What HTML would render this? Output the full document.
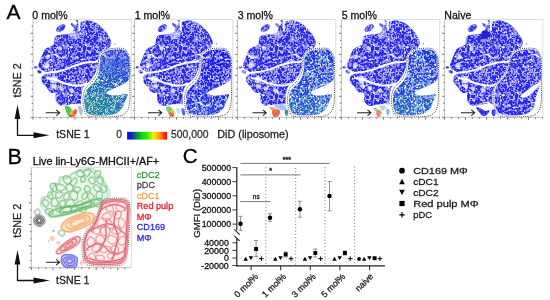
<!DOCTYPE html><html><head><meta charset="utf-8"><style>html,body{margin:0;padding:0;background:#fff;width:550px;height:300px;overflow:hidden}svg{display:block}text{font-family:"Liberation Sans", sans-serif}</style></head><body>
<svg width="550" height="300" viewBox="0 0 550 300">
<defs><pattern id="spW" width="48" height="48" patternUnits="userSpaceOnUse"><path d="M12,0h1v1h-1zM23,0h1v1h-1zM16,1h1v1h-1zM19,1h1v1h-1zM20,2h1v1h-1zM37,2h1v1h-1zM10,3h1v1h-1zM11,3h1v1h-1zM13,3h1v1h-1zM18,3h1v1h-1zM26,3h1v1h-1zM35,3h1v1h-1zM38,3h1v1h-1zM5,4h1v1h-1zM8,4h1v1h-1zM11,4h1v1h-1zM12,4h1v1h-1zM25,4h1v1h-1zM34,4h1v1h-1zM2,5h1v1h-1zM10,5h1v1h-1zM32,5h1v1h-1zM34,5h1v1h-1zM35,5h1v1h-1zM10,6h1v1h-1zM13,6h1v1h-1zM18,6h1v1h-1zM47,6h1v1h-1zM5,7h1v1h-1zM25,7h1v1h-1zM1,8h1v1h-1zM5,8h1v1h-1zM25,8h1v1h-1zM20,9h1v1h-1zM14,10h1v1h-1zM16,10h1v1h-1zM33,10h1v1h-1zM46,10h1v1h-1zM15,11h1v1h-1zM16,11h1v1h-1zM26,11h1v1h-1zM38,11h1v1h-1zM47,11h1v1h-1zM10,12h1v1h-1zM40,12h1v1h-1zM47,12h1v1h-1zM9,13h1v1h-1zM15,13h1v1h-1zM33,13h1v1h-1zM0,14h1v1h-1zM6,14h1v1h-1zM11,14h1v1h-1zM13,14h1v1h-1zM17,14h1v1h-1zM21,14h1v1h-1zM31,14h1v1h-1zM45,14h1v1h-1zM17,15h1v1h-1zM45,15h1v1h-1zM47,15h1v1h-1zM4,16h1v1h-1zM6,16h1v1h-1zM10,16h1v1h-1zM22,17h1v1h-1zM42,17h1v1h-1zM44,17h1v1h-1zM7,18h1v1h-1zM30,18h1v1h-1zM4,19h1v1h-1zM11,19h1v1h-1zM23,19h1v1h-1zM25,19h1v1h-1zM30,19h1v1h-1zM35,19h1v1h-1zM36,19h1v1h-1zM37,19h1v1h-1zM41,19h1v1h-1zM2,20h1v1h-1zM8,20h1v1h-1zM12,20h1v1h-1zM20,20h1v1h-1zM46,20h1v1h-1zM47,20h1v1h-1zM11,21h1v1h-1zM32,21h1v1h-1zM11,22h1v1h-1zM37,22h1v1h-1zM47,22h1v1h-1zM5,23h1v1h-1zM29,23h1v1h-1zM20,24h1v1h-1zM21,24h1v1h-1zM22,25h1v1h-1zM27,25h1v1h-1zM28,25h1v1h-1zM36,25h1v1h-1zM39,25h1v1h-1zM8,26h1v1h-1zM28,26h1v1h-1zM30,26h1v1h-1zM43,26h1v1h-1zM46,26h1v1h-1zM16,27h1v1h-1zM21,27h1v1h-1zM25,27h1v1h-1zM28,27h1v1h-1zM39,27h1v1h-1zM44,27h1v1h-1zM46,27h1v1h-1zM5,28h1v1h-1zM6,28h1v1h-1zM10,28h1v1h-1zM30,28h1v1h-1zM40,28h1v1h-1zM46,28h1v1h-1zM4,29h1v1h-1zM16,29h1v1h-1zM25,29h1v1h-1zM5,30h1v1h-1zM26,30h1v1h-1zM36,30h1v1h-1zM42,30h1v1h-1zM15,31h1v1h-1zM28,31h1v1h-1zM31,31h1v1h-1zM46,31h1v1h-1zM6,32h1v1h-1zM33,32h1v1h-1zM38,32h1v1h-1zM3,33h1v1h-1zM10,33h1v1h-1zM26,33h1v1h-1zM22,34h1v1h-1zM10,35h1v1h-1zM14,35h1v1h-1zM8,36h1v1h-1zM16,36h1v1h-1zM38,36h1v1h-1zM45,36h1v1h-1zM5,37h1v1h-1zM11,37h1v1h-1zM21,37h1v1h-1zM26,37h1v1h-1zM7,38h1v1h-1zM19,38h1v1h-1zM24,38h1v1h-1zM30,38h1v1h-1zM35,38h1v1h-1zM7,39h1v1h-1zM19,39h1v1h-1zM22,39h1v1h-1zM23,39h1v1h-1zM42,39h1v1h-1zM0,41h1v1h-1zM13,41h1v1h-1zM20,41h1v1h-1zM2,42h1v1h-1zM4,42h1v1h-1zM9,42h1v1h-1zM10,42h1v1h-1zM21,42h1v1h-1zM24,42h1v1h-1zM26,42h1v1h-1zM43,42h1v1h-1zM10,43h1v1h-1zM15,43h1v1h-1zM25,43h1v1h-1zM28,43h1v1h-1zM39,43h1v1h-1zM2,44h1v1h-1zM16,44h1v1h-1zM20,44h1v1h-1zM34,44h1v1h-1zM47,44h1v1h-1zM26,45h1v1h-1zM46,45h1v1h-1zM4,46h1v1h-1zM26,46h1v1h-1zM34,46h1v1h-1zM35,46h1v1h-1zM43,46h1v1h-1zM3,47h1v1h-1zM6,47h1v1h-1zM27,47h1v1h-1zM44,47h1v1h-1zM46,47h1v1h-1z" fill="#9c9cf8" fill-opacity="0.5"/><path d="M15,0h1v1h-1zM19,0h1v1h-1zM27,0h1v1h-1zM28,1h1v1h-1zM43,1h1v1h-1zM44,1h1v1h-1zM8,2h1v1h-1zM12,2h1v1h-1zM17,2h1v1h-1zM43,2h1v1h-1zM47,2h1v1h-1zM17,3h1v1h-1zM29,3h1v1h-1zM43,3h1v1h-1zM3,4h1v1h-1zM29,4h1v1h-1zM4,5h1v1h-1zM9,5h1v1h-1zM13,5h1v1h-1zM24,5h1v1h-1zM27,5h1v1h-1zM27,6h1v1h-1zM17,7h1v1h-1zM23,7h1v1h-1zM24,7h1v1h-1zM34,7h1v1h-1zM44,7h1v1h-1zM47,7h1v1h-1zM39,8h1v1h-1zM40,8h1v1h-1zM41,8h1v1h-1zM18,9h1v1h-1zM40,9h1v1h-1zM3,10h1v1h-1zM12,10h1v1h-1zM29,10h1v1h-1zM34,10h1v1h-1zM36,10h1v1h-1zM38,10h1v1h-1zM42,10h1v1h-1zM43,10h1v1h-1zM45,10h1v1h-1zM1,11h1v1h-1zM4,11h1v1h-1zM32,11h1v1h-1zM41,11h1v1h-1zM9,12h1v1h-1zM11,12h1v1h-1zM34,12h1v1h-1zM42,12h1v1h-1zM5,13h1v1h-1zM6,13h1v1h-1zM10,13h1v1h-1zM22,13h1v1h-1zM29,13h1v1h-1zM1,14h1v1h-1zM7,14h1v1h-1zM34,14h1v1h-1zM39,14h1v1h-1zM47,14h1v1h-1zM3,15h1v1h-1zM7,15h1v1h-1zM27,15h1v1h-1zM36,15h1v1h-1zM13,16h1v1h-1zM21,17h1v1h-1zM25,17h1v1h-1zM29,17h1v1h-1zM1,18h1v1h-1zM8,18h1v1h-1zM9,18h1v1h-1zM11,18h1v1h-1zM38,18h1v1h-1zM9,19h1v1h-1zM26,19h1v1h-1zM32,19h1v1h-1zM39,19h1v1h-1zM42,19h1v1h-1zM4,20h1v1h-1zM10,20h1v1h-1zM22,20h1v1h-1zM39,20h1v1h-1zM44,20h1v1h-1zM3,21h1v1h-1zM18,21h1v1h-1zM27,21h1v1h-1zM35,21h1v1h-1zM36,21h1v1h-1zM46,21h1v1h-1zM1,22h1v1h-1zM3,22h1v1h-1zM24,22h1v1h-1zM32,22h1v1h-1zM33,22h1v1h-1zM34,22h1v1h-1zM44,22h1v1h-1zM2,23h1v1h-1zM11,23h1v1h-1zM15,23h1v1h-1zM22,23h1v1h-1zM27,23h1v1h-1zM28,23h1v1h-1zM42,23h1v1h-1zM4,24h1v1h-1zM10,24h1v1h-1zM22,24h1v1h-1zM31,25h1v1h-1zM33,25h1v1h-1zM13,26h1v1h-1zM2,27h1v1h-1zM5,27h1v1h-1zM8,27h1v1h-1zM29,27h1v1h-1zM45,27h1v1h-1zM4,28h1v1h-1zM7,28h1v1h-1zM22,28h1v1h-1zM23,28h1v1h-1zM1,29h1v1h-1zM7,29h1v1h-1zM32,29h1v1h-1zM35,29h1v1h-1zM2,30h1v1h-1zM11,30h1v1h-1zM31,30h1v1h-1zM33,30h1v1h-1zM40,30h1v1h-1zM41,30h1v1h-1zM45,30h1v1h-1zM0,31h1v1h-1zM5,31h1v1h-1zM20,31h1v1h-1zM25,31h1v1h-1zM29,31h1v1h-1zM36,31h1v1h-1zM38,31h1v1h-1zM42,31h1v1h-1zM45,31h1v1h-1zM8,32h1v1h-1zM17,32h1v1h-1zM36,32h1v1h-1zM44,32h1v1h-1zM14,33h1v1h-1zM18,33h1v1h-1zM23,33h1v1h-1zM24,33h1v1h-1zM36,33h1v1h-1zM6,34h1v1h-1zM15,34h1v1h-1zM17,34h1v1h-1zM23,34h1v1h-1zM24,34h1v1h-1zM29,34h1v1h-1zM35,34h1v1h-1zM36,34h1v1h-1zM37,34h1v1h-1zM24,35h1v1h-1zM36,35h1v1h-1zM38,35h1v1h-1zM43,35h1v1h-1zM47,35h1v1h-1zM20,36h1v1h-1zM34,36h1v1h-1zM42,36h1v1h-1zM44,36h1v1h-1zM2,37h1v1h-1zM13,37h1v1h-1zM20,37h1v1h-1zM28,37h1v1h-1zM3,38h1v1h-1zM20,38h1v1h-1zM21,38h1v1h-1zM8,39h1v1h-1zM33,39h1v1h-1zM34,39h1v1h-1zM0,40h1v1h-1zM5,40h1v1h-1zM21,40h1v1h-1zM24,40h1v1h-1zM26,40h1v1h-1zM27,40h1v1h-1zM29,40h1v1h-1zM2,41h1v1h-1zM8,41h1v1h-1zM11,41h1v1h-1zM14,41h1v1h-1zM35,41h1v1h-1zM5,42h1v1h-1zM42,42h1v1h-1zM12,43h1v1h-1zM29,43h1v1h-1zM38,43h1v1h-1zM45,43h1v1h-1zM1,44h1v1h-1zM18,44h1v1h-1zM26,44h1v1h-1zM27,44h1v1h-1zM29,44h1v1h-1zM30,44h1v1h-1zM9,45h1v1h-1zM11,45h1v1h-1zM25,45h1v1h-1zM28,45h1v1h-1zM35,45h1v1h-1zM39,45h1v1h-1zM28,46h1v1h-1zM10,47h1v1h-1zM17,47h1v1h-1zM43,47h1v1h-1zM47,47h1v1h-1z" fill="#9c9cf8" fill-opacity="0.75"/><path d="M1,1h1v1h-1zM34,1h1v1h-1zM1,2h1v1h-1zM42,3h1v1h-1zM26,4h1v1h-1zM37,4h1v1h-1zM20,5h1v1h-1zM25,5h1v1h-1zM26,5h1v1h-1zM37,5h1v1h-1zM25,6h1v1h-1zM37,6h1v1h-1zM6,7h1v1h-1zM7,7h1v1h-1zM10,7h1v1h-1zM14,8h1v1h-1zM15,8h1v1h-1zM24,8h1v1h-1zM27,8h1v1h-1zM34,8h1v1h-1zM15,10h1v1h-1zM18,10h1v1h-1zM24,10h1v1h-1zM25,10h1v1h-1zM28,10h1v1h-1zM40,10h1v1h-1zM5,11h1v1h-1zM35,11h1v1h-1zM2,12h1v1h-1zM5,12h1v1h-1zM24,12h1v1h-1zM46,13h1v1h-1zM7,16h1v1h-1zM11,17h1v1h-1zM2,18h1v1h-1zM13,18h1v1h-1zM14,18h1v1h-1zM17,18h1v1h-1zM2,19h1v1h-1zM27,19h1v1h-1zM44,19h1v1h-1zM37,20h1v1h-1zM38,20h1v1h-1zM45,20h1v1h-1zM45,21h1v1h-1zM45,22h1v1h-1zM4,23h1v1h-1zM9,23h1v1h-1zM23,23h1v1h-1zM32,23h1v1h-1zM5,24h1v1h-1zM23,24h1v1h-1zM0,25h1v1h-1zM6,25h1v1h-1zM35,25h1v1h-1zM43,25h1v1h-1zM0,26h1v1h-1zM5,26h1v1h-1zM14,26h1v1h-1zM24,27h1v1h-1zM8,28h1v1h-1zM34,28h1v1h-1zM45,28h1v1h-1zM8,29h1v1h-1zM34,29h1v1h-1zM40,29h1v1h-1zM47,29h1v1h-1zM0,30h1v1h-1zM46,30h1v1h-1zM47,30h1v1h-1zM9,31h1v1h-1zM17,31h1v1h-1zM23,32h1v1h-1zM8,33h1v1h-1zM20,34h1v1h-1zM30,34h1v1h-1zM33,34h1v1h-1zM20,35h1v1h-1zM21,35h1v1h-1zM22,35h1v1h-1zM33,35h1v1h-1zM42,35h1v1h-1zM3,36h1v1h-1zM27,36h1v1h-1zM31,36h1v1h-1zM3,37h1v1h-1zM7,37h1v1h-1zM29,37h1v1h-1zM5,38h1v1h-1zM11,38h1v1h-1zM33,38h1v1h-1zM1,40h1v1h-1zM4,40h1v1h-1zM6,40h1v1h-1zM9,40h1v1h-1zM34,41h1v1h-1zM33,42h1v1h-1zM34,42h1v1h-1zM37,42h1v1h-1zM41,43h1v1h-1zM15,44h1v1h-1zM25,44h1v1h-1zM41,44h1v1h-1zM46,44h1v1h-1zM16,45h1v1h-1zM29,45h1v1h-1zM30,45h1v1h-1zM19,46h1v1h-1zM40,46h1v1h-1zM8,47h1v1h-1zM18,47h1v1h-1zM38,47h1v1h-1z" fill="#9c9cf8" fill-opacity="0.95"/><path d="M1,0h1v1h-1zM11,0h1v1h-1zM17,0h1v1h-1zM22,0h1v1h-1zM2,1h1v1h-1zM45,1h1v1h-1zM3,2h1v1h-1zM18,2h1v1h-1zM27,2h1v1h-1zM3,3h1v1h-1zM8,3h1v1h-1zM21,3h1v1h-1zM34,3h1v1h-1zM44,3h1v1h-1zM45,3h1v1h-1zM15,4h1v1h-1zM17,4h1v1h-1zM14,5h1v1h-1zM17,5h1v1h-1zM19,5h1v1h-1zM36,5h1v1h-1zM2,6h1v1h-1zM23,6h1v1h-1zM2,7h1v1h-1zM15,7h1v1h-1zM16,7h1v1h-1zM32,7h1v1h-1zM18,8h1v1h-1zM32,8h1v1h-1zM44,8h1v1h-1zM46,8h1v1h-1zM4,9h1v1h-1zM9,9h1v1h-1zM13,9h1v1h-1zM19,9h1v1h-1zM26,9h1v1h-1zM6,10h1v1h-1zM17,10h1v1h-1zM14,11h1v1h-1zM24,11h1v1h-1zM29,11h1v1h-1zM15,12h1v1h-1zM2,13h1v1h-1zM13,13h1v1h-1zM17,13h1v1h-1zM28,13h1v1h-1zM38,13h1v1h-1zM40,13h1v1h-1zM42,13h1v1h-1zM27,14h1v1h-1zM30,14h1v1h-1zM33,14h1v1h-1zM4,15h1v1h-1zM11,15h1v1h-1zM24,15h1v1h-1zM25,15h1v1h-1zM26,15h1v1h-1zM35,15h1v1h-1zM38,15h1v1h-1zM41,15h1v1h-1zM0,16h1v1h-1zM12,16h1v1h-1zM15,16h1v1h-1zM22,16h1v1h-1zM37,16h1v1h-1zM42,16h1v1h-1zM47,16h1v1h-1zM1,17h1v1h-1zM4,17h1v1h-1zM15,17h1v1h-1zM18,17h1v1h-1zM33,17h1v1h-1zM36,17h1v1h-1zM46,17h1v1h-1zM0,19h1v1h-1zM3,19h1v1h-1zM8,19h1v1h-1zM10,19h1v1h-1zM1,20h1v1h-1zM5,20h1v1h-1zM18,20h1v1h-1zM21,20h1v1h-1zM25,20h1v1h-1zM30,20h1v1h-1zM1,21h1v1h-1zM12,21h1v1h-1zM14,21h1v1h-1zM16,21h1v1h-1zM40,21h1v1h-1zM0,22h1v1h-1zM14,22h1v1h-1zM30,22h1v1h-1zM37,23h1v1h-1zM41,23h1v1h-1zM47,24h1v1h-1zM2,25h1v1h-1zM7,25h1v1h-1zM8,25h1v1h-1zM11,25h1v1h-1zM13,25h1v1h-1zM18,25h1v1h-1zM25,25h1v1h-1zM29,25h1v1h-1zM32,25h1v1h-1zM41,25h1v1h-1zM45,25h1v1h-1zM16,26h1v1h-1zM31,26h1v1h-1zM39,26h1v1h-1zM13,27h1v1h-1zM14,27h1v1h-1zM17,27h1v1h-1zM23,27h1v1h-1zM26,28h1v1h-1zM32,28h1v1h-1zM0,29h1v1h-1zM22,29h1v1h-1zM23,29h1v1h-1zM29,29h1v1h-1zM33,29h1v1h-1zM7,30h1v1h-1zM9,30h1v1h-1zM19,30h1v1h-1zM22,30h1v1h-1zM23,30h1v1h-1zM12,31h1v1h-1zM34,31h1v1h-1zM35,31h1v1h-1zM40,31h1v1h-1zM41,31h1v1h-1zM1,32h1v1h-1zM12,32h1v1h-1zM34,32h1v1h-1zM15,33h1v1h-1zM29,33h1v1h-1zM30,33h1v1h-1zM31,33h1v1h-1zM39,33h1v1h-1zM47,33h1v1h-1zM2,34h1v1h-1zM5,34h1v1h-1zM9,34h1v1h-1zM11,34h1v1h-1zM25,34h1v1h-1zM4,35h1v1h-1zM44,35h1v1h-1zM0,36h1v1h-1zM22,36h1v1h-1zM23,36h1v1h-1zM26,36h1v1h-1zM33,36h1v1h-1zM35,36h1v1h-1zM4,37h1v1h-1zM6,37h1v1h-1zM9,37h1v1h-1zM39,37h1v1h-1zM45,37h1v1h-1zM2,38h1v1h-1zM6,38h1v1h-1zM14,38h1v1h-1zM15,38h1v1h-1zM16,38h1v1h-1zM29,38h1v1h-1zM31,38h1v1h-1zM1,39h1v1h-1zM6,39h1v1h-1zM16,39h1v1h-1zM20,39h1v1h-1zM28,39h1v1h-1zM11,40h1v1h-1zM31,40h1v1h-1zM5,41h1v1h-1zM10,41h1v1h-1zM15,41h1v1h-1zM21,41h1v1h-1zM30,41h1v1h-1zM41,41h1v1h-1zM44,41h1v1h-1zM13,42h1v1h-1zM15,42h1v1h-1zM22,42h1v1h-1zM32,42h1v1h-1zM7,43h1v1h-1zM11,43h1v1h-1zM14,43h1v1h-1zM17,43h1v1h-1zM34,43h1v1h-1zM0,44h1v1h-1zM5,44h1v1h-1zM9,44h1v1h-1zM12,45h1v1h-1zM17,45h1v1h-1zM18,45h1v1h-1zM23,45h1v1h-1zM27,45h1v1h-1zM34,45h1v1h-1zM41,45h1v1h-1zM42,45h1v1h-1zM1,46h1v1h-1zM3,46h1v1h-1zM10,46h1v1h-1zM11,46h1v1h-1zM12,46h1v1h-1zM29,46h1v1h-1zM44,46h1v1h-1zM15,47h1v1h-1zM19,47h1v1h-1zM21,47h1v1h-1zM29,47h1v1h-1z" fill="#c4c4fa" fill-opacity="0.5"/><path d="M2,0h1v1h-1zM5,0h1v1h-1zM9,0h1v1h-1zM16,0h1v1h-1zM18,0h1v1h-1zM38,0h1v1h-1zM43,0h1v1h-1zM6,1h1v1h-1zM20,1h1v1h-1zM27,1h1v1h-1zM29,1h1v1h-1zM38,1h1v1h-1zM6,2h1v1h-1zM33,2h1v1h-1zM2,3h1v1h-1zM4,3h1v1h-1zM33,3h1v1h-1zM37,3h1v1h-1zM41,3h1v1h-1zM7,4h1v1h-1zM13,4h1v1h-1zM28,4h1v1h-1zM33,4h1v1h-1zM38,4h1v1h-1zM3,5h1v1h-1zM28,5h1v1h-1zM41,5h1v1h-1zM42,5h1v1h-1zM9,6h1v1h-1zM17,6h1v1h-1zM20,6h1v1h-1zM24,6h1v1h-1zM26,6h1v1h-1zM3,7h1v1h-1zM27,7h1v1h-1zM3,8h1v1h-1zM4,8h1v1h-1zM11,8h1v1h-1zM22,8h1v1h-1zM33,8h1v1h-1zM8,9h1v1h-1zM23,9h1v1h-1zM24,9h1v1h-1zM38,9h1v1h-1zM41,9h1v1h-1zM43,9h1v1h-1zM11,10h1v1h-1zM19,10h1v1h-1zM26,10h1v1h-1zM35,10h1v1h-1zM47,10h1v1h-1zM10,11h1v1h-1zM18,11h1v1h-1zM22,11h1v1h-1zM25,11h1v1h-1zM27,11h1v1h-1zM40,11h1v1h-1zM0,12h1v1h-1zM23,12h1v1h-1zM3,13h1v1h-1zM14,13h1v1h-1zM24,13h1v1h-1zM30,13h1v1h-1zM31,13h1v1h-1zM41,13h1v1h-1zM9,14h1v1h-1zM12,14h1v1h-1zM32,14h1v1h-1zM41,14h1v1h-1zM46,14h1v1h-1zM9,15h1v1h-1zM10,15h1v1h-1zM13,15h1v1h-1zM14,15h1v1h-1zM44,15h1v1h-1zM3,16h1v1h-1zM8,16h1v1h-1zM9,16h1v1h-1zM11,16h1v1h-1zM14,16h1v1h-1zM33,16h1v1h-1zM0,17h1v1h-1zM14,17h1v1h-1zM20,17h1v1h-1zM23,17h1v1h-1zM24,17h1v1h-1zM30,17h1v1h-1zM19,18h1v1h-1zM24,18h1v1h-1zM25,18h1v1h-1zM29,18h1v1h-1zM42,18h1v1h-1zM46,18h1v1h-1zM47,18h1v1h-1zM17,19h1v1h-1zM19,19h1v1h-1zM31,19h1v1h-1zM47,19h1v1h-1zM0,20h1v1h-1zM9,20h1v1h-1zM31,20h1v1h-1zM32,20h1v1h-1zM33,20h1v1h-1zM36,20h1v1h-1zM15,21h1v1h-1zM21,21h1v1h-1zM6,22h1v1h-1zM21,22h1v1h-1zM31,22h1v1h-1zM41,22h1v1h-1zM1,23h1v1h-1zM3,23h1v1h-1zM30,23h1v1h-1zM34,23h1v1h-1zM44,23h1v1h-1zM45,23h1v1h-1zM2,24h1v1h-1zM7,24h1v1h-1zM11,24h1v1h-1zM24,24h1v1h-1zM26,24h1v1h-1zM28,24h1v1h-1zM32,24h1v1h-1zM35,24h1v1h-1zM37,24h1v1h-1zM20,25h1v1h-1zM21,25h1v1h-1zM24,25h1v1h-1zM26,25h1v1h-1zM34,25h1v1h-1zM44,25h1v1h-1zM1,26h1v1h-1zM4,26h1v1h-1zM12,26h1v1h-1zM25,26h1v1h-1zM38,26h1v1h-1zM47,26h1v1h-1zM11,27h1v1h-1zM18,27h1v1h-1zM30,27h1v1h-1zM47,27h1v1h-1zM0,28h1v1h-1zM1,28h1v1h-1zM44,28h1v1h-1zM26,29h1v1h-1zM1,30h1v1h-1zM3,30h1v1h-1zM17,30h1v1h-1zM34,30h1v1h-1zM37,30h1v1h-1zM6,31h1v1h-1zM7,31h1v1h-1zM10,31h1v1h-1zM24,31h1v1h-1zM33,31h1v1h-1zM43,31h1v1h-1zM44,31h1v1h-1zM10,32h1v1h-1zM22,32h1v1h-1zM25,32h1v1h-1zM31,32h1v1h-1zM32,32h1v1h-1zM5,33h1v1h-1zM13,33h1v1h-1zM17,33h1v1h-1zM33,33h1v1h-1zM21,34h1v1h-1zM26,34h1v1h-1zM27,34h1v1h-1zM42,34h1v1h-1zM2,35h1v1h-1zM23,35h1v1h-1zM25,35h1v1h-1zM35,35h1v1h-1zM46,35h1v1h-1zM2,36h1v1h-1zM12,36h1v1h-1zM39,36h1v1h-1zM40,36h1v1h-1zM43,36h1v1h-1zM8,37h1v1h-1zM31,37h1v1h-1zM40,37h1v1h-1zM44,37h1v1h-1zM17,38h1v1h-1zM27,38h1v1h-1zM43,38h1v1h-1zM3,39h1v1h-1zM9,39h1v1h-1zM35,39h1v1h-1zM37,39h1v1h-1zM2,40h1v1h-1zM8,40h1v1h-1zM16,40h1v1h-1zM22,40h1v1h-1zM37,40h1v1h-1zM9,41h1v1h-1zM17,41h1v1h-1zM33,41h1v1h-1zM18,42h1v1h-1zM36,42h1v1h-1zM41,42h1v1h-1zM2,43h1v1h-1zM5,43h1v1h-1zM33,43h1v1h-1zM46,43h1v1h-1zM7,44h1v1h-1zM14,44h1v1h-1zM28,44h1v1h-1zM36,44h1v1h-1zM1,45h1v1h-1zM4,45h1v1h-1zM40,45h1v1h-1zM45,45h1v1h-1zM2,46h1v1h-1zM9,46h1v1h-1zM16,46h1v1h-1zM18,46h1v1h-1zM21,46h1v1h-1zM30,46h1v1h-1zM31,46h1v1h-1zM38,46h1v1h-1zM45,46h1v1h-1zM5,47h1v1h-1zM7,47h1v1h-1zM11,47h1v1h-1zM26,47h1v1h-1zM31,47h1v1h-1z" fill="#c4c4fa" fill-opacity="0.75"/><path d="M8,0h1v1h-1zM33,0h1v1h-1zM44,0h1v1h-1zM45,0h1v1h-1zM33,1h1v1h-1zM0,2h1v1h-1zM38,2h1v1h-1zM1,3h1v1h-1zM40,3h1v1h-1zM1,4h1v1h-1zM2,4h1v1h-1zM8,5h1v1h-1zM11,5h1v1h-1zM12,5h1v1h-1zM21,5h1v1h-1zM4,6h1v1h-1zM0,7h1v1h-1zM1,7h1v1h-1zM0,8h1v1h-1zM8,8h1v1h-1zM3,9h1v1h-1zM10,9h1v1h-1zM11,9h1v1h-1zM25,9h1v1h-1zM27,9h1v1h-1zM28,9h1v1h-1zM30,9h1v1h-1zM10,10h1v1h-1zM27,10h1v1h-1zM30,10h1v1h-1zM39,10h1v1h-1zM41,10h1v1h-1zM36,11h1v1h-1zM3,12h1v1h-1zM4,12h1v1h-1zM41,12h1v1h-1zM11,13h1v1h-1zM12,13h1v1h-1zM47,13h1v1h-1zM35,14h1v1h-1zM7,17h1v1h-1zM47,17h1v1h-1zM18,18h1v1h-1zM27,18h1v1h-1zM43,18h1v1h-1zM45,18h1v1h-1zM18,19h1v1h-1zM45,19h1v1h-1zM4,21h1v1h-1zM31,21h1v1h-1zM37,21h1v1h-1zM2,22h1v1h-1zM15,22h1v1h-1zM46,22h1v1h-1zM12,23h1v1h-1zM16,23h1v1h-1zM31,23h1v1h-1zM36,23h1v1h-1zM6,24h1v1h-1zM8,24h1v1h-1zM27,24h1v1h-1zM31,24h1v1h-1zM42,24h1v1h-1zM5,25h1v1h-1zM11,26h1v1h-1zM36,26h1v1h-1zM6,27h1v1h-1zM36,27h1v1h-1zM42,27h1v1h-1zM43,27h1v1h-1zM9,28h1v1h-1zM24,28h1v1h-1zM47,28h1v1h-1zM9,29h1v1h-1zM46,29h1v1h-1zM20,30h1v1h-1zM21,30h1v1h-1zM8,31h1v1h-1zM16,31h1v1h-1zM21,31h1v1h-1zM37,31h1v1h-1zM11,33h1v1h-1zM35,33h1v1h-1zM32,34h1v1h-1zM26,35h1v1h-1zM27,35h1v1h-1zM30,35h1v1h-1zM41,35h1v1h-1zM45,35h1v1h-1zM4,36h1v1h-1zM7,36h1v1h-1zM12,37h1v1h-1zM30,37h1v1h-1zM10,38h1v1h-1zM5,39h1v1h-1zM27,39h1v1h-1zM7,40h1v1h-1zM34,40h1v1h-1zM4,41h1v1h-1zM24,41h1v1h-1zM37,43h1v1h-1zM8,44h1v1h-1zM19,44h1v1h-1zM35,44h1v1h-1zM38,44h1v1h-1zM40,44h1v1h-1zM0,45h1v1h-1zM14,45h1v1h-1zM20,45h1v1h-1zM0,46h1v1h-1zM20,46h1v1h-1zM22,46h1v1h-1zM23,46h1v1h-1zM32,46h1v1h-1zM42,46h1v1h-1zM0,47h1v1h-1zM2,47h1v1h-1zM16,47h1v1h-1zM32,47h1v1h-1z" fill="#c4c4fa" fill-opacity="0.95"/><path d="M34,0h1v1h-1zM3,1h1v1h-1zM8,1h1v1h-1zM22,1h1v1h-1zM46,1h1v1h-1zM47,1h1v1h-1zM22,2h1v1h-1zM26,2h1v1h-1zM7,3h1v1h-1zM15,3h1v1h-1zM0,4h1v1h-1zM10,4h1v1h-1zM32,4h1v1h-1zM40,4h1v1h-1zM7,5h1v1h-1zM36,6h1v1h-1zM4,7h1v1h-1zM20,7h1v1h-1zM37,7h1v1h-1zM20,8h1v1h-1zM37,8h1v1h-1zM43,8h1v1h-1zM45,8h1v1h-1zM47,8h1v1h-1zM5,9h1v1h-1zM45,9h1v1h-1zM5,10h1v1h-1zM6,12h1v1h-1zM12,12h1v1h-1zM14,12h1v1h-1zM22,12h1v1h-1zM33,12h1v1h-1zM4,13h1v1h-1zM35,13h1v1h-1zM5,14h1v1h-1zM19,14h1v1h-1zM15,15h1v1h-1zM17,16h1v1h-1zM23,16h1v1h-1zM41,16h1v1h-1zM6,17h1v1h-1zM10,18h1v1h-1zM43,19h1v1h-1zM6,20h1v1h-1zM7,20h1v1h-1zM17,20h1v1h-1zM24,20h1v1h-1zM28,20h1v1h-1zM2,21h1v1h-1zM7,21h1v1h-1zM33,21h1v1h-1zM13,23h1v1h-1zM14,23h1v1h-1zM0,24h1v1h-1zM18,24h1v1h-1zM34,24h1v1h-1zM36,24h1v1h-1zM37,25h1v1h-1zM42,25h1v1h-1zM15,26h1v1h-1zM20,26h1v1h-1zM34,26h1v1h-1zM42,26h1v1h-1zM45,26h1v1h-1zM4,27h1v1h-1zM31,27h1v1h-1zM11,28h1v1h-1zM27,28h1v1h-1zM35,30h1v1h-1zM30,31h1v1h-1zM37,32h1v1h-1zM41,32h1v1h-1zM34,33h1v1h-1zM4,34h1v1h-1zM7,34h1v1h-1zM12,35h1v1h-1zM5,36h1v1h-1zM32,36h1v1h-1zM10,37h1v1h-1zM14,37h1v1h-1zM35,37h1v1h-1zM43,37h1v1h-1zM34,38h1v1h-1zM42,38h1v1h-1zM2,39h1v1h-1zM38,39h1v1h-1zM3,40h1v1h-1zM17,40h1v1h-1zM20,40h1v1h-1zM23,40h1v1h-1zM38,40h1v1h-1zM1,41h1v1h-1zM45,41h1v1h-1zM14,42h1v1h-1zM31,42h1v1h-1zM18,43h1v1h-1zM26,43h1v1h-1zM40,43h1v1h-1zM47,43h1v1h-1zM13,44h1v1h-1zM23,44h1v1h-1zM39,44h1v1h-1zM8,45h1v1h-1zM43,45h1v1h-1zM17,46h1v1h-1zM24,46h1v1h-1zM27,46h1v1h-1zM28,47h1v1h-1zM34,47h1v1h-1z" fill="#ffffff" fill-opacity="0.5"/><path d="M28,0h1v1h-1zM7,1h1v1h-1zM13,1h1v1h-1zM29,2h1v1h-1zM40,2h1v1h-1zM42,2h1v1h-1zM0,3h1v1h-1zM20,3h1v1h-1zM23,3h1v1h-1zM30,3h1v1h-1zM31,3h1v1h-1zM32,3h1v1h-1zM4,4h1v1h-1zM20,4h1v1h-1zM3,6h1v1h-1zM8,6h1v1h-1zM18,7h1v1h-1zM16,8h1v1h-1zM17,8h1v1h-1zM28,8h1v1h-1zM29,8h1v1h-1zM16,9h1v1h-1zM17,9h1v1h-1zM39,9h1v1h-1zM42,9h1v1h-1zM0,13h1v1h-1zM23,13h1v1h-1zM2,14h1v1h-1zM10,14h1v1h-1zM28,14h1v1h-1zM29,14h1v1h-1zM36,14h1v1h-1zM40,14h1v1h-1zM44,14h1v1h-1zM43,16h1v1h-1zM8,17h1v1h-1zM13,17h1v1h-1zM3,18h1v1h-1zM4,18h1v1h-1zM26,18h1v1h-1zM46,19h1v1h-1zM26,20h1v1h-1zM40,20h1v1h-1zM6,21h1v1h-1zM34,21h1v1h-1zM4,22h1v1h-1zM7,22h1v1h-1zM12,22h1v1h-1zM36,22h1v1h-1zM6,23h1v1h-1zM17,23h1v1h-1zM35,23h1v1h-1zM43,23h1v1h-1zM1,24h1v1h-1zM3,24h1v1h-1zM14,24h1v1h-1zM43,24h1v1h-1zM14,25h1v1h-1zM2,26h1v1h-1zM6,26h1v1h-1zM33,26h1v1h-1zM25,28h1v1h-1zM29,28h1v1h-1zM36,28h1v1h-1zM18,29h1v1h-1zM21,29h1v1h-1zM18,30h1v1h-1zM29,30h1v1h-1zM30,30h1v1h-1zM1,31h1v1h-1zM26,31h1v1h-1zM47,31h1v1h-1zM7,32h1v1h-1zM11,32h1v1h-1zM35,32h1v1h-1zM47,32h1v1h-1zM2,33h1v1h-1zM4,33h1v1h-1zM46,33h1v1h-1zM8,34h1v1h-1zM31,34h1v1h-1zM34,34h1v1h-1zM38,34h1v1h-1zM45,34h1v1h-1zM7,35h1v1h-1zM14,36h1v1h-1zM8,38h1v1h-1zM12,38h1v1h-1zM32,38h1v1h-1zM10,39h1v1h-1zM17,39h1v1h-1zM33,40h1v1h-1zM44,40h1v1h-1zM3,41h1v1h-1zM7,41h1v1h-1zM29,41h1v1h-1zM24,44h1v1h-1zM37,45h1v1h-1zM15,46h1v1h-1zM39,46h1v1h-1zM41,46h1v1h-1zM47,46h1v1h-1zM1,47h1v1h-1zM24,47h1v1h-1z" fill="#ffffff" fill-opacity="0.75"/><path d="M20,0h1v1h-1zM7,2h1v1h-1zM34,2h1v1h-1zM39,2h1v1h-1zM21,4h1v1h-1zM41,4h1v1h-1zM42,4h1v1h-1zM5,6h1v1h-1zM6,6h1v1h-1zM7,6h1v1h-1zM8,7h1v1h-1zM9,7h1v1h-1zM9,8h1v1h-1zM10,8h1v1h-1zM23,8h1v1h-1zM12,9h1v1h-1zM14,9h1v1h-1zM15,9h1v1h-1zM29,9h1v1h-1zM13,10h1v1h-1zM2,11h1v1h-1zM3,11h1v1h-1zM9,11h1v1h-1zM33,11h1v1h-1zM34,11h1v1h-1zM37,11h1v1h-1zM1,12h1v1h-1zM43,17h1v1h-1zM0,18h1v1h-1zM23,18h1v1h-1zM44,18h1v1h-1zM38,19h1v1h-1zM27,20h1v1h-1zM0,21h1v1h-1zM9,24h1v1h-1zM38,25h1v1h-1zM47,25h1v1h-1zM18,28h1v1h-1zM21,28h1v1h-1zM35,28h1v1h-1zM8,30h1v1h-1zM16,30h1v1h-1zM24,32h1v1h-1zM26,32h1v1h-1zM32,33h1v1h-1zM38,33h1v1h-1zM30,36h1v1h-1zM27,37h1v1h-1zM4,38h1v1h-1zM28,38h1v1h-1zM4,39h1v1h-1zM37,44h1v1h-1zM15,45h1v1h-1zM19,45h1v1h-1zM38,45h1v1h-1zM9,47h1v1h-1zM22,47h1v1h-1zM23,47h1v1h-1zM45,47h1v1h-1z" fill="#ffffff" fill-opacity="0.95"/></pattern><pattern id="spT" width="48" height="48" patternUnits="userSpaceOnUse"><path d="M24,0h1v1h-1zM13,1h1v1h-1zM15,2h1v1h-1zM41,2h1v1h-1zM3,3h1v1h-1zM7,3h1v1h-1zM46,3h1v1h-1zM47,3h1v1h-1zM30,4h1v1h-1zM18,7h1v1h-1zM30,7h1v1h-1zM44,7h1v1h-1zM23,8h1v1h-1zM41,8h1v1h-1zM27,9h1v1h-1zM32,9h1v1h-1zM2,10h1v1h-1zM3,10h1v1h-1zM19,11h1v1h-1zM28,11h1v1h-1zM2,12h1v1h-1zM19,13h1v1h-1zM42,13h1v1h-1zM8,14h1v1h-1zM14,16h1v1h-1zM42,16h1v1h-1zM1,17h1v1h-1zM5,17h1v1h-1zM14,17h1v1h-1zM13,18h1v1h-1zM41,18h1v1h-1zM10,19h1v1h-1zM11,19h1v1h-1zM27,19h1v1h-1zM45,20h1v1h-1zM32,21h1v1h-1zM45,21h1v1h-1zM1,22h1v1h-1zM4,22h1v1h-1zM13,22h1v1h-1zM18,24h1v1h-1zM27,24h1v1h-1zM37,24h1v1h-1zM8,25h1v1h-1zM11,25h1v1h-1zM13,25h1v1h-1zM31,25h1v1h-1zM33,25h1v1h-1zM43,26h1v1h-1zM47,26h1v1h-1zM5,27h1v1h-1zM14,27h1v1h-1zM33,28h1v1h-1zM14,29h1v1h-1zM17,29h1v1h-1zM28,29h1v1h-1zM47,29h1v1h-1zM0,30h1v1h-1zM36,30h1v1h-1zM39,30h1v1h-1zM44,30h1v1h-1zM0,31h1v1h-1zM7,31h1v1h-1zM36,31h1v1h-1zM13,32h1v1h-1zM47,32h1v1h-1zM3,33h1v1h-1zM12,33h1v1h-1zM25,33h1v1h-1zM42,33h1v1h-1zM4,34h1v1h-1zM14,34h1v1h-1zM19,34h1v1h-1zM24,35h1v1h-1zM27,35h1v1h-1zM0,36h1v1h-1zM16,36h1v1h-1zM22,36h1v1h-1zM32,37h1v1h-1zM8,38h1v1h-1zM12,38h1v1h-1zM36,38h1v1h-1zM47,38h1v1h-1zM0,39h1v1h-1zM15,39h1v1h-1zM18,39h1v1h-1zM22,39h1v1h-1zM22,40h1v1h-1zM38,41h1v1h-1zM0,42h1v1h-1zM16,42h1v1h-1zM35,42h1v1h-1zM22,44h1v1h-1zM23,44h1v1h-1zM2,45h1v1h-1zM7,46h1v1h-1zM23,47h1v1h-1z" fill="#2a5ad8" fill-opacity="0.5"/><path d="M28,0h1v1h-1zM32,0h1v1h-1zM37,0h1v1h-1zM43,0h1v1h-1zM19,1h1v1h-1zM23,1h1v1h-1zM25,2h1v1h-1zM9,3h1v1h-1zM36,3h1v1h-1zM4,4h1v1h-1zM5,4h1v1h-1zM7,4h1v1h-1zM15,5h1v1h-1zM22,5h1v1h-1zM26,5h1v1h-1zM28,5h1v1h-1zM47,5h1v1h-1zM10,6h1v1h-1zM12,6h1v1h-1zM26,6h1v1h-1zM35,6h1v1h-1zM45,6h1v1h-1zM6,7h1v1h-1zM22,7h1v1h-1zM41,7h1v1h-1zM7,8h1v1h-1zM14,8h1v1h-1zM17,8h1v1h-1zM25,9h1v1h-1zM30,9h1v1h-1zM35,10h1v1h-1zM36,10h1v1h-1zM38,10h1v1h-1zM9,11h1v1h-1zM22,11h1v1h-1zM26,11h1v1h-1zM42,11h1v1h-1zM46,12h1v1h-1zM10,13h1v1h-1zM25,13h1v1h-1zM32,13h1v1h-1zM5,14h1v1h-1zM28,14h1v1h-1zM45,14h1v1h-1zM17,15h1v1h-1zM43,15h1v1h-1zM4,16h1v1h-1zM36,16h1v1h-1zM4,17h1v1h-1zM33,17h1v1h-1zM36,17h1v1h-1zM6,18h1v1h-1zM19,18h1v1h-1zM33,18h1v1h-1zM45,18h1v1h-1zM9,19h1v1h-1zM39,19h1v1h-1zM34,20h1v1h-1zM29,21h1v1h-1zM33,21h1v1h-1zM44,21h1v1h-1zM22,22h1v1h-1zM16,23h1v1h-1zM18,23h1v1h-1zM32,23h1v1h-1zM12,24h1v1h-1zM19,24h1v1h-1zM39,24h1v1h-1zM44,24h1v1h-1zM45,24h1v1h-1zM19,25h1v1h-1zM36,25h1v1h-1zM38,25h1v1h-1zM9,26h1v1h-1zM23,26h1v1h-1zM40,26h1v1h-1zM25,27h1v1h-1zM38,27h1v1h-1zM6,28h1v1h-1zM6,30h1v1h-1zM45,30h1v1h-1zM34,31h1v1h-1zM38,31h1v1h-1zM45,31h1v1h-1zM4,33h1v1h-1zM9,33h1v1h-1zM28,33h1v1h-1zM29,33h1v1h-1zM35,33h1v1h-1zM46,33h1v1h-1zM1,35h1v1h-1zM2,35h1v1h-1zM43,35h1v1h-1zM46,35h1v1h-1zM2,36h1v1h-1zM3,36h1v1h-1zM14,36h1v1h-1zM43,36h1v1h-1zM46,36h1v1h-1zM17,37h1v1h-1zM18,37h1v1h-1zM31,37h1v1h-1zM30,38h1v1h-1zM40,38h1v1h-1zM45,38h1v1h-1zM28,39h1v1h-1zM43,39h1v1h-1zM45,39h1v1h-1zM47,39h1v1h-1zM3,40h1v1h-1zM5,40h1v1h-1zM38,40h1v1h-1zM24,41h1v1h-1zM21,42h1v1h-1zM6,43h1v1h-1zM19,43h1v1h-1zM46,43h1v1h-1zM24,44h1v1h-1zM45,44h1v1h-1zM30,45h1v1h-1zM28,46h1v1h-1zM45,46h1v1h-1zM4,47h1v1h-1zM9,47h1v1h-1z" fill="#2a5ad8" fill-opacity="0.75"/><path d="M9,0h1v1h-1zM6,1h1v1h-1zM1,2h1v1h-1zM14,4h1v1h-1zM15,4h1v1h-1zM20,4h1v1h-1zM35,4h1v1h-1zM47,4h1v1h-1zM27,5h1v1h-1zM21,6h1v1h-1zM13,7h1v1h-1zM30,8h1v1h-1zM6,11h1v1h-1zM23,11h1v1h-1zM24,11h1v1h-1zM29,12h1v1h-1zM42,12h1v1h-1zM1,14h1v1h-1zM38,14h1v1h-1zM12,15h1v1h-1zM46,16h1v1h-1zM8,17h1v1h-1zM10,17h1v1h-1zM40,18h1v1h-1zM20,19h1v1h-1zM21,19h1v1h-1zM22,19h1v1h-1zM21,22h1v1h-1zM11,23h1v1h-1zM24,23h1v1h-1zM47,23h1v1h-1zM0,24h1v1h-1zM10,24h1v1h-1zM9,25h1v1h-1zM44,25h1v1h-1zM45,25h1v1h-1zM47,25h1v1h-1zM30,27h1v1h-1zM2,29h1v1h-1zM3,29h1v1h-1zM34,29h1v1h-1zM15,31h1v1h-1zM16,31h1v1h-1zM46,31h1v1h-1zM8,32h1v1h-1zM47,33h1v1h-1zM23,37h1v1h-1zM1,38h1v1h-1zM43,38h1v1h-1zM24,39h1v1h-1zM25,39h1v1h-1zM1,42h1v1h-1zM15,44h1v1h-1zM6,45h1v1h-1zM14,45h1v1h-1zM36,46h1v1h-1zM35,47h1v1h-1z" fill="#2a5ad8" fill-opacity="0.95"/><path d="M2,0h1v1h-1zM46,0h1v1h-1zM18,2h1v1h-1zM12,3h1v1h-1zM19,3h1v1h-1zM22,3h1v1h-1zM37,3h1v1h-1zM38,3h1v1h-1zM12,4h1v1h-1zM13,4h1v1h-1zM44,4h1v1h-1zM3,5h1v1h-1zM10,5h1v1h-1zM9,7h1v1h-1zM16,7h1v1h-1zM36,7h1v1h-1zM3,8h1v1h-1zM6,8h1v1h-1zM8,9h1v1h-1zM14,9h1v1h-1zM17,9h1v1h-1zM34,9h1v1h-1zM38,9h1v1h-1zM47,9h1v1h-1zM40,10h1v1h-1zM43,10h1v1h-1zM4,11h1v1h-1zM9,12h1v1h-1zM31,12h1v1h-1zM36,14h1v1h-1zM3,15h1v1h-1zM13,15h1v1h-1zM23,15h1v1h-1zM27,15h1v1h-1zM28,15h1v1h-1zM31,15h1v1h-1zM37,15h1v1h-1zM19,16h1v1h-1zM22,16h1v1h-1zM27,16h1v1h-1zM33,16h1v1h-1zM40,16h1v1h-1zM30,17h1v1h-1zM46,17h1v1h-1zM5,18h1v1h-1zM11,18h1v1h-1zM18,18h1v1h-1zM29,18h1v1h-1zM28,19h1v1h-1zM43,19h1v1h-1zM38,20h1v1h-1zM43,20h1v1h-1zM47,20h1v1h-1zM3,21h1v1h-1zM21,21h1v1h-1zM8,22h1v1h-1zM39,22h1v1h-1zM40,22h1v1h-1zM45,22h1v1h-1zM15,23h1v1h-1zM26,23h1v1h-1zM29,23h1v1h-1zM38,23h1v1h-1zM16,24h1v1h-1zM21,25h1v1h-1zM13,26h1v1h-1zM19,26h1v1h-1zM7,27h1v1h-1zM27,27h1v1h-1zM36,27h1v1h-1zM46,27h1v1h-1zM47,27h1v1h-1zM19,28h1v1h-1zM32,28h1v1h-1zM22,29h1v1h-1zM9,30h1v1h-1zM20,30h1v1h-1zM25,30h1v1h-1zM26,30h1v1h-1zM34,30h1v1h-1zM9,31h1v1h-1zM14,31h1v1h-1zM42,31h1v1h-1zM11,32h1v1h-1zM22,32h1v1h-1zM37,32h1v1h-1zM20,33h1v1h-1zM33,35h1v1h-1zM47,35h1v1h-1zM27,36h1v1h-1zM47,36h1v1h-1zM29,37h1v1h-1zM2,38h1v1h-1zM37,38h1v1h-1zM9,40h1v1h-1zM24,40h1v1h-1zM32,41h1v1h-1zM46,41h1v1h-1zM3,42h1v1h-1zM1,43h1v1h-1zM10,43h1v1h-1zM30,44h1v1h-1zM34,44h1v1h-1zM0,45h1v1h-1zM16,45h1v1h-1zM33,45h1v1h-1zM29,46h1v1h-1zM31,46h1v1h-1zM43,46h1v1h-1z" fill="#40b0a0" fill-opacity="0.5"/><path d="M31,0h1v1h-1zM35,0h1v1h-1zM15,1h1v1h-1zM2,2h1v1h-1zM3,2h1v1h-1zM13,2h1v1h-1zM16,2h1v1h-1zM17,2h1v1h-1zM3,4h1v1h-1zM43,4h1v1h-1zM11,5h1v1h-1zM16,5h1v1h-1zM36,5h1v1h-1zM3,6h1v1h-1zM25,6h1v1h-1zM28,6h1v1h-1zM1,7h1v1h-1zM2,7h1v1h-1zM4,7h1v1h-1zM12,7h1v1h-1zM13,8h1v1h-1zM19,9h1v1h-1zM24,9h1v1h-1zM41,9h1v1h-1zM44,9h1v1h-1zM7,10h1v1h-1zM7,11h1v1h-1zM16,11h1v1h-1zM25,11h1v1h-1zM29,11h1v1h-1zM39,11h1v1h-1zM27,12h1v1h-1zM40,12h1v1h-1zM28,13h1v1h-1zM31,13h1v1h-1zM38,13h1v1h-1zM43,13h1v1h-1zM16,14h1v1h-1zM40,14h1v1h-1zM42,14h1v1h-1zM1,15h1v1h-1zM2,15h1v1h-1zM36,15h1v1h-1zM11,16h1v1h-1zM23,16h1v1h-1zM47,16h1v1h-1zM6,17h1v1h-1zM12,17h1v1h-1zM31,17h1v1h-1zM45,17h1v1h-1zM9,18h1v1h-1zM39,18h1v1h-1zM5,19h1v1h-1zM15,19h1v1h-1zM19,19h1v1h-1zM5,20h1v1h-1zM44,20h1v1h-1zM0,22h1v1h-1zM12,22h1v1h-1zM14,22h1v1h-1zM27,22h1v1h-1zM28,22h1v1h-1zM34,22h1v1h-1zM4,23h1v1h-1zM10,23h1v1h-1zM33,23h1v1h-1zM34,23h1v1h-1zM45,23h1v1h-1zM2,26h1v1h-1zM25,26h1v1h-1zM1,28h1v1h-1zM25,28h1v1h-1zM27,28h1v1h-1zM31,28h1v1h-1zM35,28h1v1h-1zM38,28h1v1h-1zM35,29h1v1h-1zM45,29h1v1h-1zM15,30h1v1h-1zM21,30h1v1h-1zM38,30h1v1h-1zM47,31h1v1h-1zM9,32h1v1h-1zM21,34h1v1h-1zM27,34h1v1h-1zM25,35h1v1h-1zM13,37h1v1h-1zM14,37h1v1h-1zM4,39h1v1h-1zM11,39h1v1h-1zM20,39h1v1h-1zM31,39h1v1h-1zM8,41h1v1h-1zM10,41h1v1h-1zM15,41h1v1h-1zM24,42h1v1h-1zM17,43h1v1h-1zM36,43h1v1h-1zM42,44h1v1h-1zM24,45h1v1h-1zM36,45h1v1h-1zM43,45h1v1h-1zM5,46h1v1h-1zM47,46h1v1h-1zM3,47h1v1h-1zM8,47h1v1h-1zM17,47h1v1h-1zM24,47h1v1h-1zM29,47h1v1h-1zM32,47h1v1h-1zM36,47h1v1h-1zM47,47h1v1h-1z" fill="#40b0a0" fill-opacity="0.75"/><path d="M8,0h1v1h-1zM17,0h1v1h-1zM21,0h1v1h-1zM4,2h1v1h-1zM6,2h1v1h-1zM35,3h1v1h-1zM23,4h1v1h-1zM32,4h1v1h-1zM33,4h1v1h-1zM18,5h1v1h-1zM24,5h1v1h-1zM2,6h1v1h-1zM27,6h1v1h-1zM42,7h1v1h-1zM46,7h1v1h-1zM19,8h1v1h-1zM19,10h1v1h-1zM23,10h1v1h-1zM3,11h1v1h-1zM11,12h1v1h-1zM43,12h1v1h-1zM41,13h1v1h-1zM2,14h1v1h-1zM12,14h1v1h-1zM17,14h1v1h-1zM27,14h1v1h-1zM9,16h1v1h-1zM13,16h1v1h-1zM31,20h1v1h-1zM14,21h1v1h-1zM17,21h1v1h-1zM18,21h1v1h-1zM17,22h1v1h-1zM29,22h1v1h-1zM46,24h1v1h-1zM1,25h1v1h-1zM2,28h1v1h-1zM3,28h1v1h-1zM34,28h1v1h-1zM25,29h1v1h-1zM24,30h1v1h-1zM1,31h1v1h-1zM32,31h1v1h-1zM8,33h1v1h-1zM0,34h1v1h-1zM3,34h1v1h-1zM24,34h1v1h-1zM38,35h1v1h-1zM30,37h1v1h-1zM46,37h1v1h-1zM19,38h1v1h-1zM25,38h1v1h-1zM26,38h1v1h-1zM34,38h1v1h-1zM42,38h1v1h-1zM32,39h1v1h-1zM33,39h1v1h-1zM35,39h1v1h-1zM44,39h1v1h-1zM35,40h1v1h-1zM2,41h1v1h-1zM3,41h1v1h-1zM26,41h1v1h-1zM22,42h1v1h-1zM27,45h1v1h-1zM24,46h1v1h-1z" fill="#40b0a0" fill-opacity="0.95"/><path d="M15,0h1v1h-1zM47,0h1v1h-1zM26,1h1v1h-1zM28,1h1v1h-1zM35,1h1v1h-1zM32,2h1v1h-1zM47,2h1v1h-1zM20,3h1v1h-1zM31,3h1v1h-1zM39,3h1v1h-1zM41,3h1v1h-1zM46,4h1v1h-1zM0,5h1v1h-1zM40,5h1v1h-1zM6,6h1v1h-1zM18,6h1v1h-1zM47,6h1v1h-1zM25,7h1v1h-1zM12,8h1v1h-1zM31,8h1v1h-1zM35,8h1v1h-1zM44,8h1v1h-1zM2,9h1v1h-1zM45,9h1v1h-1zM31,10h1v1h-1zM34,10h1v1h-1zM16,12h1v1h-1zM30,12h1v1h-1zM34,12h1v1h-1zM23,13h1v1h-1zM46,13h1v1h-1zM10,14h1v1h-1zM20,14h1v1h-1zM25,14h1v1h-1zM47,14h1v1h-1zM0,16h1v1h-1zM24,16h1v1h-1zM37,16h1v1h-1zM11,17h1v1h-1zM18,17h1v1h-1zM25,17h1v1h-1zM29,17h1v1h-1zM40,17h1v1h-1zM1,18h1v1h-1zM12,18h1v1h-1zM15,18h1v1h-1zM30,18h1v1h-1zM1,19h1v1h-1zM3,19h1v1h-1zM32,19h1v1h-1zM42,19h1v1h-1zM2,20h1v1h-1zM8,20h1v1h-1zM32,20h1v1h-1zM0,21h1v1h-1zM8,21h1v1h-1zM2,22h1v1h-1zM11,22h1v1h-1zM18,22h1v1h-1zM19,22h1v1h-1zM31,23h1v1h-1zM36,24h1v1h-1zM6,25h1v1h-1zM7,25h1v1h-1zM46,25h1v1h-1zM33,26h1v1h-1zM7,28h1v1h-1zM36,28h1v1h-1zM4,29h1v1h-1zM6,29h1v1h-1zM16,29h1v1h-1zM36,29h1v1h-1zM38,29h1v1h-1zM10,30h1v1h-1zM35,30h1v1h-1zM22,31h1v1h-1zM41,31h1v1h-1zM18,32h1v1h-1zM34,32h1v1h-1zM35,32h1v1h-1zM7,33h1v1h-1zM15,33h1v1h-1zM37,33h1v1h-1zM39,33h1v1h-1zM22,34h1v1h-1zM25,34h1v1h-1zM11,35h1v1h-1zM12,35h1v1h-1zM21,35h1v1h-1zM39,35h1v1h-1zM7,36h1v1h-1zM9,36h1v1h-1zM26,36h1v1h-1zM31,36h1v1h-1zM35,36h1v1h-1zM38,36h1v1h-1zM5,37h1v1h-1zM41,37h1v1h-1zM7,38h1v1h-1zM29,38h1v1h-1zM32,38h1v1h-1zM2,39h1v1h-1zM13,39h1v1h-1zM36,39h1v1h-1zM19,40h1v1h-1zM21,40h1v1h-1zM45,40h1v1h-1zM46,40h1v1h-1zM10,42h1v1h-1zM26,42h1v1h-1zM8,43h1v1h-1zM9,43h1v1h-1zM14,43h1v1h-1zM1,44h1v1h-1zM16,44h1v1h-1zM27,44h1v1h-1zM39,44h1v1h-1zM41,44h1v1h-1zM12,45h1v1h-1zM46,45h1v1h-1zM22,46h1v1h-1zM46,47h1v1h-1z" fill="#90d8b0" fill-opacity="0.5"/><path d="M1,0h1v1h-1zM20,0h1v1h-1zM30,0h1v1h-1zM8,1h1v1h-1zM9,1h1v1h-1zM12,1h1v1h-1zM39,1h1v1h-1zM5,2h1v1h-1zM35,2h1v1h-1zM18,3h1v1h-1zM40,3h1v1h-1zM40,4h1v1h-1zM41,4h1v1h-1zM25,5h1v1h-1zM29,5h1v1h-1zM39,5h1v1h-1zM46,5h1v1h-1zM30,6h1v1h-1zM42,6h1v1h-1zM14,7h1v1h-1zM28,7h1v1h-1zM40,7h1v1h-1zM26,8h1v1h-1zM27,8h1v1h-1zM42,8h1v1h-1zM28,9h1v1h-1zM35,9h1v1h-1zM37,9h1v1h-1zM42,9h1v1h-1zM16,10h1v1h-1zM26,10h1v1h-1zM40,11h1v1h-1zM3,12h1v1h-1zM6,12h1v1h-1zM15,12h1v1h-1zM36,12h1v1h-1zM29,13h1v1h-1zM33,13h1v1h-1zM15,14h1v1h-1zM4,15h1v1h-1zM24,15h1v1h-1zM41,15h1v1h-1zM43,16h1v1h-1zM13,17h1v1h-1zM15,17h1v1h-1zM20,17h1v1h-1zM31,18h1v1h-1zM36,18h1v1h-1zM13,19h1v1h-1zM1,20h1v1h-1zM20,20h1v1h-1zM9,22h1v1h-1zM33,22h1v1h-1zM35,22h1v1h-1zM25,23h1v1h-1zM5,24h1v1h-1zM9,24h1v1h-1zM13,24h1v1h-1zM15,24h1v1h-1zM35,24h1v1h-1zM40,24h1v1h-1zM3,25h1v1h-1zM34,25h1v1h-1zM40,25h1v1h-1zM38,26h1v1h-1zM44,26h1v1h-1zM6,27h1v1h-1zM17,27h1v1h-1zM31,27h1v1h-1zM15,28h1v1h-1zM44,28h1v1h-1zM9,29h1v1h-1zM18,29h1v1h-1zM2,30h1v1h-1zM16,30h1v1h-1zM43,30h1v1h-1zM33,31h1v1h-1zM4,32h1v1h-1zM17,32h1v1h-1zM27,32h1v1h-1zM43,32h1v1h-1zM13,34h1v1h-1zM28,34h1v1h-1zM29,34h1v1h-1zM29,35h1v1h-1zM45,35h1v1h-1zM25,36h1v1h-1zM0,37h1v1h-1zM44,37h1v1h-1zM39,38h1v1h-1zM41,38h1v1h-1zM12,39h1v1h-1zM21,39h1v1h-1zM23,39h1v1h-1zM27,40h1v1h-1zM43,40h1v1h-1zM23,41h1v1h-1zM27,41h1v1h-1zM43,41h1v1h-1zM38,42h1v1h-1zM43,42h1v1h-1zM5,44h1v1h-1zM6,44h1v1h-1zM18,44h1v1h-1zM20,44h1v1h-1zM33,44h1v1h-1zM26,45h1v1h-1zM45,45h1v1h-1zM2,46h1v1h-1zM3,46h1v1h-1zM25,46h1v1h-1zM27,46h1v1h-1zM40,47h1v1h-1z" fill="#90d8b0" fill-opacity="0.75"/><path d="M22,0h1v1h-1zM37,1h1v1h-1zM1,3h1v1h-1zM0,4h1v1h-1zM14,5h1v1h-1zM30,5h1v1h-1zM22,6h1v1h-1zM27,7h1v1h-1zM18,9h1v1h-1zM15,10h1v1h-1zM17,10h1v1h-1zM24,10h1v1h-1zM25,10h1v1h-1zM43,11h1v1h-1zM10,12h1v1h-1zM1,13h1v1h-1zM27,13h1v1h-1zM11,14h1v1h-1zM41,14h1v1h-1zM11,15h1v1h-1zM10,18h1v1h-1zM35,19h1v1h-1zM23,20h1v1h-1zM46,23h1v1h-1zM2,25h1v1h-1zM35,25h1v1h-1zM22,26h1v1h-1zM18,28h1v1h-1zM37,28h1v1h-1zM8,29h1v1h-1zM43,31h1v1h-1zM0,32h1v1h-1zM44,32h1v1h-1zM45,32h1v1h-1zM1,33h1v1h-1zM2,33h1v1h-1zM44,33h1v1h-1zM45,33h1v1h-1zM2,34h1v1h-1zM16,35h1v1h-1zM20,35h1v1h-1zM20,37h1v1h-1zM26,37h1v1h-1zM18,38h1v1h-1zM24,38h1v1h-1zM34,39h1v1h-1zM44,40h1v1h-1zM9,41h1v1h-1zM17,44h1v1h-1zM44,45h1v1h-1zM6,46h1v1h-1zM25,47h1v1h-1zM28,47h1v1h-1z" fill="#90d8b0" fill-opacity="0.95"/><path d="M40,0h1v1h-1zM14,1h1v1h-1zM17,1h1v1h-1zM22,1h1v1h-1zM33,1h1v1h-1zM40,1h1v1h-1zM19,2h1v1h-1zM22,2h1v1h-1zM26,3h1v1h-1zM8,4h1v1h-1zM23,5h1v1h-1zM42,5h1v1h-1zM7,6h1v1h-1zM40,6h1v1h-1zM41,6h1v1h-1zM25,8h1v1h-1zM28,8h1v1h-1zM7,9h1v1h-1zM44,10h1v1h-1zM13,11h1v1h-1zM18,12h1v1h-1zM35,12h1v1h-1zM37,12h1v1h-1zM22,13h1v1h-1zM30,14h1v1h-1zM32,14h1v1h-1zM44,14h1v1h-1zM20,15h1v1h-1zM21,15h1v1h-1zM26,16h1v1h-1zM43,17h1v1h-1zM2,19h1v1h-1zM24,20h1v1h-1zM29,20h1v1h-1zM7,21h1v1h-1zM31,21h1v1h-1zM40,21h1v1h-1zM47,21h1v1h-1zM10,22h1v1h-1zM26,22h1v1h-1zM5,23h1v1h-1zM23,23h1v1h-1zM24,24h1v1h-1zM12,25h1v1h-1zM18,25h1v1h-1zM26,25h1v1h-1zM41,25h1v1h-1zM42,25h1v1h-1zM43,25h1v1h-1zM3,26h1v1h-1zM8,26h1v1h-1zM11,26h1v1h-1zM30,26h1v1h-1zM31,26h1v1h-1zM4,27h1v1h-1zM18,27h1v1h-1zM20,27h1v1h-1zM46,30h1v1h-1zM29,31h1v1h-1zM36,32h1v1h-1zM23,33h1v1h-1zM30,33h1v1h-1zM36,34h1v1h-1zM44,34h1v1h-1zM46,34h1v1h-1zM33,36h1v1h-1zM21,37h1v1h-1zM28,37h1v1h-1zM43,37h1v1h-1zM21,38h1v1h-1zM14,39h1v1h-1zM2,40h1v1h-1zM7,40h1v1h-1zM14,40h1v1h-1zM28,40h1v1h-1zM39,40h1v1h-1zM13,41h1v1h-1zM35,41h1v1h-1zM23,42h1v1h-1zM37,42h1v1h-1zM25,43h1v1h-1zM35,43h1v1h-1zM9,44h1v1h-1zM19,44h1v1h-1zM25,44h1v1h-1zM13,45h1v1h-1zM34,45h1v1h-1zM1,46h1v1h-1zM19,46h1v1h-1zM23,46h1v1h-1zM30,46h1v1h-1zM38,46h1v1h-1zM7,47h1v1h-1zM30,47h1v1h-1zM38,47h1v1h-1zM44,47h1v1h-1z" fill="#b0d0f0" fill-opacity="0.5"/><path d="M6,0h1v1h-1zM45,0h1v1h-1zM16,1h1v1h-1zM27,1h1v1h-1zM38,1h1v1h-1zM20,2h1v1h-1zM6,3h1v1h-1zM23,3h1v1h-1zM1,4h1v1h-1zM24,4h1v1h-1zM26,4h1v1h-1zM38,4h1v1h-1zM39,4h1v1h-1zM7,5h1v1h-1zM13,5h1v1h-1zM17,5h1v1h-1zM0,6h1v1h-1zM19,6h1v1h-1zM29,6h1v1h-1zM33,6h1v1h-1zM43,6h1v1h-1zM34,7h1v1h-1zM16,8h1v1h-1zM29,8h1v1h-1zM43,8h1v1h-1zM6,9h1v1h-1zM46,9h1v1h-1zM14,10h1v1h-1zM30,11h1v1h-1zM34,11h1v1h-1zM41,11h1v1h-1zM47,11h1v1h-1zM4,12h1v1h-1zM16,13h1v1h-1zM18,13h1v1h-1zM0,14h1v1h-1zM19,14h1v1h-1zM31,14h1v1h-1zM43,14h1v1h-1zM46,14h1v1h-1zM10,15h1v1h-1zM16,15h1v1h-1zM19,15h1v1h-1zM38,15h1v1h-1zM40,15h1v1h-1zM46,15h1v1h-1zM10,16h1v1h-1zM12,16h1v1h-1zM28,16h1v1h-1zM38,17h1v1h-1zM44,17h1v1h-1zM14,18h1v1h-1zM16,18h1v1h-1zM38,18h1v1h-1zM0,19h1v1h-1zM7,19h1v1h-1zM16,19h1v1h-1zM30,19h1v1h-1zM37,19h1v1h-1zM14,20h1v1h-1zM17,20h1v1h-1zM41,20h1v1h-1zM42,20h1v1h-1zM35,21h1v1h-1zM31,22h1v1h-1zM44,22h1v1h-1zM47,22h1v1h-1zM2,23h1v1h-1zM6,23h1v1h-1zM14,24h1v1h-1zM32,24h1v1h-1zM4,25h1v1h-1zM24,26h1v1h-1zM35,26h1v1h-1zM46,26h1v1h-1zM8,27h1v1h-1zM5,28h1v1h-1zM8,28h1v1h-1zM24,29h1v1h-1zM42,29h1v1h-1zM8,30h1v1h-1zM10,31h1v1h-1zM23,31h1v1h-1zM7,32h1v1h-1zM16,32h1v1h-1zM38,32h1v1h-1zM46,32h1v1h-1zM5,33h1v1h-1zM21,33h1v1h-1zM38,33h1v1h-1zM23,34h1v1h-1zM39,34h1v1h-1zM17,35h1v1h-1zM37,35h1v1h-1zM40,35h1v1h-1zM8,36h1v1h-1zM18,36h1v1h-1zM21,36h1v1h-1zM30,36h1v1h-1zM32,36h1v1h-1zM36,36h1v1h-1zM36,37h1v1h-1zM42,37h1v1h-1zM3,38h1v1h-1zM4,38h1v1h-1zM6,38h1v1h-1zM1,39h1v1h-1zM6,39h1v1h-1zM27,39h1v1h-1zM8,40h1v1h-1zM12,40h1v1h-1zM32,40h1v1h-1zM36,40h1v1h-1zM16,41h1v1h-1zM21,41h1v1h-1zM37,41h1v1h-1zM44,41h1v1h-1zM2,42h1v1h-1zM8,42h1v1h-1zM18,43h1v1h-1zM20,43h1v1h-1zM38,43h1v1h-1zM31,44h1v1h-1zM35,44h1v1h-1zM37,44h1v1h-1zM17,45h1v1h-1zM28,45h1v1h-1zM35,46h1v1h-1zM44,46h1v1h-1zM2,47h1v1h-1zM19,47h1v1h-1zM31,47h1v1h-1zM34,47h1v1h-1zM39,47h1v1h-1zM42,47h1v1h-1z" fill="#b0d0f0" fill-opacity="0.75"/><path d="M23,0h1v1h-1zM25,0h1v1h-1zM27,0h1v1h-1zM5,1h1v1h-1zM24,1h1v1h-1zM37,2h1v1h-1zM4,3h1v1h-1zM18,4h1v1h-1zM21,4h1v1h-1zM32,5h1v1h-1zM33,5h1v1h-1zM35,5h1v1h-1zM1,6h1v1h-1zM31,6h1v1h-1zM26,7h1v1h-1zM18,8h1v1h-1zM46,8h1v1h-1zM31,9h1v1h-1zM43,9h1v1h-1zM18,10h1v1h-1zM15,13h1v1h-1zM30,13h1v1h-1zM37,13h1v1h-1zM30,16h1v1h-1zM9,17h1v1h-1zM37,17h1v1h-1zM14,19h1v1h-1zM23,19h1v1h-1zM31,19h1v1h-1zM38,19h1v1h-1zM40,19h1v1h-1zM21,20h1v1h-1zM22,20h1v1h-1zM9,21h1v1h-1zM0,23h1v1h-1zM1,23h1v1h-1zM17,23h1v1h-1zM1,24h1v1h-1zM11,24h1v1h-1zM47,24h1v1h-1zM10,25h1v1h-1zM6,26h1v1h-1zM39,26h1v1h-1zM7,29h1v1h-1zM15,29h1v1h-1zM0,33h1v1h-1zM43,33h1v1h-1zM1,34h1v1h-1zM16,34h1v1h-1zM20,34h1v1h-1zM45,34h1v1h-1zM3,35h1v1h-1zM19,35h1v1h-1zM19,37h1v1h-1zM22,37h1v1h-1zM20,38h1v1h-1zM31,38h1v1h-1zM26,39h1v1h-1zM46,39h1v1h-1zM13,40h1v1h-1zM47,40h1v1h-1zM25,41h1v1h-1zM9,42h1v1h-1zM25,42h1v1h-1zM14,44h1v1h-1zM36,44h1v1h-1zM5,45h1v1h-1zM7,45h1v1h-1zM15,45h1v1h-1zM31,45h1v1h-1zM4,46h1v1h-1zM26,46h1v1h-1zM33,46h1v1h-1zM34,46h1v1h-1zM37,46h1v1h-1zM21,47h1v1h-1zM45,47h1v1h-1z" fill="#b0d0f0" fill-opacity="0.95"/><path d="M0,1h1v1h-1zM7,1h1v1h-1zM38,2h1v1h-1zM11,3h1v1h-1zM17,3h1v1h-1zM25,3h1v1h-1zM19,5h1v1h-1zM20,5h1v1h-1zM13,6h1v1h-1zM14,6h1v1h-1zM15,6h1v1h-1zM24,6h1v1h-1zM45,7h1v1h-1zM4,9h1v1h-1zM5,9h1v1h-1zM9,10h1v1h-1zM0,11h1v1h-1zM33,11h1v1h-1zM35,11h1v1h-1zM28,12h1v1h-1zM32,12h1v1h-1zM0,13h1v1h-1zM5,13h1v1h-1zM44,13h1v1h-1zM4,14h1v1h-1zM9,15h1v1h-1zM42,15h1v1h-1zM29,16h1v1h-1zM8,18h1v1h-1zM32,18h1v1h-1zM8,19h1v1h-1zM24,19h1v1h-1zM13,20h1v1h-1zM15,22h1v1h-1zM24,22h1v1h-1zM43,22h1v1h-1zM3,23h1v1h-1zM13,23h1v1h-1zM19,23h1v1h-1zM30,23h1v1h-1zM2,24h1v1h-1zM38,24h1v1h-1zM15,25h1v1h-1zM21,26h1v1h-1zM36,26h1v1h-1zM15,27h1v1h-1zM29,27h1v1h-1zM32,27h1v1h-1zM39,27h1v1h-1zM40,27h1v1h-1zM4,28h1v1h-1zM12,28h1v1h-1zM39,28h1v1h-1zM43,28h1v1h-1zM1,29h1v1h-1zM11,29h1v1h-1zM12,29h1v1h-1zM12,30h1v1h-1zM32,30h1v1h-1zM33,30h1v1h-1zM8,31h1v1h-1zM26,31h1v1h-1zM3,32h1v1h-1zM19,32h1v1h-1zM33,32h1v1h-1zM34,33h1v1h-1zM17,34h1v1h-1zM37,34h1v1h-1zM6,35h1v1h-1zM1,36h1v1h-1zM42,36h1v1h-1zM15,37h1v1h-1zM35,37h1v1h-1zM45,37h1v1h-1zM22,38h1v1h-1zM3,39h1v1h-1zM8,39h1v1h-1zM33,40h1v1h-1zM30,41h1v1h-1zM6,42h1v1h-1zM33,42h1v1h-1zM2,43h1v1h-1zM45,43h1v1h-1zM2,44h1v1h-1zM43,44h1v1h-1zM47,44h1v1h-1zM10,45h1v1h-1zM18,45h1v1h-1zM25,45h1v1h-1zM13,46h1v1h-1zM6,47h1v1h-1zM18,47h1v1h-1zM26,47h1v1h-1zM43,47h1v1h-1z" fill="#ffffff" fill-opacity="0.5"/><path d="M16,0h1v1h-1zM26,0h1v1h-1zM39,0h1v1h-1zM1,1h1v1h-1zM2,1h1v1h-1zM10,1h1v1h-1zM43,1h1v1h-1zM0,2h1v1h-1zM12,2h1v1h-1zM31,2h1v1h-1zM36,2h1v1h-1zM0,3h1v1h-1zM5,3h1v1h-1zM16,4h1v1h-1zM19,4h1v1h-1zM34,4h1v1h-1zM8,5h1v1h-1zM38,5h1v1h-1zM45,5h1v1h-1zM3,7h1v1h-1zM7,7h1v1h-1zM31,7h1v1h-1zM43,7h1v1h-1zM12,11h1v1h-1zM17,11h1v1h-1zM18,11h1v1h-1zM1,12h1v1h-1zM25,12h1v1h-1zM44,12h1v1h-1zM2,13h1v1h-1zM9,13h1v1h-1zM11,13h1v1h-1zM14,13h1v1h-1zM17,13h1v1h-1zM36,13h1v1h-1zM9,14h1v1h-1zM5,15h1v1h-1zM25,16h1v1h-1zM38,16h1v1h-1zM0,17h1v1h-1zM34,18h1v1h-1zM37,18h1v1h-1zM46,18h1v1h-1zM29,19h1v1h-1zM28,20h1v1h-1zM35,20h1v1h-1zM40,20h1v1h-1zM13,21h1v1h-1zM26,21h1v1h-1zM27,21h1v1h-1zM28,21h1v1h-1zM3,22h1v1h-1zM30,22h1v1h-1zM21,23h1v1h-1zM22,23h1v1h-1zM39,23h1v1h-1zM4,24h1v1h-1zM5,25h1v1h-1zM32,26h1v1h-1zM0,27h1v1h-1zM3,27h1v1h-1zM19,27h1v1h-1zM37,27h1v1h-1zM43,27h1v1h-1zM28,28h1v1h-1zM30,28h1v1h-1zM40,28h1v1h-1zM32,29h1v1h-1zM33,29h1v1h-1zM7,30h1v1h-1zM47,30h1v1h-1zM2,31h1v1h-1zM3,31h1v1h-1zM24,31h1v1h-1zM25,31h1v1h-1zM2,32h1v1h-1zM24,32h1v1h-1zM25,32h1v1h-1zM6,33h1v1h-1zM24,33h1v1h-1zM34,34h1v1h-1zM43,34h1v1h-1zM9,35h1v1h-1zM10,35h1v1h-1zM18,35h1v1h-1zM22,35h1v1h-1zM26,35h1v1h-1zM17,36h1v1h-1zM29,36h1v1h-1zM12,37h1v1h-1zM27,37h1v1h-1zM34,37h1v1h-1zM0,38h1v1h-1zM44,38h1v1h-1zM5,39h1v1h-1zM10,40h1v1h-1zM11,40h1v1h-1zM15,40h1v1h-1zM32,42h1v1h-1zM21,43h1v1h-1zM13,44h1v1h-1zM46,44h1v1h-1zM1,45h1v1h-1zM8,45h1v1h-1zM32,45h1v1h-1zM47,45h1v1h-1zM42,46h1v1h-1zM46,46h1v1h-1zM16,47h1v1h-1zM22,47h1v1h-1zM27,47h1v1h-1z" fill="#ffffff" fill-opacity="0.75"/><path d="M44,0h1v1h-1zM20,1h1v1h-1zM25,1h1v1h-1zM11,4h1v1h-1zM22,4h1v1h-1zM31,4h1v1h-1zM21,5h1v1h-1zM31,5h1v1h-1zM11,6h1v1h-1zM34,6h1v1h-1zM46,6h1v1h-1zM19,7h1v1h-1zM36,8h1v1h-1zM15,9h1v1h-1zM36,9h1v1h-1zM41,10h1v1h-1zM44,11h1v1h-1zM41,12h1v1h-1zM40,13h1v1h-1zM37,14h1v1h-1zM31,16h1v1h-1zM7,17h1v1h-1zM7,18h1v1h-1zM34,19h1v1h-1zM41,19h1v1h-1zM0,20h1v1h-1zM9,20h1v1h-1zM12,21h1v1h-1zM22,21h1v1h-1zM30,21h1v1h-1zM0,25h1v1h-1zM32,25h1v1h-1zM39,25h1v1h-1zM1,27h1v1h-1zM2,27h1v1h-1zM1,30h1v1h-1zM23,30h1v1h-1zM42,30h1v1h-1zM11,31h1v1h-1zM44,31h1v1h-1zM1,32h1v1h-1zM5,32h1v1h-1zM6,32h1v1h-1zM10,32h1v1h-1zM32,32h1v1h-1zM15,34h1v1h-1zM38,34h1v1h-1zM47,34h1v1h-1zM32,35h1v1h-1zM19,36h1v1h-1zM20,36h1v1h-1zM24,37h1v1h-1zM25,37h1v1h-1zM47,37h1v1h-1zM23,38h1v1h-1zM35,38h1v1h-1zM46,38h1v1h-1zM22,41h1v1h-1zM38,44h1v1h-1zM37,45h1v1h-1zM38,45h1v1h-1zM33,47h1v1h-1z" fill="#ffffff" fill-opacity="0.95"/></pattern><pattern id="spL" width="48" height="48" patternUnits="userSpaceOnUse"><path d="M16,0h1v1h-1zM31,0h1v1h-1zM7,1h1v1h-1zM24,1h1v1h-1zM32,1h1v1h-1zM34,1h1v1h-1zM38,1h1v1h-1zM22,2h1v1h-1zM28,2h1v1h-1zM47,2h1v1h-1zM4,3h1v1h-1zM12,4h1v1h-1zM13,4h1v1h-1zM29,4h1v1h-1zM39,4h1v1h-1zM11,5h1v1h-1zM16,5h1v1h-1zM34,5h1v1h-1zM0,6h1v1h-1zM12,6h1v1h-1zM18,6h1v1h-1zM21,6h1v1h-1zM25,6h1v1h-1zM9,7h1v1h-1zM30,7h1v1h-1zM27,8h1v1h-1zM34,8h1v1h-1zM2,9h1v1h-1zM28,9h1v1h-1zM0,10h1v1h-1zM11,10h1v1h-1zM2,11h1v1h-1zM28,11h1v1h-1zM9,12h1v1h-1zM29,12h1v1h-1zM38,12h1v1h-1zM16,14h1v1h-1zM39,14h1v1h-1zM11,15h1v1h-1zM13,16h1v1h-1zM15,16h1v1h-1zM28,16h1v1h-1zM37,16h1v1h-1zM42,17h1v1h-1zM10,18h1v1h-1zM17,18h1v1h-1zM16,19h1v1h-1zM24,19h1v1h-1zM5,20h1v1h-1zM39,23h1v1h-1zM3,24h1v1h-1zM6,25h1v1h-1zM8,25h1v1h-1zM38,25h1v1h-1zM10,27h1v1h-1zM21,27h1v1h-1zM34,27h1v1h-1zM40,27h1v1h-1zM12,28h1v1h-1zM13,28h1v1h-1zM11,29h1v1h-1zM26,29h1v1h-1zM45,29h1v1h-1zM12,30h1v1h-1zM29,30h1v1h-1zM34,30h1v1h-1zM37,31h1v1h-1zM7,32h1v1h-1zM11,32h1v1h-1zM12,32h1v1h-1zM13,32h1v1h-1zM23,32h1v1h-1zM32,32h1v1h-1zM1,33h1v1h-1zM28,34h1v1h-1zM37,34h1v1h-1zM41,34h1v1h-1zM46,34h1v1h-1zM15,35h1v1h-1zM36,35h1v1h-1zM45,35h1v1h-1zM38,36h1v1h-1zM36,37h1v1h-1zM22,38h1v1h-1zM3,39h1v1h-1zM8,39h1v1h-1zM12,39h1v1h-1zM34,39h1v1h-1zM4,40h1v1h-1zM28,40h1v1h-1zM24,41h1v1h-1zM29,41h1v1h-1zM38,41h1v1h-1zM42,41h1v1h-1zM45,41h1v1h-1zM0,42h1v1h-1zM18,42h1v1h-1zM2,43h1v1h-1zM4,44h1v1h-1zM5,44h1v1h-1zM42,44h1v1h-1zM25,45h1v1h-1zM38,45h1v1h-1zM39,45h1v1h-1zM3,46h1v1h-1zM5,46h1v1h-1zM11,46h1v1h-1zM11,47h1v1h-1zM17,47h1v1h-1zM19,47h1v1h-1zM43,47h1v1h-1z" fill="#70c0e0" fill-opacity="0.5"/><path d="M24,0h1v1h-1zM40,0h1v1h-1zM47,0h1v1h-1zM3,1h1v1h-1zM30,1h1v1h-1zM36,1h1v1h-1zM0,2h1v1h-1zM23,2h1v1h-1zM43,2h1v1h-1zM29,3h1v1h-1zM45,3h1v1h-1zM4,5h1v1h-1zM21,5h1v1h-1zM2,6h1v1h-1zM28,6h1v1h-1zM32,6h1v1h-1zM45,6h1v1h-1zM47,6h1v1h-1zM33,7h1v1h-1zM21,8h1v1h-1zM31,8h1v1h-1zM32,8h1v1h-1zM44,8h1v1h-1zM8,9h1v1h-1zM20,9h1v1h-1zM32,9h1v1h-1zM38,9h1v1h-1zM6,10h1v1h-1zM1,12h1v1h-1zM32,12h1v1h-1zM36,12h1v1h-1zM12,13h1v1h-1zM30,13h1v1h-1zM31,13h1v1h-1zM36,13h1v1h-1zM28,14h1v1h-1zM30,14h1v1h-1zM40,15h1v1h-1zM11,16h1v1h-1zM20,16h1v1h-1zM29,16h1v1h-1zM17,17h1v1h-1zM18,17h1v1h-1zM25,17h1v1h-1zM12,18h1v1h-1zM13,18h1v1h-1zM17,20h1v1h-1zM15,22h1v1h-1zM40,23h1v1h-1zM8,24h1v1h-1zM23,24h1v1h-1zM31,24h1v1h-1zM37,24h1v1h-1zM25,25h1v1h-1zM45,25h1v1h-1zM24,26h1v1h-1zM46,26h1v1h-1zM37,27h1v1h-1zM21,28h1v1h-1zM25,28h1v1h-1zM38,28h1v1h-1zM41,28h1v1h-1zM45,28h1v1h-1zM19,29h1v1h-1zM34,29h1v1h-1zM15,30h1v1h-1zM42,31h1v1h-1zM4,32h1v1h-1zM20,32h1v1h-1zM44,32h1v1h-1zM26,33h1v1h-1zM14,34h1v1h-1zM31,34h1v1h-1zM43,34h1v1h-1zM16,35h1v1h-1zM37,35h1v1h-1zM37,36h1v1h-1zM46,36h1v1h-1zM4,37h1v1h-1zM15,37h1v1h-1zM25,37h1v1h-1zM29,37h1v1h-1zM32,37h1v1h-1zM40,37h1v1h-1zM42,37h1v1h-1zM9,38h1v1h-1zM30,38h1v1h-1zM42,38h1v1h-1zM45,38h1v1h-1zM36,39h1v1h-1zM46,39h1v1h-1zM16,40h1v1h-1zM7,41h1v1h-1zM2,42h1v1h-1zM11,43h1v1h-1zM12,43h1v1h-1zM16,43h1v1h-1zM44,43h1v1h-1zM11,44h1v1h-1zM21,44h1v1h-1zM32,44h1v1h-1zM10,45h1v1h-1zM30,45h1v1h-1zM35,46h1v1h-1zM42,46h1v1h-1zM30,47h1v1h-1z" fill="#70c0e0" fill-opacity="0.75"/><path d="M0,0h1v1h-1zM1,0h1v1h-1zM39,0h1v1h-1zM1,1h1v1h-1zM16,2h1v1h-1zM36,3h1v1h-1zM46,3h1v1h-1zM6,4h1v1h-1zM0,5h1v1h-1zM32,7h1v1h-1zM39,9h1v1h-1zM36,11h1v1h-1zM41,12h1v1h-1zM45,13h1v1h-1zM42,16h1v1h-1zM30,22h1v1h-1zM13,23h1v1h-1zM18,24h1v1h-1zM19,26h1v1h-1zM16,27h1v1h-1zM23,27h1v1h-1zM46,27h1v1h-1zM37,28h1v1h-1zM39,30h1v1h-1zM28,32h1v1h-1zM29,32h1v1h-1zM46,33h1v1h-1zM15,34h1v1h-1zM38,35h1v1h-1zM28,37h1v1h-1zM31,38h1v1h-1zM21,40h1v1h-1zM21,41h1v1h-1zM33,41h1v1h-1zM34,41h1v1h-1zM40,41h1v1h-1zM45,42h1v1h-1zM13,44h1v1h-1zM21,46h1v1h-1zM27,46h1v1h-1zM46,46h1v1h-1zM3,47h1v1h-1zM5,47h1v1h-1z" fill="#70c0e0" fill-opacity="0.95"/><path d="M43,0h1v1h-1zM6,1h1v1h-1zM13,1h1v1h-1zM20,1h1v1h-1zM37,1h1v1h-1zM29,2h1v1h-1zM31,2h1v1h-1zM44,2h1v1h-1zM45,2h1v1h-1zM22,3h1v1h-1zM32,3h1v1h-1zM17,4h1v1h-1zM19,4h1v1h-1zM33,4h1v1h-1zM7,5h1v1h-1zM11,7h1v1h-1zM4,8h1v1h-1zM9,8h1v1h-1zM18,8h1v1h-1zM22,8h1v1h-1zM29,8h1v1h-1zM34,9h1v1h-1zM36,9h1v1h-1zM16,10h1v1h-1zM35,10h1v1h-1zM7,11h1v1h-1zM30,11h1v1h-1zM4,12h1v1h-1zM6,12h1v1h-1zM13,12h1v1h-1zM25,12h1v1h-1zM1,13h1v1h-1zM7,13h1v1h-1zM8,13h1v1h-1zM20,13h1v1h-1zM21,13h1v1h-1zM27,13h1v1h-1zM38,13h1v1h-1zM37,14h1v1h-1zM32,15h1v1h-1zM2,17h1v1h-1zM31,18h1v1h-1zM35,18h1v1h-1zM43,18h1v1h-1zM46,18h1v1h-1zM32,19h1v1h-1zM22,20h1v1h-1zM24,21h1v1h-1zM36,21h1v1h-1zM39,22h1v1h-1zM6,23h1v1h-1zM23,23h1v1h-1zM24,23h1v1h-1zM31,23h1v1h-1zM36,23h1v1h-1zM15,24h1v1h-1zM41,24h1v1h-1zM3,25h1v1h-1zM5,25h1v1h-1zM7,25h1v1h-1zM29,25h1v1h-1zM36,25h1v1h-1zM3,27h1v1h-1zM18,28h1v1h-1zM40,28h1v1h-1zM1,30h1v1h-1zM19,30h1v1h-1zM43,30h1v1h-1zM35,31h1v1h-1zM31,32h1v1h-1zM30,33h1v1h-1zM21,35h1v1h-1zM27,35h1v1h-1zM32,35h1v1h-1zM43,35h1v1h-1zM7,36h1v1h-1zM42,36h1v1h-1zM19,37h1v1h-1zM30,37h1v1h-1zM20,38h1v1h-1zM26,39h1v1h-1zM40,39h1v1h-1zM41,39h1v1h-1zM44,39h1v1h-1zM47,39h1v1h-1zM0,40h1v1h-1zM12,40h1v1h-1zM22,40h1v1h-1zM43,40h1v1h-1zM6,41h1v1h-1zM10,41h1v1h-1zM22,41h1v1h-1zM46,43h1v1h-1zM7,44h1v1h-1zM35,44h1v1h-1zM27,45h1v1h-1zM29,45h1v1h-1zM43,46h1v1h-1zM7,47h1v1h-1zM18,47h1v1h-1z" fill="#80d0c0" fill-opacity="0.5"/><path d="M14,0h1v1h-1zM45,0h1v1h-1zM14,1h1v1h-1zM29,1h1v1h-1zM41,1h1v1h-1zM43,1h1v1h-1zM45,1h1v1h-1zM37,2h1v1h-1zM41,2h1v1h-1zM47,3h1v1h-1zM2,4h1v1h-1zM5,4h1v1h-1zM20,4h1v1h-1zM2,5h1v1h-1zM32,5h1v1h-1zM4,6h1v1h-1zM23,6h1v1h-1zM39,6h1v1h-1zM42,7h1v1h-1zM6,8h1v1h-1zM20,8h1v1h-1zM43,8h1v1h-1zM7,9h1v1h-1zM20,10h1v1h-1zM0,11h1v1h-1zM23,11h1v1h-1zM33,11h1v1h-1zM2,12h1v1h-1zM39,12h1v1h-1zM17,13h1v1h-1zM7,14h1v1h-1zM31,14h1v1h-1zM7,15h1v1h-1zM43,15h1v1h-1zM44,15h1v1h-1zM21,16h1v1h-1zM26,16h1v1h-1zM5,17h1v1h-1zM6,17h1v1h-1zM38,17h1v1h-1zM26,19h1v1h-1zM31,19h1v1h-1zM43,19h1v1h-1zM45,19h1v1h-1zM30,20h1v1h-1zM41,20h1v1h-1zM27,21h1v1h-1zM18,22h1v1h-1zM47,22h1v1h-1zM3,23h1v1h-1zM29,23h1v1h-1zM9,24h1v1h-1zM10,24h1v1h-1zM11,24h1v1h-1zM43,24h1v1h-1zM45,24h1v1h-1zM23,25h1v1h-1zM16,26h1v1h-1zM17,26h1v1h-1zM38,26h1v1h-1zM45,26h1v1h-1zM9,27h1v1h-1zM20,27h1v1h-1zM41,27h1v1h-1zM16,28h1v1h-1zM27,28h1v1h-1zM24,30h1v1h-1zM30,30h1v1h-1zM41,30h1v1h-1zM10,31h1v1h-1zM16,31h1v1h-1zM38,32h1v1h-1zM38,33h1v1h-1zM39,33h1v1h-1zM6,34h1v1h-1zM36,34h1v1h-1zM1,35h1v1h-1zM34,35h1v1h-1zM40,35h1v1h-1zM6,37h1v1h-1zM20,37h1v1h-1zM38,37h1v1h-1zM5,38h1v1h-1zM29,38h1v1h-1zM33,38h1v1h-1zM43,38h1v1h-1zM15,39h1v1h-1zM29,39h1v1h-1zM8,40h1v1h-1zM9,41h1v1h-1zM31,41h1v1h-1zM1,42h1v1h-1zM28,42h1v1h-1zM44,42h1v1h-1zM7,43h1v1h-1zM14,43h1v1h-1zM22,43h1v1h-1zM27,43h1v1h-1zM33,43h1v1h-1zM41,43h1v1h-1zM0,44h1v1h-1zM27,44h1v1h-1zM39,44h1v1h-1zM43,45h1v1h-1zM22,46h1v1h-1zM36,46h1v1h-1zM40,46h1v1h-1zM36,47h1v1h-1zM46,47h1v1h-1z" fill="#80d0c0" fill-opacity="0.75"/><path d="M22,0h1v1h-1zM35,2h1v1h-1zM12,3h1v1h-1zM20,3h1v1h-1zM21,3h1v1h-1zM46,5h1v1h-1zM37,6h1v1h-1zM46,6h1v1h-1zM38,10h1v1h-1zM8,11h1v1h-1zM40,11h1v1h-1zM18,12h1v1h-1zM5,13h1v1h-1zM18,13h1v1h-1zM27,14h1v1h-1zM27,15h1v1h-1zM41,15h1v1h-1zM41,16h1v1h-1zM39,19h1v1h-1zM40,19h1v1h-1zM5,21h1v1h-1zM6,21h1v1h-1zM11,21h1v1h-1zM30,21h1v1h-1zM5,22h1v1h-1zM25,22h1v1h-1zM10,23h1v1h-1zM18,23h1v1h-1zM22,23h1v1h-1zM7,24h1v1h-1zM39,24h1v1h-1zM24,29h1v1h-1zM25,29h1v1h-1zM46,29h1v1h-1zM28,31h1v1h-1zM28,33h1v1h-1zM23,34h1v1h-1zM39,34h1v1h-1zM14,35h1v1h-1zM35,36h1v1h-1zM3,38h1v1h-1zM39,38h1v1h-1zM15,40h1v1h-1zM25,40h1v1h-1zM22,42h1v1h-1zM33,42h1v1h-1zM34,42h1v1h-1zM0,43h1v1h-1zM45,43h1v1h-1zM1,44h1v1h-1zM20,45h1v1h-1zM34,45h1v1h-1zM28,46h1v1h-1zM22,47h1v1h-1zM31,47h1v1h-1zM45,47h1v1h-1z" fill="#80d0c0" fill-opacity="0.95"/><path d="M19,0h1v1h-1zM4,2h1v1h-1zM5,2h1v1h-1zM10,2h1v1h-1zM14,2h1v1h-1zM33,2h1v1h-1zM19,3h1v1h-1zM44,3h1v1h-1zM21,4h1v1h-1zM1,5h1v1h-1zM19,5h1v1h-1zM26,5h1v1h-1zM39,5h1v1h-1zM42,5h1v1h-1zM5,6h1v1h-1zM24,6h1v1h-1zM34,6h1v1h-1zM29,7h1v1h-1zM24,8h1v1h-1zM22,9h1v1h-1zM23,9h1v1h-1zM26,9h1v1h-1zM31,9h1v1h-1zM7,10h1v1h-1zM13,10h1v1h-1zM22,10h1v1h-1zM29,10h1v1h-1zM11,13h1v1h-1zM19,13h1v1h-1zM23,13h1v1h-1zM25,13h1v1h-1zM37,13h1v1h-1zM2,14h1v1h-1zM4,14h1v1h-1zM35,14h1v1h-1zM4,16h1v1h-1zM47,16h1v1h-1zM1,17h1v1h-1zM10,17h1v1h-1zM34,17h1v1h-1zM4,18h1v1h-1zM33,18h1v1h-1zM37,18h1v1h-1zM41,18h1v1h-1zM2,19h1v1h-1zM5,19h1v1h-1zM17,19h1v1h-1zM29,19h1v1h-1zM35,19h1v1h-1zM20,20h1v1h-1zM31,20h1v1h-1zM43,20h1v1h-1zM8,22h1v1h-1zM16,22h1v1h-1zM5,24h1v1h-1zM2,25h1v1h-1zM34,25h1v1h-1zM39,25h1v1h-1zM1,26h1v1h-1zM27,26h1v1h-1zM34,26h1v1h-1zM44,26h1v1h-1zM32,27h1v1h-1zM42,27h1v1h-1zM17,28h1v1h-1zM1,29h1v1h-1zM35,29h1v1h-1zM43,29h1v1h-1zM18,30h1v1h-1zM8,31h1v1h-1zM26,31h1v1h-1zM30,31h1v1h-1zM39,31h1v1h-1zM40,31h1v1h-1zM5,32h1v1h-1zM43,32h1v1h-1zM45,32h1v1h-1zM23,33h1v1h-1zM35,33h1v1h-1zM44,34h1v1h-1zM7,35h1v1h-1zM9,35h1v1h-1zM31,35h1v1h-1zM8,36h1v1h-1zM5,37h1v1h-1zM44,37h1v1h-1zM16,39h1v1h-1zM22,39h1v1h-1zM14,40h1v1h-1zM5,41h1v1h-1zM16,42h1v1h-1zM29,42h1v1h-1zM35,42h1v1h-1zM6,45h1v1h-1zM23,45h1v1h-1zM41,45h1v1h-1zM6,46h1v1h-1zM31,46h1v1h-1zM33,46h1v1h-1zM39,46h1v1h-1zM41,46h1v1h-1z" fill="#a0a0ff" fill-opacity="0.5"/><path d="M32,0h1v1h-1zM33,0h1v1h-1zM42,0h1v1h-1zM0,1h1v1h-1zM9,1h1v1h-1zM18,1h1v1h-1zM39,1h1v1h-1zM3,2h1v1h-1zM15,2h1v1h-1zM18,2h1v1h-1zM26,3h1v1h-1zM4,4h1v1h-1zM32,4h1v1h-1zM12,5h1v1h-1zM24,5h1v1h-1zM36,6h1v1h-1zM41,6h1v1h-1zM43,7h1v1h-1zM27,9h1v1h-1zM9,10h1v1h-1zM10,10h1v1h-1zM32,10h1v1h-1zM37,10h1v1h-1zM6,11h1v1h-1zM15,11h1v1h-1zM35,11h1v1h-1zM38,11h1v1h-1zM8,12h1v1h-1zM21,12h1v1h-1zM15,13h1v1h-1zM32,13h1v1h-1zM40,13h1v1h-1zM41,13h1v1h-1zM9,15h1v1h-1zM26,15h1v1h-1zM29,15h1v1h-1zM12,16h1v1h-1zM27,16h1v1h-1zM13,17h1v1h-1zM28,17h1v1h-1zM7,18h1v1h-1zM40,18h1v1h-1zM9,19h1v1h-1zM23,19h1v1h-1zM34,19h1v1h-1zM4,20h1v1h-1zM19,20h1v1h-1zM29,20h1v1h-1zM36,20h1v1h-1zM38,20h1v1h-1zM4,21h1v1h-1zM7,21h1v1h-1zM10,21h1v1h-1zM18,21h1v1h-1zM19,21h1v1h-1zM44,21h1v1h-1zM4,22h1v1h-1zM7,22h1v1h-1zM32,22h1v1h-1zM43,22h1v1h-1zM2,23h1v1h-1zM15,23h1v1h-1zM33,23h1v1h-1zM41,23h1v1h-1zM44,23h1v1h-1zM17,24h1v1h-1zM20,24h1v1h-1zM32,24h1v1h-1zM42,24h1v1h-1zM44,24h1v1h-1zM3,26h1v1h-1zM17,27h1v1h-1zM24,27h1v1h-1zM26,27h1v1h-1zM38,27h1v1h-1zM34,28h1v1h-1zM35,28h1v1h-1zM44,28h1v1h-1zM47,28h1v1h-1zM20,29h1v1h-1zM16,30h1v1h-1zM40,30h1v1h-1zM42,30h1v1h-1zM44,30h1v1h-1zM27,31h1v1h-1zM35,32h1v1h-1zM41,32h1v1h-1zM42,32h1v1h-1zM15,33h1v1h-1zM43,33h1v1h-1zM45,33h1v1h-1zM26,34h1v1h-1zM29,34h1v1h-1zM34,34h1v1h-1zM17,35h1v1h-1zM23,35h1v1h-1zM29,35h1v1h-1zM41,35h1v1h-1zM11,36h1v1h-1zM22,36h1v1h-1zM47,36h1v1h-1zM3,37h1v1h-1zM6,38h1v1h-1zM8,38h1v1h-1zM28,38h1v1h-1zM32,38h1v1h-1zM4,39h1v1h-1zM27,39h1v1h-1zM18,40h1v1h-1zM26,40h1v1h-1zM47,40h1v1h-1zM16,41h1v1h-1zM20,41h1v1h-1zM10,42h1v1h-1zM40,42h1v1h-1zM43,42h1v1h-1zM3,43h1v1h-1zM34,43h1v1h-1zM2,44h1v1h-1zM6,44h1v1h-1zM32,45h1v1h-1zM0,47h1v1h-1zM1,47h1v1h-1zM2,47h1v1h-1zM15,47h1v1h-1z" fill="#a0a0ff" fill-opacity="0.75"/><path d="M46,0h1v1h-1zM17,1h1v1h-1zM35,1h1v1h-1zM42,1h1v1h-1zM15,4h1v1h-1zM46,4h1v1h-1zM47,5h1v1h-1zM5,8h1v1h-1zM5,9h1v1h-1zM31,12h1v1h-1zM5,14h1v1h-1zM6,14h1v1h-1zM31,15h1v1h-1zM7,17h1v1h-1zM21,17h1v1h-1zM41,19h1v1h-1zM2,20h1v1h-1zM9,20h1v1h-1zM26,20h1v1h-1zM13,21h1v1h-1zM25,21h1v1h-1zM11,22h1v1h-1zM37,22h1v1h-1zM9,23h1v1h-1zM12,23h1v1h-1zM30,23h1v1h-1zM37,23h1v1h-1zM45,23h1v1h-1zM22,24h1v1h-1zM18,25h1v1h-1zM19,25h1v1h-1zM18,26h1v1h-1zM25,26h1v1h-1zM36,28h1v1h-1zM37,29h1v1h-1zM38,29h1v1h-1zM39,29h1v1h-1zM47,29h1v1h-1zM24,31h1v1h-1zM29,33h1v1h-1zM22,34h1v1h-1zM38,34h1v1h-1zM40,34h1v1h-1zM43,36h1v1h-1zM44,36h1v1h-1zM31,37h1v1h-1zM26,38h1v1h-1zM13,39h1v1h-1zM14,39h1v1h-1zM45,39h1v1h-1zM44,40h1v1h-1zM13,41h1v1h-1zM26,41h1v1h-1zM28,41h1v1h-1zM35,41h1v1h-1zM36,41h1v1h-1zM46,41h1v1h-1zM13,42h1v1h-1zM21,42h1v1h-1zM42,42h1v1h-1zM46,45h1v1h-1zM10,46h1v1h-1z" fill="#a0a0ff" fill-opacity="0.95"/><path d="M3,0h1v1h-1zM6,0h1v1h-1zM11,0h1v1h-1zM15,0h1v1h-1zM41,0h1v1h-1zM25,1h1v1h-1zM28,1h1v1h-1zM40,1h1v1h-1zM44,1h1v1h-1zM47,1h1v1h-1zM1,2h1v1h-1zM2,2h1v1h-1zM8,2h1v1h-1zM13,2h1v1h-1zM26,2h1v1h-1zM32,2h1v1h-1zM34,2h1v1h-1zM36,2h1v1h-1zM14,3h1v1h-1zM16,3h1v1h-1zM18,3h1v1h-1zM25,3h1v1h-1zM35,3h1v1h-1zM26,4h1v1h-1zM28,4h1v1h-1zM31,4h1v1h-1zM38,4h1v1h-1zM31,5h1v1h-1zM33,5h1v1h-1zM35,5h1v1h-1zM1,6h1v1h-1zM7,6h1v1h-1zM8,6h1v1h-1zM10,6h1v1h-1zM15,6h1v1h-1zM17,6h1v1h-1zM1,7h1v1h-1zM16,7h1v1h-1zM19,7h1v1h-1zM21,7h1v1h-1zM36,7h1v1h-1zM40,7h1v1h-1zM17,8h1v1h-1zM19,8h1v1h-1zM42,8h1v1h-1zM47,8h1v1h-1zM9,9h1v1h-1zM12,9h1v1h-1zM14,9h1v1h-1zM30,9h1v1h-1zM4,10h1v1h-1zM12,10h1v1h-1zM36,10h1v1h-1zM44,10h1v1h-1zM45,10h1v1h-1zM47,10h1v1h-1zM4,11h1v1h-1zM18,11h1v1h-1zM24,11h1v1h-1zM47,11h1v1h-1zM0,12h1v1h-1zM28,12h1v1h-1zM46,12h1v1h-1zM47,12h1v1h-1zM0,13h1v1h-1zM4,13h1v1h-1zM10,13h1v1h-1zM33,13h1v1h-1zM35,13h1v1h-1zM10,14h1v1h-1zM12,14h1v1h-1zM32,14h1v1h-1zM43,14h1v1h-1zM45,14h1v1h-1zM3,15h1v1h-1zM4,15h1v1h-1zM10,15h1v1h-1zM14,15h1v1h-1zM15,15h1v1h-1zM20,15h1v1h-1zM23,15h1v1h-1zM34,15h1v1h-1zM37,15h1v1h-1zM38,15h1v1h-1zM14,16h1v1h-1zM31,16h1v1h-1zM46,16h1v1h-1zM4,17h1v1h-1zM22,17h1v1h-1zM24,17h1v1h-1zM40,17h1v1h-1zM41,17h1v1h-1zM0,18h1v1h-1zM8,18h1v1h-1zM18,18h1v1h-1zM30,18h1v1h-1zM34,18h1v1h-1zM38,18h1v1h-1zM44,18h1v1h-1zM45,18h1v1h-1zM25,19h1v1h-1zM28,19h1v1h-1zM33,19h1v1h-1zM44,19h1v1h-1zM46,19h1v1h-1zM3,20h1v1h-1zM18,20h1v1h-1zM23,20h1v1h-1zM33,20h1v1h-1zM39,20h1v1h-1zM47,20h1v1h-1zM1,21h1v1h-1zM14,21h1v1h-1zM38,21h1v1h-1zM45,21h1v1h-1zM47,21h1v1h-1zM1,22h1v1h-1zM23,22h1v1h-1zM27,22h1v1h-1zM38,22h1v1h-1zM40,22h1v1h-1zM42,22h1v1h-1zM1,23h1v1h-1zM4,23h1v1h-1zM28,23h1v1h-1zM32,23h1v1h-1zM38,23h1v1h-1zM1,24h1v1h-1zM16,24h1v1h-1zM25,24h1v1h-1zM34,24h1v1h-1zM36,24h1v1h-1zM40,24h1v1h-1zM4,25h1v1h-1zM27,25h1v1h-1zM4,26h1v1h-1zM26,26h1v1h-1zM31,26h1v1h-1zM2,27h1v1h-1zM15,27h1v1h-1zM18,27h1v1h-1zM39,27h1v1h-1zM3,28h1v1h-1zM26,28h1v1h-1zM28,28h1v1h-1zM42,28h1v1h-1zM5,29h1v1h-1zM6,29h1v1h-1zM8,29h1v1h-1zM10,29h1v1h-1zM16,29h1v1h-1zM21,29h1v1h-1zM22,29h1v1h-1zM28,29h1v1h-1zM7,30h1v1h-1zM45,30h1v1h-1zM4,31h1v1h-1zM7,31h1v1h-1zM15,31h1v1h-1zM19,31h1v1h-1zM23,31h1v1h-1zM36,31h1v1h-1zM24,32h1v1h-1zM25,32h1v1h-1zM33,32h1v1h-1zM46,32h1v1h-1zM47,32h1v1h-1zM17,33h1v1h-1zM24,33h1v1h-1zM32,33h1v1h-1zM33,33h1v1h-1zM44,33h1v1h-1zM21,34h1v1h-1zM27,34h1v1h-1zM3,35h1v1h-1zM28,35h1v1h-1zM42,35h1v1h-1zM44,35h1v1h-1zM9,36h1v1h-1zM10,36h1v1h-1zM23,36h1v1h-1zM25,36h1v1h-1zM1,37h1v1h-1zM7,37h1v1h-1zM13,37h1v1h-1zM14,37h1v1h-1zM24,37h1v1h-1zM34,37h1v1h-1zM43,37h1v1h-1zM27,38h1v1h-1zM36,38h1v1h-1zM0,39h1v1h-1zM17,39h1v1h-1zM6,40h1v1h-1zM23,40h1v1h-1zM24,40h1v1h-1zM42,40h1v1h-1zM8,41h1v1h-1zM11,41h1v1h-1zM15,41h1v1h-1zM18,41h1v1h-1zM32,41h1v1h-1zM30,42h1v1h-1zM38,42h1v1h-1zM6,43h1v1h-1zM23,43h1v1h-1zM40,43h1v1h-1zM42,43h1v1h-1zM8,44h1v1h-1zM12,44h1v1h-1zM23,44h1v1h-1zM28,44h1v1h-1zM34,44h1v1h-1zM2,45h1v1h-1zM3,45h1v1h-1zM35,45h1v1h-1zM1,46h1v1h-1zM26,46h1v1h-1zM29,46h1v1h-1zM32,46h1v1h-1zM47,46h1v1h-1zM16,47h1v1h-1zM25,47h1v1h-1z" fill="#ffffff" fill-opacity="0.5"/><path d="M5,0h1v1h-1zM18,0h1v1h-1zM21,0h1v1h-1zM23,0h1v1h-1zM36,0h1v1h-1zM23,1h1v1h-1zM46,1h1v1h-1zM12,2h1v1h-1zM7,3h1v1h-1zM15,3h1v1h-1zM30,3h1v1h-1zM33,3h1v1h-1zM3,4h1v1h-1zM11,4h1v1h-1zM14,4h1v1h-1zM37,4h1v1h-1zM3,5h1v1h-1zM20,5h1v1h-1zM11,6h1v1h-1zM30,6h1v1h-1zM10,7h1v1h-1zM22,7h1v1h-1zM37,7h1v1h-1zM39,7h1v1h-1zM44,7h1v1h-1zM16,8h1v1h-1zM28,8h1v1h-1zM36,8h1v1h-1zM38,8h1v1h-1zM39,8h1v1h-1zM29,9h1v1h-1zM33,9h1v1h-1zM35,9h1v1h-1zM5,10h1v1h-1zM34,10h1v1h-1zM1,11h1v1h-1zM11,11h1v1h-1zM14,11h1v1h-1zM27,11h1v1h-1zM5,12h1v1h-1zM12,12h1v1h-1zM17,12h1v1h-1zM24,12h1v1h-1zM27,12h1v1h-1zM37,12h1v1h-1zM2,13h1v1h-1zM6,13h1v1h-1zM24,13h1v1h-1zM39,13h1v1h-1zM46,13h1v1h-1zM24,14h1v1h-1zM40,14h1v1h-1zM6,15h1v1h-1zM13,15h1v1h-1zM22,15h1v1h-1zM28,15h1v1h-1zM30,16h1v1h-1zM32,16h1v1h-1zM34,16h1v1h-1zM35,16h1v1h-1zM36,16h1v1h-1zM38,16h1v1h-1zM40,16h1v1h-1zM43,16h1v1h-1zM3,17h1v1h-1zM8,17h1v1h-1zM11,17h1v1h-1zM19,17h1v1h-1zM20,17h1v1h-1zM32,17h1v1h-1zM35,17h1v1h-1zM37,17h1v1h-1zM21,18h1v1h-1zM25,18h1v1h-1zM4,19h1v1h-1zM30,19h1v1h-1zM0,20h1v1h-1zM13,20h1v1h-1zM28,20h1v1h-1zM40,20h1v1h-1zM44,20h1v1h-1zM0,21h1v1h-1zM39,21h1v1h-1zM2,22h1v1h-1zM19,22h1v1h-1zM20,22h1v1h-1zM22,22h1v1h-1zM31,22h1v1h-1zM36,22h1v1h-1zM7,23h1v1h-1zM11,23h1v1h-1zM14,23h1v1h-1zM42,23h1v1h-1zM4,24h1v1h-1zM12,24h1v1h-1zM19,24h1v1h-1zM21,24h1v1h-1zM24,24h1v1h-1zM30,24h1v1h-1zM33,24h1v1h-1zM35,24h1v1h-1zM38,24h1v1h-1zM46,24h1v1h-1zM20,25h1v1h-1zM26,25h1v1h-1zM31,25h1v1h-1zM32,25h1v1h-1zM2,26h1v1h-1zM6,26h1v1h-1zM20,26h1v1h-1zM23,26h1v1h-1zM29,26h1v1h-1zM41,26h1v1h-1zM1,27h1v1h-1zM19,27h1v1h-1zM22,27h1v1h-1zM29,27h1v1h-1zM33,27h1v1h-1zM35,27h1v1h-1zM43,27h1v1h-1zM44,27h1v1h-1zM45,27h1v1h-1zM0,28h1v1h-1zM1,28h1v1h-1zM2,28h1v1h-1zM22,28h1v1h-1zM23,28h1v1h-1zM29,28h1v1h-1zM9,29h1v1h-1zM13,29h1v1h-1zM33,29h1v1h-1zM20,30h1v1h-1zM27,30h1v1h-1zM28,30h1v1h-1zM31,30h1v1h-1zM2,32h1v1h-1zM21,32h1v1h-1zM22,32h1v1h-1zM27,32h1v1h-1zM36,32h1v1h-1zM37,32h1v1h-1zM2,33h1v1h-1zM5,33h1v1h-1zM6,33h1v1h-1zM10,33h1v1h-1zM11,33h1v1h-1zM14,33h1v1h-1zM20,33h1v1h-1zM27,33h1v1h-1zM47,33h1v1h-1zM24,34h1v1h-1zM30,34h1v1h-1zM35,34h1v1h-1zM45,34h1v1h-1zM4,35h1v1h-1zM8,35h1v1h-1zM35,35h1v1h-1zM39,35h1v1h-1zM46,35h1v1h-1zM1,36h1v1h-1zM28,36h1v1h-1zM32,36h1v1h-1zM33,36h1v1h-1zM39,36h1v1h-1zM45,36h1v1h-1zM0,37h1v1h-1zM2,37h1v1h-1zM8,37h1v1h-1zM9,37h1v1h-1zM26,37h1v1h-1zM45,37h1v1h-1zM46,37h1v1h-1zM47,37h1v1h-1zM12,38h1v1h-1zM14,38h1v1h-1zM18,39h1v1h-1zM20,39h1v1h-1zM25,39h1v1h-1zM32,39h1v1h-1zM33,39h1v1h-1zM35,39h1v1h-1zM39,39h1v1h-1zM5,40h1v1h-1zM7,40h1v1h-1zM20,40h1v1h-1zM37,40h1v1h-1zM38,40h1v1h-1zM39,40h1v1h-1zM2,41h1v1h-1zM27,41h1v1h-1zM39,41h1v1h-1zM44,41h1v1h-1zM12,42h1v1h-1zM24,42h1v1h-1zM36,42h1v1h-1zM47,42h1v1h-1zM21,43h1v1h-1zM36,43h1v1h-1zM39,43h1v1h-1zM15,44h1v1h-1zM24,44h1v1h-1zM40,44h1v1h-1zM44,44h1v1h-1zM45,44h1v1h-1zM1,45h1v1h-1zM7,45h1v1h-1zM14,45h1v1h-1zM28,45h1v1h-1zM40,45h1v1h-1zM42,45h1v1h-1zM44,45h1v1h-1zM45,45h1v1h-1zM47,45h1v1h-1zM0,46h1v1h-1zM4,46h1v1h-1zM20,46h1v1h-1zM37,46h1v1h-1zM44,46h1v1h-1zM8,47h1v1h-1zM32,47h1v1h-1zM33,47h1v1h-1zM35,47h1v1h-1zM39,47h1v1h-1zM42,47h1v1h-1z" fill="#ffffff" fill-opacity="0.75"/><path d="M2,0h1v1h-1zM8,0h1v1h-1zM9,0h1v1h-1zM25,0h1v1h-1zM28,0h1v1h-1zM2,1h1v1h-1zM16,1h1v1h-1zM11,2h1v1h-1zM17,2h1v1h-1zM30,2h1v1h-1zM42,2h1v1h-1zM3,3h1v1h-1zM11,3h1v1h-1zM37,3h1v1h-1zM7,4h1v1h-1zM47,4h1v1h-1zM5,5h1v1h-1zM15,5h1v1h-1zM27,5h1v1h-1zM28,5h1v1h-1zM27,6h1v1h-1zM31,6h1v1h-1zM42,6h1v1h-1zM8,7h1v1h-1zM18,7h1v1h-1zM31,7h1v1h-1zM8,8h1v1h-1zM33,8h1v1h-1zM35,8h1v1h-1zM6,9h1v1h-1zM8,10h1v1h-1zM23,10h1v1h-1zM33,10h1v1h-1zM39,10h1v1h-1zM31,11h1v1h-1zM32,11h1v1h-1zM37,11h1v1h-1zM39,11h1v1h-1zM30,12h1v1h-1zM35,12h1v1h-1zM40,12h1v1h-1zM22,14h1v1h-1zM23,14h1v1h-1zM12,15h1v1h-1zM30,15h1v1h-1zM42,15h1v1h-1zM2,16h1v1h-1zM3,16h1v1h-1zM32,18h1v1h-1zM38,19h1v1h-1zM42,19h1v1h-1zM1,20h1v1h-1zM12,21h1v1h-1zM26,21h1v1h-1zM6,22h1v1h-1zM10,22h1v1h-1zM12,22h1v1h-1zM13,22h1v1h-1zM24,22h1v1h-1zM45,22h1v1h-1zM46,22h1v1h-1zM5,23h1v1h-1zM8,23h1v1h-1zM19,23h1v1h-1zM20,23h1v1h-1zM21,23h1v1h-1zM43,23h1v1h-1zM46,23h1v1h-1zM6,24h1v1h-1zM17,25h1v1h-1zM24,25h1v1h-1zM25,27h1v1h-1zM36,27h1v1h-1zM24,28h1v1h-1zM33,28h1v1h-1zM46,28h1v1h-1zM0,29h1v1h-1zM12,29h1v1h-1zM44,29h1v1h-1zM29,31h1v1h-1zM41,31h1v1h-1zM10,32h1v1h-1zM16,33h1v1h-1zM16,34h1v1h-1zM22,35h1v1h-1zM0,36h1v1h-1zM34,36h1v1h-1zM36,36h1v1h-1zM21,37h1v1h-1zM33,37h1v1h-1zM39,37h1v1h-1zM4,38h1v1h-1zM13,38h1v1h-1zM21,38h1v1h-1zM40,38h1v1h-1zM21,39h1v1h-1zM28,39h1v1h-1zM27,40h1v1h-1zM45,40h1v1h-1zM46,40h1v1h-1zM12,41h1v1h-1zM25,41h1v1h-1zM37,41h1v1h-1zM41,41h1v1h-1zM47,41h1v1h-1zM31,42h1v1h-1zM32,42h1v1h-1zM37,42h1v1h-1zM39,42h1v1h-1zM41,42h1v1h-1zM46,42h1v1h-1zM1,43h1v1h-1zM13,43h1v1h-1zM3,44h1v1h-1zM14,44h1v1h-1zM33,44h1v1h-1zM21,45h1v1h-1zM33,45h1v1h-1zM34,46h1v1h-1zM45,46h1v1h-1zM4,47h1v1h-1zM28,47h1v1h-1z" fill="#ffffff" fill-opacity="0.95"/></pattern></defs>
<rect width="550" height="300" fill="#fff"/>
<linearGradient id="gT" x1="0.3" x2="0" y1="0" y2="1"><stop offset="0" stop-color="#2a40de"/><stop offset="0.35" stop-color="#2a52d0"/><stop offset="0.55" stop-color="#2a70b8"/><stop offset="0.8" stop-color="#2c88a0"/><stop offset="1" stop-color="#2e9490"/></linearGradient><linearGradient id="gL" x1="0" x2="0" y1="0" y2="1"><stop offset="0" stop-color="#2030ea"/><stop offset="0.5" stop-color="#2a44e0"/><stop offset="1" stop-color="#3068c8"/></linearGradient><linearGradient id="gB" x1="0" x2="0" y1="0" y2="1"><stop offset="0" stop-color="#1a1af0"/><stop offset="0.6" stop-color="#1c24ec"/><stop offset="1" stop-color="#2848d8"/></linearGradient><linearGradient id="gM" x1="0" x2="0" y1="0" y2="1"><stop offset="0.3" stop-color="#000"/><stop offset="0.62" stop-color="#fff"/></linearGradient><filter id="softB" x="-5%" y="-5%" width="110%" height="110%"><feGaussianBlur stdDeviation="0.35"/></filter><filter id="soft" x="-5%" y="-5%" width="110%" height="110%"><feGaussianBlur stdDeviation="0.55"/></filter><text x="6.6" y="18.9" font-size="21" fill="#000" stroke="#000" stroke-width="0.28">A</text><g><clipPath id="clipA0"><rect x="33" y="19.5" width="98.3" height="97.8"/></clipPath><g clip-path="url(#clipA0)"><g filter="url(#soft)"><path d="M77.0,23.5 C78.0,22.3 78.7,22.5 80.0,22.0 C81.3,21.5 83.2,20.8 85.0,20.7 C86.8,20.6 88.8,20.5 91.0,21.1 C93.2,21.7 96.7,23.4 98.5,24.5 C100.3,25.6 100.5,26.5 101.8,27.8 C103.1,29.1 104.9,30.6 106.2,32.2 C107.5,33.9 108.7,36.1 109.5,37.7 C110.3,39.4 111.1,40.6 111.2,42.1 C111.3,43.6 110.8,45.3 110.1,46.5 C109.4,47.7 108.4,48.4 107.3,49.3 C106.2,50.2 104.7,51.0 103.5,52.0 C102.3,53.0 100.8,54.1 100.0,55.5 C99.2,56.9 98.9,58.7 98.5,60.5 C98.1,62.3 98.1,64.3 97.5,66.5 C96.9,68.7 96.1,71.3 95.0,73.5 C93.9,75.7 92.3,77.8 91.0,79.5 C89.7,81.2 88.3,82.2 87.0,83.5 C85.7,84.8 83.9,85.8 83.0,87.5 C82.1,89.2 81.8,91.2 81.5,93.5 C81.2,95.8 81.1,99.7 81.0,101.5 C80.9,103.3 81.5,103.9 80.8,104.5 C80.1,105.1 78.6,104.9 77.0,105.0 C75.4,105.1 72.9,105.1 71.0,105.3 C69.1,105.5 67.3,105.9 65.5,105.9 C63.7,105.9 61.5,106.2 60.0,105.5 C58.5,104.8 56.9,103.1 56.2,101.5 C55.5,99.9 55.7,97.5 55.6,96.0 C55.5,94.5 56.2,93.2 55.6,92.7 C55.0,92.2 53.1,93.3 52.0,93.0 C50.9,92.7 50.0,92.1 49.0,91.0 C48.0,89.9 47.0,87.8 46.0,86.5 C45.0,85.2 43.8,84.7 43.0,83.5 C42.2,82.3 41.6,80.8 41.5,79.5 C41.4,78.2 41.8,76.9 42.5,76.0 C43.2,75.1 45.2,74.8 45.5,74.0 C45.8,73.2 44.9,71.8 44.0,71.0 C43.1,70.2 40.9,69.9 40.0,69.0 C39.1,68.1 38.6,66.5 38.5,65.5 C38.4,64.5 38.6,64.3 39.1,63.0 C39.6,61.7 40.6,59.3 41.3,57.5 C42.0,55.7 42.8,53.5 43.5,52.0 C44.2,50.5 44.6,49.6 45.7,48.7 C46.8,47.8 48.7,47.2 50.1,46.5 C51.5,45.8 53.3,45.5 54.0,44.3 C54.7,43.0 54.1,40.4 54.5,39.0 C54.9,37.6 55.4,36.4 56.5,35.7 C57.6,35.0 59.2,34.9 61.0,34.7 C62.8,34.5 65.2,34.6 67.0,34.3 C68.8,34.0 70.3,33.9 71.5,33.0 C72.7,32.1 73.1,30.6 74.0,29.0 C74.9,27.4 76.0,24.7 77.0,23.5Z" fill="#2c2cec"/><path d="M77.0,23.5 C78.0,22.3 78.7,22.5 80.0,22.0 C81.3,21.5 83.2,20.8 85.0,20.7 C86.8,20.6 88.8,20.5 91.0,21.1 C93.2,21.7 96.7,23.4 98.5,24.5 C100.3,25.6 100.5,26.5 101.8,27.8 C103.1,29.1 104.9,30.6 106.2,32.2 C107.5,33.9 108.7,36.1 109.5,37.7 C110.3,39.4 111.1,40.6 111.2,42.1 C111.3,43.6 110.8,45.3 110.1,46.5 C109.4,47.7 108.4,48.4 107.3,49.3 C106.2,50.2 104.7,51.0 103.5,52.0 C102.3,53.0 100.8,54.1 100.0,55.5 C99.2,56.9 98.9,58.7 98.5,60.5 C98.1,62.3 98.1,64.3 97.5,66.5 C96.9,68.7 96.1,71.3 95.0,73.5 C93.9,75.7 92.3,77.8 91.0,79.5 C89.7,81.2 88.3,82.2 87.0,83.5 C85.7,84.8 83.9,85.8 83.0,87.5 C82.1,89.2 81.8,91.2 81.5,93.5 C81.2,95.8 81.1,99.7 81.0,101.5 C80.9,103.3 81.5,103.9 80.8,104.5 C80.1,105.1 78.6,104.9 77.0,105.0 C75.4,105.1 72.9,105.1 71.0,105.3 C69.1,105.5 67.3,105.9 65.5,105.9 C63.7,105.9 61.5,106.2 60.0,105.5 C58.5,104.8 56.9,103.1 56.2,101.5 C55.5,99.9 55.7,97.5 55.6,96.0 C55.5,94.5 56.2,93.2 55.6,92.7 C55.0,92.2 53.1,93.3 52.0,93.0 C50.9,92.7 50.0,92.1 49.0,91.0 C48.0,89.9 47.0,87.8 46.0,86.5 C45.0,85.2 43.8,84.7 43.0,83.5 C42.2,82.3 41.6,80.8 41.5,79.5 C41.4,78.2 41.8,76.9 42.5,76.0 C43.2,75.1 45.2,74.8 45.5,74.0 C45.8,73.2 44.9,71.8 44.0,71.0 C43.1,70.2 40.9,69.9 40.0,69.0 C39.1,68.1 38.6,66.5 38.5,65.5 C38.4,64.5 38.6,64.3 39.1,63.0 C39.6,61.7 40.6,59.3 41.3,57.5 C42.0,55.7 42.8,53.5 43.5,52.0 C44.2,50.5 44.6,49.6 45.7,48.7 C46.8,47.8 48.7,47.2 50.1,46.5 C51.5,45.8 53.3,45.5 54.0,44.3 C54.7,43.0 54.1,40.4 54.5,39.0 C54.9,37.6 55.4,36.4 56.5,35.7 C57.6,35.0 59.2,34.9 61.0,34.7 C62.8,34.5 65.2,34.6 67.0,34.3 C68.8,34.0 70.3,33.9 71.5,33.0 C72.7,32.1 73.1,30.6 74.0,29.0 C74.9,27.4 76.0,24.7 77.0,23.5Z" fill="url(#spW)"/><ellipse cx="60.8" cy="28.1" rx="5.2" ry="3.0" transform="rotate(-35 60.8 28.1)" fill="#2c2cec"/><ellipse cx="60.8" cy="28.1" rx="5.2" ry="3.0" transform="rotate(-35 60.8 28.1)" fill="url(#spW)"/><ellipse cx="39.3" cy="71.8" rx="2.3" ry="1.5" transform="rotate(20 39.3 71.8)" fill="#2c2cec"/><ellipse cx="39.3" cy="71.8" rx="2.3" ry="1.5" transform="rotate(20 39.3 71.8)" fill="url(#spW)"/><ellipse cx="73.5" cy="25.7" rx="3.6" ry="1.3" transform="rotate(42 73.5 25.7)" fill="#2c2cec"/><ellipse cx="73.5" cy="25.7" rx="3.6" ry="1.3" transform="rotate(42 73.5 25.7)" fill="url(#spW)"/><ellipse cx="77.6" cy="21.2" rx="1.8" ry="0.9" transform="rotate(35 77.6 21.2)" fill="#2c2cec"/><ellipse cx="77.6" cy="21.2" rx="1.8" ry="0.9" transform="rotate(35 77.6 21.2)" fill="url(#spW)"/><ellipse cx="35.8" cy="67.4" rx="1.7" ry="1.1" transform="rotate(0 35.8 67.4)" fill="#2c2cec"/><ellipse cx="35.8" cy="67.4" rx="1.7" ry="1.1" transform="rotate(0 35.8 67.4)" fill="url(#spW)"/><ellipse cx="115.0" cy="43.8" rx="0.6" ry="0.6" transform="rotate(0 115.0 43.8)" fill="#2c2cec"/><ellipse cx="115.0" cy="43.8" rx="0.6" ry="0.6" transform="rotate(0 115.0 43.8)" fill="url(#spW)"/><path d="M70.5,31.5 C71.2,30.4 73.1,30.4 74.3,30.5 C75.5,30.6 77.1,31.6 77.8,32.4 C78.5,33.2 78.5,34.6 78.2,35.5 C77.9,36.4 77.1,37.3 76.2,38.0 C75.3,38.7 73.6,39.6 72.6,39.5 C71.6,39.4 70.5,38.6 70.2,37.3 C69.9,36.0 69.8,32.6 70.5,31.5Z" fill="#fff" fill-opacity="0.45"/><path d="M45.0,63.5 C45.6,62.8 47.2,62.2 48.0,62.5 C48.8,62.8 49.7,64.5 49.5,65.5 C49.3,66.5 47.8,68.2 47.0,68.5 C46.2,68.8 44.8,67.8 44.5,67.0 C44.2,66.2 44.4,64.2 45.0,63.5Z" fill="#fff" fill-opacity="0.75"/><path d="M50.0,77.5 C50.5,76.4 52.8,75.8 54.0,76.0 C55.2,76.2 56.8,77.3 57.0,78.5 C57.2,79.7 56.0,82.3 55.0,83.0 C54.0,83.7 51.8,83.4 51.0,82.5 C50.2,81.6 49.5,78.6 50.0,77.5Z" fill="#fff" fill-opacity="0.75"/><path d="M51.0,85.5 C50.8,84.7 53.1,83.9 54.0,84.0 C54.9,84.1 56.3,85.2 56.5,86.0 C56.7,86.8 55.9,89.1 55.0,89.0 C54.1,88.9 51.2,86.3 51.0,85.5Z" fill="#fff" fill-opacity="0.75"/><path d="M59.0,87.5 C59.2,86.8 61.2,86.2 62.0,86.5 C62.8,86.8 64.2,88.2 64.0,89.0 C63.8,89.8 61.8,91.2 61.0,91.0 C60.2,90.8 58.8,88.2 59.0,87.5Z" fill="#fff" fill-opacity="0.75"/><path d="M69.0,89.5 C69.2,88.8 71.2,88.2 72.0,88.5 C72.8,88.8 74.2,90.2 74.0,91.0 C73.8,91.8 71.8,93.2 71.0,93.0 C70.2,92.8 68.8,90.2 69.0,89.5Z" fill="#fff" fill-opacity="0.75"/><path d="M46.0,55.5 C46.3,54.8 48.3,54.2 49.0,54.5 C49.7,54.8 50.3,56.8 50.0,57.5 C49.7,58.2 47.7,59.3 47.0,59.0 C46.3,58.7 45.7,56.2 46.0,55.5Z" fill="#fff" fill-opacity="0.75"/><path d="M58.0,47.5 C58.3,46.8 60.3,46.2 61.0,46.5 C61.7,46.8 62.3,48.8 62.0,49.5 C61.7,50.2 59.7,50.8 59.0,50.5 C58.3,50.2 57.7,48.2 58.0,47.5Z" fill="#fff" fill-opacity="0.75"/><polyline points="45.0,73.0 54.2,72.1 65.8,69.4 75.8,65.2 85.8,62.5 95.8,61.7 99.2,60.0" fill="none" stroke="#fff" stroke-width="2.0" stroke-linecap="round" stroke-linejoin="round"/><polyline points="47.0,78.0 55.0,79.5 63.0,83.0 73.0,85.5 81.0,85.5 86.5,83.5" fill="none" stroke="#fff" stroke-width="2.0" stroke-linecap="round" stroke-linejoin="round"/><polyline points="64.5,106.5 69.0,105.7 74.0,105.1 79.5,104.5" fill="none" stroke="#fff" stroke-width="2.0" stroke-linecap="round" stroke-linejoin="round"/><polyline points="79.3,20.5 79.2,25.5 79.5,30.0" fill="none" stroke="#fff" stroke-width="2.0" stroke-linecap="round" stroke-linejoin="round"/><path d="M98.5,60.8 C98.7,58.8 99.0,57.0 99.6,55.5 C100.2,54.0 100.9,53.0 102.0,52.0 C103.1,51.0 104.6,50.4 106.2,49.8 C107.8,49.2 109.3,48.8 111.7,48.5 C114.1,48.2 118.3,48.1 120.5,48.2 C122.7,48.3 123.8,48.7 124.9,49.3 C126.0,49.9 126.3,50.6 127.1,52.0 C127.9,53.4 129.0,54.7 129.5,57.5 C130.0,60.3 130.1,65.7 130.2,69.0 C130.3,72.3 130.1,74.5 130.0,77.3 C129.9,80.0 129.9,81.8 129.9,85.5 C129.9,89.2 130.2,95.5 129.9,99.5 C129.6,103.5 129.0,106.9 128.2,109.2 C127.4,111.5 126.2,112.5 124.9,113.6 C123.6,114.7 123.1,115.2 120.5,115.8 C117.9,116.3 113.6,116.7 109.5,116.9 C105.4,117.1 98.7,116.9 95.8,116.9 C92.9,116.9 93.3,117.0 91.9,116.7 C90.5,116.4 88.7,116.3 87.5,115.3 C86.3,114.3 85.2,112.8 84.5,110.5 C83.8,108.2 83.2,104.2 83.0,101.5 C82.8,98.8 83.1,96.7 83.5,94.5 C83.9,92.3 84.6,90.2 85.5,88.5 C86.4,86.8 87.8,85.8 89.0,84.5 C90.2,83.2 91.8,82.2 93.0,80.5 C94.2,78.8 95.6,76.7 96.5,74.5 C97.4,72.3 98.2,69.8 98.5,67.5 C98.8,65.2 98.3,62.8 98.5,60.8Z" fill="none" stroke="#fff" stroke-width="1.8" stroke-opacity="0.85"/><path d="M98.5,60.8 C98.7,58.8 99.0,57.0 99.6,55.5 C100.2,54.0 100.9,53.0 102.0,52.0 C103.1,51.0 104.6,50.4 106.2,49.8 C107.8,49.2 109.3,48.8 111.7,48.5 C114.1,48.2 118.3,48.1 120.5,48.2 C122.7,48.3 123.8,48.7 124.9,49.3 C126.0,49.9 126.3,50.6 127.1,52.0 C127.9,53.4 129.0,54.7 129.5,57.5 C130.0,60.3 130.1,65.7 130.2,69.0 C130.3,72.3 130.1,74.5 130.0,77.3 C129.9,80.0 129.9,81.8 129.9,85.5 C129.9,89.2 130.2,95.5 129.9,99.5 C129.6,103.5 129.0,106.9 128.2,109.2 C127.4,111.5 126.2,112.5 124.9,113.6 C123.6,114.7 123.1,115.2 120.5,115.8 C117.9,116.3 113.6,116.7 109.5,116.9 C105.4,117.1 98.7,116.9 95.8,116.9 C92.9,116.9 93.3,117.0 91.9,116.7 C90.5,116.4 88.7,116.3 87.5,115.3 C86.3,114.3 85.2,112.8 84.5,110.5 C83.8,108.2 83.2,104.2 83.0,101.5 C82.8,98.8 83.1,96.7 83.5,94.5 C83.9,92.3 84.6,90.2 85.5,88.5 C86.4,86.8 87.8,85.8 89.0,84.5 C90.2,83.2 91.8,82.2 93.0,80.5 C94.2,78.8 95.6,76.7 96.5,74.5 C97.4,72.3 98.2,69.8 98.5,67.5 C98.8,65.2 98.3,62.8 98.5,60.8Z" fill="#fff"/><path d="M100.5,56.5 C101.0,55.1 101.9,54.0 103.0,53.0 C104.1,52.0 105.5,51.2 107.0,50.7 C108.5,50.2 109.8,49.9 112.0,49.7 C114.2,49.5 118.4,49.4 120.5,49.5 C122.6,49.6 123.5,49.9 124.5,50.5 C125.5,51.1 126.0,51.8 126.7,53.0 C127.4,54.2 128.4,55.6 128.8,57.5 C129.2,59.4 129.2,61.5 129.3,64.5 C129.4,67.5 129.5,72.8 129.3,75.5 C129.1,78.2 129.6,78.8 128.0,80.5 C126.5,82.2 123.6,83.6 120.0,85.5 C116.4,87.4 108.0,90.3 106.5,92.0 C105.0,93.7 108.9,95.0 111.0,95.5 C113.1,96.0 116.8,95.5 119.0,95.3 C121.2,95.1 123.1,94.6 124.5,94.5 C125.9,94.4 127.2,93.9 127.5,94.5 C127.8,95.1 127.0,96.8 126.5,98.0 C126.0,99.2 125.0,100.4 124.5,101.5 C124.0,102.6 124.0,103.3 123.5,104.5 C123.0,105.7 122.7,107.1 121.5,108.5 C120.3,109.9 118.7,111.9 116.5,113.0 C114.3,114.1 112.0,114.6 108.5,115.0 C105.0,115.4 98.7,115.4 95.8,115.3 C92.9,115.2 92.4,114.9 91.0,114.5 C89.6,114.1 88.4,114.0 87.5,113.0 C86.6,112.0 86.0,110.4 85.5,108.5 C85.0,106.6 84.6,103.8 84.5,101.5 C84.4,99.2 84.6,96.4 85.0,94.5 C85.4,92.6 86.1,91.4 87.0,90.0 C87.9,88.6 89.2,87.3 90.5,86.0 C91.8,84.7 93.2,83.7 94.5,82.0 C95.8,80.3 97.2,78.2 98.0,76.0 C98.8,73.8 99.3,70.9 99.6,68.5 C99.9,66.1 99.8,63.5 100.0,61.5 C100.2,59.5 100.0,57.9 100.5,56.5Z" fill="url(#gT)"/><path d="M100.5,56.5 C101.0,55.1 101.9,54.0 103.0,53.0 C104.1,52.0 105.5,51.2 107.0,50.7 C108.5,50.2 109.8,49.9 112.0,49.7 C114.2,49.5 118.4,49.4 120.5,49.5 C122.6,49.6 123.5,49.9 124.5,50.5 C125.5,51.1 126.0,51.8 126.7,53.0 C127.4,54.2 128.4,55.6 128.8,57.5 C129.2,59.4 129.2,61.5 129.3,64.5 C129.4,67.5 129.5,72.8 129.3,75.5 C129.1,78.2 129.6,78.8 128.0,80.5 C126.5,82.2 123.6,83.6 120.0,85.5 C116.4,87.4 108.0,90.3 106.5,92.0 C105.0,93.7 108.9,95.0 111.0,95.5 C113.1,96.0 116.8,95.5 119.0,95.3 C121.2,95.1 123.1,94.6 124.5,94.5 C125.9,94.4 127.2,93.9 127.5,94.5 C127.8,95.1 127.0,96.8 126.5,98.0 C126.0,99.2 125.0,100.4 124.5,101.5 C124.0,102.6 124.0,103.3 123.5,104.5 C123.0,105.7 122.7,107.1 121.5,108.5 C120.3,109.9 118.7,111.9 116.5,113.0 C114.3,114.1 112.0,114.6 108.5,115.0 C105.0,115.4 98.7,115.4 95.8,115.3 C92.9,115.2 92.4,114.9 91.0,114.5 C89.6,114.1 88.4,114.0 87.5,113.0 C86.6,112.0 86.0,110.4 85.5,108.5 C85.0,106.6 84.6,103.8 84.5,101.5 C84.4,99.2 84.6,96.4 85.0,94.5 C85.4,92.6 86.1,91.4 87.0,90.0 C87.9,88.6 89.2,87.3 90.5,86.0 C91.8,84.7 93.2,83.7 94.5,82.0 C95.8,80.3 97.2,78.2 98.0,76.0 C98.8,73.8 99.3,70.9 99.6,68.5 C99.9,66.1 99.8,63.5 100.0,61.5 C100.2,59.5 100.0,57.9 100.5,56.5Z" fill="url(#spW)"/><mask id="mT0"><rect x="33" y="19.5" width="98.3" height="97.8" fill="url(#gM)"/></mask><path d="M100.5,56.5 C101.0,55.1 101.9,54.0 103.0,53.0 C104.1,52.0 105.5,51.2 107.0,50.7 C108.5,50.2 109.8,49.9 112.0,49.7 C114.2,49.5 118.4,49.4 120.5,49.5 C122.6,49.6 123.5,49.9 124.5,50.5 C125.5,51.1 126.0,51.8 126.7,53.0 C127.4,54.2 128.4,55.6 128.8,57.5 C129.2,59.4 129.2,61.5 129.3,64.5 C129.4,67.5 129.5,72.8 129.3,75.5 C129.1,78.2 129.6,78.8 128.0,80.5 C126.5,82.2 123.6,83.6 120.0,85.5 C116.4,87.4 108.0,90.3 106.5,92.0 C105.0,93.7 108.9,95.0 111.0,95.5 C113.1,96.0 116.8,95.5 119.0,95.3 C121.2,95.1 123.1,94.6 124.5,94.5 C125.9,94.4 127.2,93.9 127.5,94.5 C127.8,95.1 127.0,96.8 126.5,98.0 C126.0,99.2 125.0,100.4 124.5,101.5 C124.0,102.6 124.0,103.3 123.5,104.5 C123.0,105.7 122.7,107.1 121.5,108.5 C120.3,109.9 118.7,111.9 116.5,113.0 C114.3,114.1 112.0,114.6 108.5,115.0 C105.0,115.4 98.7,115.4 95.8,115.3 C92.9,115.2 92.4,114.9 91.0,114.5 C89.6,114.1 88.4,114.0 87.5,113.0 C86.6,112.0 86.0,110.4 85.5,108.5 C85.0,106.6 84.6,103.8 84.5,101.5 C84.4,99.2 84.6,96.4 85.0,94.5 C85.4,92.6 86.1,91.4 87.0,90.0 C87.9,88.6 89.2,87.3 90.5,86.0 C91.8,84.7 93.2,83.7 94.5,82.0 C95.8,80.3 97.2,78.2 98.0,76.0 C98.8,73.8 99.3,70.9 99.6,68.5 C99.9,66.1 99.8,63.5 100.0,61.5 C100.2,59.5 100.0,57.9 100.5,56.5Z" fill="url(#gT)" mask="url(#mT0)"/><path d="M100.5,56.5 C101.0,55.1 101.9,54.0 103.0,53.0 C104.1,52.0 105.5,51.2 107.0,50.7 C108.5,50.2 109.8,49.9 112.0,49.7 C114.2,49.5 118.4,49.4 120.5,49.5 C122.6,49.6 123.5,49.9 124.5,50.5 C125.5,51.1 126.0,51.8 126.7,53.0 C127.4,54.2 128.4,55.6 128.8,57.5 C129.2,59.4 129.2,61.5 129.3,64.5 C129.4,67.5 129.5,72.8 129.3,75.5 C129.1,78.2 129.6,78.8 128.0,80.5 C126.5,82.2 123.6,83.6 120.0,85.5 C116.4,87.4 108.0,90.3 106.5,92.0 C105.0,93.7 108.9,95.0 111.0,95.5 C113.1,96.0 116.8,95.5 119.0,95.3 C121.2,95.1 123.1,94.6 124.5,94.5 C125.9,94.4 127.2,93.9 127.5,94.5 C127.8,95.1 127.0,96.8 126.5,98.0 C126.0,99.2 125.0,100.4 124.5,101.5 C124.0,102.6 124.0,103.3 123.5,104.5 C123.0,105.7 122.7,107.1 121.5,108.5 C120.3,109.9 118.7,111.9 116.5,113.0 C114.3,114.1 112.0,114.6 108.5,115.0 C105.0,115.4 98.7,115.4 95.8,115.3 C92.9,115.2 92.4,114.9 91.0,114.5 C89.6,114.1 88.4,114.0 87.5,113.0 C86.6,112.0 86.0,110.4 85.5,108.5 C85.0,106.6 84.6,103.8 84.5,101.5 C84.4,99.2 84.6,96.4 85.0,94.5 C85.4,92.6 86.1,91.4 87.0,90.0 C87.9,88.6 89.2,87.3 90.5,86.0 C91.8,84.7 93.2,83.7 94.5,82.0 C95.8,80.3 97.2,78.2 98.0,76.0 C98.8,73.8 99.3,70.9 99.6,68.5 C99.9,66.1 99.8,63.5 100.0,61.5 C100.2,59.5 100.0,57.9 100.5,56.5Z" fill="url(#spT)" mask="url(#mT0)"/><path d="M98.5,60.8 C98.7,58.8 99.0,57.0 99.6,55.5 C100.2,54.0 100.9,53.0 102.0,52.0 C103.1,51.0 104.6,50.4 106.2,49.8 C107.8,49.2 109.3,48.8 111.7,48.5 C114.1,48.2 118.3,48.1 120.5,48.2 C122.7,48.3 123.8,48.7 124.9,49.3 C126.0,49.9 126.3,50.6 127.1,52.0 C127.9,53.4 129.0,54.7 129.5,57.5 C130.0,60.3 130.1,65.7 130.2,69.0 C130.3,72.3 130.1,74.5 130.0,77.3 C129.9,80.0 129.9,81.8 129.9,85.5 C129.9,89.2 130.2,95.5 129.9,99.5 C129.6,103.5 129.0,106.9 128.2,109.2 C127.4,111.5 126.2,112.5 124.9,113.6 C123.6,114.7 123.1,115.2 120.5,115.8 C117.9,116.3 113.6,116.7 109.5,116.9 C105.4,117.1 98.7,116.9 95.8,116.9 C92.9,116.9 93.3,117.0 91.9,116.7 C90.5,116.4 88.7,116.3 87.5,115.3 C86.3,114.3 85.2,112.8 84.5,110.5 C83.8,108.2 83.2,104.2 83.0,101.5 C82.8,98.8 83.1,96.7 83.5,94.5 C83.9,92.3 84.6,90.2 85.5,88.5 C86.4,86.8 87.8,85.8 89.0,84.5 C90.2,83.2 91.8,82.2 93.0,80.5 C94.2,78.8 95.6,76.7 96.5,74.5 C97.4,72.3 98.2,69.8 98.5,67.5 C98.8,65.2 98.3,62.8 98.5,60.8Z" fill="none" stroke="#111" stroke-width="0.9" stroke-dasharray="0.9 1.2"/><path d="M64.7,107.0 C64.7,105.4 66.9,105.7 68.0,106.0 C69.1,106.3 70.6,107.9 71.5,109.0 C72.4,110.1 73.6,111.2 73.5,112.5 C73.4,113.8 71.9,116.5 71.0,117.0 C70.1,117.5 69.0,117.2 68.0,115.5 C67.0,113.8 64.7,108.6 64.7,107.0Z" fill="#30c030" fill-opacity="0.9"/><path d="M64.7,107.0 C64.7,105.4 66.9,105.7 68.0,106.0 C69.1,106.3 70.6,107.9 71.5,109.0 C72.4,110.1 73.6,111.2 73.5,112.5 C73.4,113.8 71.9,116.5 71.0,117.0 C70.1,117.5 69.0,117.2 68.0,115.5 C67.0,113.8 64.7,108.6 64.7,107.0Z" fill="url(#spW)" fill-opacity="0.45"/><path d="M70.0,115.0 C70.4,113.8 72.5,111.5 73.5,110.5 C74.5,109.5 75.4,108.8 76.0,109.0 C76.6,109.2 77.3,110.7 77.0,112.0 C76.7,113.3 75.0,116.1 74.0,117.0 C73.0,117.9 71.7,117.8 71.0,117.5 C70.3,117.2 69.6,116.2 70.0,115.0Z" fill="#f03a20" fill-opacity="0.9"/><path d="M70.0,115.0 C70.4,113.8 72.5,111.5 73.5,110.5 C74.5,109.5 75.4,108.8 76.0,109.0 C76.6,109.2 77.3,110.7 77.0,112.0 C76.7,113.3 75.0,116.1 74.0,117.0 C73.0,117.9 71.7,117.8 71.0,117.5 C70.3,117.2 69.6,116.2 70.0,115.0Z" fill="url(#spW)" fill-opacity="0.45"/><path d="M69.0,112.5 C69.1,111.7 71.2,110.0 72.0,110.0 C72.8,110.0 73.6,111.7 73.5,112.5 C73.4,113.3 72.2,115.0 71.5,115.0 C70.8,115.0 68.9,113.3 69.0,112.5Z" fill="#f0b020" fill-opacity="0.9"/><path d="M69.0,112.5 C69.1,111.7 71.2,110.0 72.0,110.0 C72.8,110.0 73.6,111.7 73.5,112.5 C73.4,113.3 72.2,115.0 71.5,115.0 C70.8,115.0 68.9,113.3 69.0,112.5Z" fill="url(#spW)" fill-opacity="0.45"/><path d="M78.0,107.5 C78.1,106.0 80.2,105.8 81.0,106.5 C81.8,107.2 83.1,110.0 83.0,111.5 C82.9,113.0 81.3,116.2 80.5,115.5 C79.7,114.8 77.9,109.0 78.0,107.5Z" fill="#60a8c8" fill-opacity="0.6"/><path d="M78.0,107.5 C78.1,106.0 80.2,105.8 81.0,106.5 C81.8,107.2 83.1,110.0 83.0,111.5 C82.9,113.0 81.3,116.2 80.5,115.5 C79.7,114.8 77.9,109.0 78.0,107.5Z" fill="url(#spW)" fill-opacity="0.45"/></g></g><path d="M33,19.5 H131.3 V117.3" fill="none" stroke="#d4d4d4" stroke-width="0.8"/><path d="M33,19.5 V117.3 H131.3" fill="none" stroke="#b8b8b8" stroke-width="0.9"/><path d="M33,117.3h-2.4M33,110.3h-1.4M33,103.3h-1.4M33,96.3h-2.4M33,89.3h-1.4M33,82.3h-1.4M33,75.3h-2.4M33,68.3h-1.4M33,61.3h-1.4M33,54.3h-2.4M33,47.3h-1.4M33,40.3h-1.4M33,33.3h-2.4M33,26.3h-1.4M33.0,117.3v2.4M40.0,117.3v1.4M47.0,117.3v1.4M54.0,117.3v2.4M61.0,117.3v1.4M68.0,117.3v1.4M75.0,117.3v2.4M82.0,117.3v1.4M89.0,117.3v1.4M96.0,117.3v2.4M103.0,117.3v1.4M110.0,117.3v1.4M117.0,117.3v2.4M124.0,117.3v1.4M131.0,117.3v1.4" stroke="#555" stroke-width="0.8" fill="none"/><path d="M45.8,112.8 h13.6 M56.2,109.9 L59.6,112.8 L56.2,115.7" stroke="#222" stroke-width="1.1" fill="none"/></g><text x="32.3" y="18.9" font-size="10.6" fill="#111" stroke="#111" stroke-width="0.28">0 mol%</text><g><clipPath id="clipA1"><rect x="134.5" y="19.5" width="98.3" height="97.8"/></clipPath><g clip-path="url(#clipA1)"><g filter="url(#soft)"><path d="M178.5,23.5 C179.5,22.3 180.2,22.5 181.5,22.0 C182.8,21.5 184.7,20.8 186.5,20.7 C188.3,20.6 190.2,20.5 192.5,21.1 C194.8,21.7 198.2,23.4 200.0,24.5 C201.8,25.6 202.0,26.5 203.3,27.8 C204.6,29.1 206.4,30.6 207.7,32.2 C209.0,33.9 210.2,36.1 211.0,37.7 C211.8,39.4 212.6,40.6 212.7,42.1 C212.8,43.6 212.2,45.3 211.6,46.5 C210.9,47.7 209.9,48.4 208.8,49.3 C207.7,50.2 206.2,51.0 205.0,52.0 C203.8,53.0 202.3,54.1 201.5,55.5 C200.7,56.9 200.4,58.7 200.0,60.5 C199.6,62.3 199.6,64.3 199.0,66.5 C198.4,68.7 197.6,71.3 196.5,73.5 C195.4,75.7 193.8,77.8 192.5,79.5 C191.2,81.2 189.8,82.2 188.5,83.5 C187.2,84.8 185.4,85.8 184.5,87.5 C183.6,89.2 183.3,91.2 183.0,93.5 C182.7,95.8 182.6,99.7 182.5,101.5 C182.4,103.3 183.0,103.9 182.3,104.5 C181.6,105.1 180.1,104.9 178.5,105.0 C176.9,105.1 174.4,105.1 172.5,105.3 C170.6,105.5 168.8,105.9 167.0,105.9 C165.2,105.9 163.1,106.2 161.5,105.5 C159.9,104.8 158.4,103.1 157.7,101.5 C157.0,99.9 157.2,97.5 157.1,96.0 C157.0,94.5 157.7,93.2 157.1,92.7 C156.5,92.2 154.6,93.3 153.5,93.0 C152.4,92.7 151.5,92.1 150.5,91.0 C149.5,89.9 148.5,87.8 147.5,86.5 C146.5,85.2 145.2,84.7 144.5,83.5 C143.8,82.3 143.1,80.8 143.0,79.5 C142.9,78.2 143.3,76.9 144.0,76.0 C144.7,75.1 146.8,74.8 147.0,74.0 C147.2,73.2 146.4,71.8 145.5,71.0 C144.6,70.2 142.4,69.9 141.5,69.0 C140.6,68.1 140.2,66.5 140.0,65.5 C139.8,64.5 140.1,64.3 140.6,63.0 C141.1,61.7 142.1,59.3 142.8,57.5 C143.5,55.7 144.3,53.5 145.0,52.0 C145.7,50.5 146.1,49.6 147.2,48.7 C148.3,47.8 150.2,47.2 151.6,46.5 C153.0,45.8 154.8,45.5 155.5,44.3 C156.2,43.0 155.6,40.4 156.0,39.0 C156.4,37.6 156.9,36.4 158.0,35.7 C159.1,35.0 160.8,34.9 162.5,34.7 C164.2,34.5 166.8,34.6 168.5,34.3 C170.2,34.0 171.8,33.9 173.0,33.0 C174.2,32.1 174.6,30.6 175.5,29.0 C176.4,27.4 177.5,24.7 178.5,23.5Z" fill="#2c2cec"/><path d="M178.5,23.5 C179.5,22.3 180.2,22.5 181.5,22.0 C182.8,21.5 184.7,20.8 186.5,20.7 C188.3,20.6 190.2,20.5 192.5,21.1 C194.8,21.7 198.2,23.4 200.0,24.5 C201.8,25.6 202.0,26.5 203.3,27.8 C204.6,29.1 206.4,30.6 207.7,32.2 C209.0,33.9 210.2,36.1 211.0,37.7 C211.8,39.4 212.6,40.6 212.7,42.1 C212.8,43.6 212.2,45.3 211.6,46.5 C210.9,47.7 209.9,48.4 208.8,49.3 C207.7,50.2 206.2,51.0 205.0,52.0 C203.8,53.0 202.3,54.1 201.5,55.5 C200.7,56.9 200.4,58.7 200.0,60.5 C199.6,62.3 199.6,64.3 199.0,66.5 C198.4,68.7 197.6,71.3 196.5,73.5 C195.4,75.7 193.8,77.8 192.5,79.5 C191.2,81.2 189.8,82.2 188.5,83.5 C187.2,84.8 185.4,85.8 184.5,87.5 C183.6,89.2 183.3,91.2 183.0,93.5 C182.7,95.8 182.6,99.7 182.5,101.5 C182.4,103.3 183.0,103.9 182.3,104.5 C181.6,105.1 180.1,104.9 178.5,105.0 C176.9,105.1 174.4,105.1 172.5,105.3 C170.6,105.5 168.8,105.9 167.0,105.9 C165.2,105.9 163.1,106.2 161.5,105.5 C159.9,104.8 158.4,103.1 157.7,101.5 C157.0,99.9 157.2,97.5 157.1,96.0 C157.0,94.5 157.7,93.2 157.1,92.7 C156.5,92.2 154.6,93.3 153.5,93.0 C152.4,92.7 151.5,92.1 150.5,91.0 C149.5,89.9 148.5,87.8 147.5,86.5 C146.5,85.2 145.2,84.7 144.5,83.5 C143.8,82.3 143.1,80.8 143.0,79.5 C142.9,78.2 143.3,76.9 144.0,76.0 C144.7,75.1 146.8,74.8 147.0,74.0 C147.2,73.2 146.4,71.8 145.5,71.0 C144.6,70.2 142.4,69.9 141.5,69.0 C140.6,68.1 140.2,66.5 140.0,65.5 C139.8,64.5 140.1,64.3 140.6,63.0 C141.1,61.7 142.1,59.3 142.8,57.5 C143.5,55.7 144.3,53.5 145.0,52.0 C145.7,50.5 146.1,49.6 147.2,48.7 C148.3,47.8 150.2,47.2 151.6,46.5 C153.0,45.8 154.8,45.5 155.5,44.3 C156.2,43.0 155.6,40.4 156.0,39.0 C156.4,37.6 156.9,36.4 158.0,35.7 C159.1,35.0 160.8,34.9 162.5,34.7 C164.2,34.5 166.8,34.6 168.5,34.3 C170.2,34.0 171.8,33.9 173.0,33.0 C174.2,32.1 174.6,30.6 175.5,29.0 C176.4,27.4 177.5,24.7 178.5,23.5Z" fill="url(#spW)"/><ellipse cx="162.3" cy="28.1" rx="5.2" ry="3.0" transform="rotate(-35 162.3 28.1)" fill="#2c2cec"/><ellipse cx="162.3" cy="28.1" rx="5.2" ry="3.0" transform="rotate(-35 162.3 28.1)" fill="url(#spW)"/><ellipse cx="140.8" cy="71.8" rx="2.3" ry="1.5" transform="rotate(20 140.8 71.8)" fill="#2c2cec"/><ellipse cx="140.8" cy="71.8" rx="2.3" ry="1.5" transform="rotate(20 140.8 71.8)" fill="url(#spW)"/><ellipse cx="175.0" cy="25.7" rx="3.6" ry="1.3" transform="rotate(42 175.0 25.7)" fill="#2c2cec"/><ellipse cx="175.0" cy="25.7" rx="3.6" ry="1.3" transform="rotate(42 175.0 25.7)" fill="url(#spW)"/><ellipse cx="179.1" cy="21.2" rx="1.8" ry="0.9" transform="rotate(35 179.1 21.2)" fill="#2c2cec"/><ellipse cx="179.1" cy="21.2" rx="1.8" ry="0.9" transform="rotate(35 179.1 21.2)" fill="url(#spW)"/><ellipse cx="137.3" cy="67.4" rx="1.7" ry="1.1" transform="rotate(0 137.3 67.4)" fill="#2c2cec"/><ellipse cx="137.3" cy="67.4" rx="1.7" ry="1.1" transform="rotate(0 137.3 67.4)" fill="url(#spW)"/><ellipse cx="216.5" cy="43.8" rx="0.6" ry="0.6" transform="rotate(0 216.5 43.8)" fill="#2c2cec"/><ellipse cx="216.5" cy="43.8" rx="0.6" ry="0.6" transform="rotate(0 216.5 43.8)" fill="url(#spW)"/><path d="M172.0,31.5 C172.7,30.4 174.6,30.4 175.8,30.5 C177.0,30.6 178.7,31.6 179.3,32.4 C180.0,33.2 180.0,34.6 179.7,35.5 C179.4,36.4 178.6,37.3 177.7,38.0 C176.8,38.7 175.1,39.6 174.1,39.5 C173.1,39.4 172.0,38.6 171.7,37.3 C171.3,36.0 171.3,32.6 172.0,31.5Z" fill="#fff" fill-opacity="0.45"/><path d="M146.5,63.5 C147.1,62.8 148.8,62.2 149.5,62.5 C150.2,62.8 151.2,64.5 151.0,65.5 C150.8,66.5 149.3,68.2 148.5,68.5 C147.7,68.8 146.3,67.8 146.0,67.0 C145.7,66.2 145.9,64.2 146.5,63.5Z" fill="#fff" fill-opacity="0.75"/><path d="M151.5,77.5 C152.0,76.4 154.3,75.8 155.5,76.0 C156.7,76.2 158.3,77.3 158.5,78.5 C158.7,79.7 157.5,82.3 156.5,83.0 C155.5,83.7 153.3,83.4 152.5,82.5 C151.7,81.6 151.0,78.6 151.5,77.5Z" fill="#fff" fill-opacity="0.75"/><path d="M152.5,85.5 C152.3,84.7 154.6,83.9 155.5,84.0 C156.4,84.1 157.8,85.2 158.0,86.0 C158.2,86.8 157.4,89.1 156.5,89.0 C155.6,88.9 152.7,86.3 152.5,85.5Z" fill="#fff" fill-opacity="0.75"/><path d="M160.5,87.5 C160.7,86.8 162.7,86.2 163.5,86.5 C164.3,86.8 165.7,88.2 165.5,89.0 C165.3,89.8 163.3,91.2 162.5,91.0 C161.7,90.8 160.3,88.2 160.5,87.5Z" fill="#fff" fill-opacity="0.75"/><path d="M170.5,89.5 C170.7,88.8 172.7,88.2 173.5,88.5 C174.3,88.8 175.7,90.2 175.5,91.0 C175.3,91.8 173.3,93.2 172.5,93.0 C171.7,92.8 170.3,90.2 170.5,89.5Z" fill="#fff" fill-opacity="0.75"/><path d="M147.5,55.5 C147.8,54.8 149.8,54.2 150.5,54.5 C151.2,54.8 151.8,56.8 151.5,57.5 C151.2,58.2 149.2,59.3 148.5,59.0 C147.8,58.7 147.2,56.2 147.5,55.5Z" fill="#fff" fill-opacity="0.75"/><path d="M159.5,47.5 C159.8,46.8 161.8,46.2 162.5,46.5 C163.2,46.8 163.8,48.8 163.5,49.5 C163.2,50.2 161.2,50.8 160.5,50.5 C159.8,50.2 159.2,48.2 159.5,47.5Z" fill="#fff" fill-opacity="0.75"/><polyline points="146.5,73.0 155.7,72.1 167.3,69.4 177.3,65.2 187.3,62.5 197.3,61.7 200.7,60.0" fill="none" stroke="#fff" stroke-width="2.0" stroke-linecap="round" stroke-linejoin="round"/><polyline points="148.5,78.0 156.5,79.5 164.5,83.0 174.5,85.5 182.5,85.5 188.0,83.5" fill="none" stroke="#fff" stroke-width="2.0" stroke-linecap="round" stroke-linejoin="round"/><polyline points="166.0,106.5 170.5,105.7 175.5,105.1 181.0,104.5" fill="none" stroke="#fff" stroke-width="2.0" stroke-linecap="round" stroke-linejoin="round"/><polyline points="180.8,20.5 180.7,25.5 181.0,30.0" fill="none" stroke="#fff" stroke-width="2.0" stroke-linecap="round" stroke-linejoin="round"/><path d="M200.0,60.8 C200.2,58.8 200.5,57.0 201.1,55.5 C201.7,54.0 202.4,53.0 203.5,52.0 C204.6,51.0 206.1,50.4 207.7,49.8 C209.3,49.2 210.8,48.8 213.2,48.5 C215.6,48.2 219.8,48.1 222.0,48.2 C224.2,48.3 225.3,48.7 226.4,49.3 C227.5,49.9 227.8,50.6 228.6,52.0 C229.4,53.4 230.5,54.7 231.0,57.5 C231.5,60.3 231.6,65.7 231.7,69.0 C231.8,72.3 231.6,74.5 231.5,77.3 C231.4,80.0 231.4,81.8 231.4,85.5 C231.4,89.2 231.7,95.5 231.4,99.5 C231.1,103.5 230.5,106.9 229.7,109.2 C228.9,111.5 227.7,112.5 226.4,113.6 C225.1,114.7 224.6,115.2 222.0,115.8 C219.4,116.3 215.1,116.7 211.0,116.9 C206.9,117.1 200.2,116.9 197.3,116.9 C194.4,116.9 194.8,117.0 193.4,116.7 C192.0,116.4 190.2,116.3 189.0,115.3 C187.8,114.3 186.8,112.8 186.0,110.5 C185.2,108.2 184.7,104.2 184.5,101.5 C184.3,98.8 184.6,96.7 185.0,94.5 C185.4,92.3 186.1,90.2 187.0,88.5 C187.9,86.8 189.2,85.8 190.5,84.5 C191.8,83.2 193.2,82.2 194.5,80.5 C195.8,78.8 197.1,76.7 198.0,74.5 C198.9,72.3 199.7,69.8 200.0,67.5 C200.3,65.2 199.8,62.8 200.0,60.8Z" fill="none" stroke="#fff" stroke-width="1.8" stroke-opacity="0.85"/><path d="M200.0,60.8 C200.2,58.8 200.5,57.0 201.1,55.5 C201.7,54.0 202.4,53.0 203.5,52.0 C204.6,51.0 206.1,50.4 207.7,49.8 C209.3,49.2 210.8,48.8 213.2,48.5 C215.6,48.2 219.8,48.1 222.0,48.2 C224.2,48.3 225.3,48.7 226.4,49.3 C227.5,49.9 227.8,50.6 228.6,52.0 C229.4,53.4 230.5,54.7 231.0,57.5 C231.5,60.3 231.6,65.7 231.7,69.0 C231.8,72.3 231.6,74.5 231.5,77.3 C231.4,80.0 231.4,81.8 231.4,85.5 C231.4,89.2 231.7,95.5 231.4,99.5 C231.1,103.5 230.5,106.9 229.7,109.2 C228.9,111.5 227.7,112.5 226.4,113.6 C225.1,114.7 224.6,115.2 222.0,115.8 C219.4,116.3 215.1,116.7 211.0,116.9 C206.9,117.1 200.2,116.9 197.3,116.9 C194.4,116.9 194.8,117.0 193.4,116.7 C192.0,116.4 190.2,116.3 189.0,115.3 C187.8,114.3 186.8,112.8 186.0,110.5 C185.2,108.2 184.7,104.2 184.5,101.5 C184.3,98.8 184.6,96.7 185.0,94.5 C185.4,92.3 186.1,90.2 187.0,88.5 C187.9,86.8 189.2,85.8 190.5,84.5 C191.8,83.2 193.2,82.2 194.5,80.5 C195.8,78.8 197.1,76.7 198.0,74.5 C198.9,72.3 199.7,69.8 200.0,67.5 C200.3,65.2 199.8,62.8 200.0,60.8Z" fill="#fff"/><path d="M202.0,56.5 C202.5,55.1 203.4,54.0 204.5,53.0 C205.6,52.0 207.0,51.2 208.5,50.7 C210.0,50.2 211.2,49.9 213.5,49.7 C215.8,49.5 219.9,49.4 222.0,49.5 C224.1,49.6 225.0,49.9 226.0,50.5 C227.0,51.1 227.5,51.8 228.2,53.0 C228.9,54.2 229.9,55.6 230.3,57.5 C230.7,59.4 230.7,61.5 230.8,64.5 C230.9,67.5 231.0,72.8 230.8,75.5 C230.6,78.2 231.1,78.8 229.5,80.5 C227.9,82.2 225.1,83.6 221.5,85.5 C217.9,87.4 209.5,90.3 208.0,92.0 C206.5,93.7 210.4,95.0 212.5,95.5 C214.6,96.0 218.2,95.5 220.5,95.3 C222.8,95.1 224.6,94.6 226.0,94.5 C227.4,94.4 228.7,93.9 229.0,94.5 C229.3,95.1 228.5,96.8 228.0,98.0 C227.5,99.2 226.5,100.4 226.0,101.5 C225.5,102.6 225.5,103.3 225.0,104.5 C224.5,105.7 224.2,107.1 223.0,108.5 C221.8,109.9 220.2,111.9 218.0,113.0 C215.8,114.1 213.4,114.6 210.0,115.0 C206.6,115.4 200.2,115.4 197.3,115.3 C194.4,115.2 193.9,114.9 192.5,114.5 C191.1,114.1 189.9,114.0 189.0,113.0 C188.1,112.0 187.5,110.4 187.0,108.5 C186.5,106.6 186.1,103.8 186.0,101.5 C185.9,99.2 186.1,96.4 186.5,94.5 C186.9,92.6 187.6,91.4 188.5,90.0 C189.4,88.6 190.8,87.3 192.0,86.0 C193.2,84.7 194.8,83.7 196.0,82.0 C197.2,80.3 198.7,78.2 199.5,76.0 C200.3,73.8 200.8,70.9 201.1,68.5 C201.4,66.1 201.3,63.5 201.5,61.5 C201.7,59.5 201.5,57.9 202.0,56.5Z" fill="url(#gB)"/><path d="M202.0,56.5 C202.5,55.1 203.4,54.0 204.5,53.0 C205.6,52.0 207.0,51.2 208.5,50.7 C210.0,50.2 211.2,49.9 213.5,49.7 C215.8,49.5 219.9,49.4 222.0,49.5 C224.1,49.6 225.0,49.9 226.0,50.5 C227.0,51.1 227.5,51.8 228.2,53.0 C228.9,54.2 229.9,55.6 230.3,57.5 C230.7,59.4 230.7,61.5 230.8,64.5 C230.9,67.5 231.0,72.8 230.8,75.5 C230.6,78.2 231.1,78.8 229.5,80.5 C227.9,82.2 225.1,83.6 221.5,85.5 C217.9,87.4 209.5,90.3 208.0,92.0 C206.5,93.7 210.4,95.0 212.5,95.5 C214.6,96.0 218.2,95.5 220.5,95.3 C222.8,95.1 224.6,94.6 226.0,94.5 C227.4,94.4 228.7,93.9 229.0,94.5 C229.3,95.1 228.5,96.8 228.0,98.0 C227.5,99.2 226.5,100.4 226.0,101.5 C225.5,102.6 225.5,103.3 225.0,104.5 C224.5,105.7 224.2,107.1 223.0,108.5 C221.8,109.9 220.2,111.9 218.0,113.0 C215.8,114.1 213.4,114.6 210.0,115.0 C206.6,115.4 200.2,115.4 197.3,115.3 C194.4,115.2 193.9,114.9 192.5,114.5 C191.1,114.1 189.9,114.0 189.0,113.0 C188.1,112.0 187.5,110.4 187.0,108.5 C186.5,106.6 186.1,103.8 186.0,101.5 C185.9,99.2 186.1,96.4 186.5,94.5 C186.9,92.6 187.6,91.4 188.5,90.0 C189.4,88.6 190.8,87.3 192.0,86.0 C193.2,84.7 194.8,83.7 196.0,82.0 C197.2,80.3 198.7,78.2 199.5,76.0 C200.3,73.8 200.8,70.9 201.1,68.5 C201.4,66.1 201.3,63.5 201.5,61.5 C201.7,59.5 201.5,57.9 202.0,56.5Z" fill="url(#spW)"/><path d="M200.0,60.8 C200.2,58.8 200.5,57.0 201.1,55.5 C201.7,54.0 202.4,53.0 203.5,52.0 C204.6,51.0 206.1,50.4 207.7,49.8 C209.3,49.2 210.8,48.8 213.2,48.5 C215.6,48.2 219.8,48.1 222.0,48.2 C224.2,48.3 225.3,48.7 226.4,49.3 C227.5,49.9 227.8,50.6 228.6,52.0 C229.4,53.4 230.5,54.7 231.0,57.5 C231.5,60.3 231.6,65.7 231.7,69.0 C231.8,72.3 231.6,74.5 231.5,77.3 C231.4,80.0 231.4,81.8 231.4,85.5 C231.4,89.2 231.7,95.5 231.4,99.5 C231.1,103.5 230.5,106.9 229.7,109.2 C228.9,111.5 227.7,112.5 226.4,113.6 C225.1,114.7 224.6,115.2 222.0,115.8 C219.4,116.3 215.1,116.7 211.0,116.9 C206.9,117.1 200.2,116.9 197.3,116.9 C194.4,116.9 194.8,117.0 193.4,116.7 C192.0,116.4 190.2,116.3 189.0,115.3 C187.8,114.3 186.8,112.8 186.0,110.5 C185.2,108.2 184.7,104.2 184.5,101.5 C184.3,98.8 184.6,96.7 185.0,94.5 C185.4,92.3 186.1,90.2 187.0,88.5 C187.9,86.8 189.2,85.8 190.5,84.5 C191.8,83.2 193.2,82.2 194.5,80.5 C195.8,78.8 197.1,76.7 198.0,74.5 C198.9,72.3 199.7,69.8 200.0,67.5 C200.3,65.2 199.8,62.8 200.0,60.8Z" fill="none" stroke="#111" stroke-width="0.9" stroke-dasharray="0.9 1.2"/><path d="M165.9,107.7 C166.1,106.5 168.3,106.2 169.5,106.5 C170.7,106.8 172.2,108.5 173.0,109.5 C173.8,110.5 174.8,111.5 174.5,112.5 C174.2,113.5 172.5,115.3 171.5,115.5 C170.5,115.7 169.4,114.8 168.5,113.5 C167.6,112.2 165.7,108.9 165.9,107.7Z" fill="#58c838" fill-opacity="0.85"/><path d="M165.9,107.7 C166.1,106.5 168.3,106.2 169.5,106.5 C170.7,106.8 172.2,108.5 173.0,109.5 C173.8,110.5 174.8,111.5 174.5,112.5 C174.2,113.5 172.5,115.3 171.5,115.5 C170.5,115.7 169.4,114.8 168.5,113.5 C167.6,112.2 165.7,108.9 165.9,107.7Z" fill="url(#spW)" fill-opacity="0.45"/><path d="M169.5,113.2 C170.0,112.5 172.2,112.1 173.0,112.5 C173.8,112.9 174.2,114.7 174.0,115.5 C173.8,116.3 172.7,117.2 172.0,117.5 C171.3,117.8 170.4,117.7 170.0,117.0 C169.6,116.3 169.0,114.0 169.5,113.2Z" fill="#f04018" fill-opacity="0.95"/><path d="M169.5,113.2 C170.0,112.5 172.2,112.1 173.0,112.5 C173.8,112.9 174.2,114.7 174.0,115.5 C173.8,116.3 172.7,117.2 172.0,117.5 C171.3,117.8 170.4,117.7 170.0,117.0 C169.6,116.3 169.0,114.0 169.5,113.2Z" fill="url(#spW)" fill-opacity="0.45"/><path d="M170.5,110.5 C170.8,109.8 172.8,109.2 173.5,109.5 C174.2,109.8 174.8,111.3 174.5,112.0 C174.2,112.7 172.7,113.8 172.0,113.5 C171.3,113.2 170.2,111.2 170.5,110.5Z" fill="#e8d030" fill-opacity="0.9"/><path d="M170.5,110.5 C170.8,109.8 172.8,109.2 173.5,109.5 C174.2,109.8 174.8,111.3 174.5,112.0 C174.2,112.7 172.7,113.8 172.0,113.5 C171.3,113.2 170.2,111.2 170.5,110.5Z" fill="url(#spW)" fill-opacity="0.45"/><path d="M175.9,108.5 C176.2,107.5 178.2,107.5 179.0,108.0 C179.8,108.5 180.8,110.5 180.5,111.5 C180.2,112.5 178.3,114.5 177.5,114.0 C176.7,113.5 175.7,109.5 175.9,108.5Z" fill="#a0e0f0" fill-opacity="0.6"/><path d="M175.9,108.5 C176.2,107.5 178.2,107.5 179.0,108.0 C179.8,108.5 180.8,110.5 180.5,111.5 C180.2,112.5 178.3,114.5 177.5,114.0 C176.7,113.5 175.7,109.5 175.9,108.5Z" fill="url(#spW)" fill-opacity="0.45"/><path d="M181.5,108.5 C181.8,107.7 183.9,108.4 184.5,109.5 C185.1,110.6 185.3,114.2 185.0,115.0 C184.7,115.8 183.1,115.6 182.5,114.5 C181.9,113.4 181.2,109.3 181.5,108.5Z" fill="#2040e0" fill-opacity="0.8"/><path d="M181.5,108.5 C181.8,107.7 183.9,108.4 184.5,109.5 C185.1,110.6 185.3,114.2 185.0,115.0 C184.7,115.8 183.1,115.6 182.5,114.5 C181.9,113.4 181.2,109.3 181.5,108.5Z" fill="url(#spW)" fill-opacity="0.45"/></g></g><path d="M134.5,19.5 H232.8 V117.3" fill="none" stroke="#d4d4d4" stroke-width="0.8"/><path d="M134.5,19.5 V117.3 H232.8" fill="none" stroke="#b8b8b8" stroke-width="0.9"/><path d="M134.5,117.3h-2.4M134.5,110.3h-1.4M134.5,103.3h-1.4M134.5,96.3h-2.4M134.5,89.3h-1.4M134.5,82.3h-1.4M134.5,75.3h-2.4M134.5,68.3h-1.4M134.5,61.3h-1.4M134.5,54.3h-2.4M134.5,47.3h-1.4M134.5,40.3h-1.4M134.5,33.3h-2.4M134.5,26.3h-1.4M134.5,117.3v2.4M141.5,117.3v1.4M148.5,117.3v1.4M155.5,117.3v2.4M162.5,117.3v1.4M169.5,117.3v1.4M176.5,117.3v2.4M183.5,117.3v1.4M190.5,117.3v1.4M197.5,117.3v2.4M204.5,117.3v1.4M211.5,117.3v1.4M218.5,117.3v2.4M225.5,117.3v1.4M232.5,117.3v1.4" stroke="#555" stroke-width="0.8" fill="none"/><path d="M148.0,112.8 h13.6 M158.4,109.9 L161.8,112.8 L158.4,115.7" stroke="#222" stroke-width="1.1" fill="none"/></g><text x="134.7" y="18.9" font-size="10.6" fill="#111" stroke="#111" stroke-width="0.28">1 mol%</text><g><clipPath id="clipA2"><rect x="237.5" y="19.5" width="98.3" height="97.8"/></clipPath><g clip-path="url(#clipA2)"><g filter="url(#soft)"><path d="M281.5,23.5 C282.5,22.3 283.2,22.5 284.5,22.0 C285.8,21.5 287.7,20.8 289.5,20.7 C291.3,20.6 293.2,20.5 295.5,21.1 C297.8,21.7 301.2,23.4 303.0,24.5 C304.8,25.6 305.0,26.5 306.3,27.8 C307.6,29.1 309.4,30.6 310.7,32.2 C312.0,33.9 313.2,36.1 314.0,37.7 C314.8,39.4 315.6,40.6 315.7,42.1 C315.8,43.6 315.2,45.3 314.6,46.5 C314.0,47.7 312.9,48.4 311.8,49.3 C310.7,50.2 309.2,51.0 308.0,52.0 C306.8,53.0 305.3,54.1 304.5,55.5 C303.7,56.9 303.4,58.7 303.0,60.5 C302.6,62.3 302.6,64.3 302.0,66.5 C301.4,68.7 300.6,71.3 299.5,73.5 C298.4,75.7 296.8,77.8 295.5,79.5 C294.2,81.2 292.8,82.2 291.5,83.5 C290.2,84.8 288.4,85.8 287.5,87.5 C286.6,89.2 286.3,91.2 286.0,93.5 C285.7,95.8 285.6,99.7 285.5,101.5 C285.4,103.3 286.0,103.9 285.3,104.5 C284.6,105.1 283.1,104.9 281.5,105.0 C279.9,105.1 277.4,105.1 275.5,105.3 C273.6,105.5 271.8,105.9 270.0,105.9 C268.2,105.9 266.1,106.2 264.5,105.5 C262.9,104.8 261.4,103.1 260.7,101.5 C260.0,99.9 260.2,97.5 260.1,96.0 C260.0,94.5 260.7,93.2 260.1,92.7 C259.5,92.2 257.6,93.3 256.5,93.0 C255.4,92.7 254.5,92.1 253.5,91.0 C252.5,89.9 251.5,87.8 250.5,86.5 C249.5,85.2 248.2,84.7 247.5,83.5 C246.8,82.3 246.1,80.8 246.0,79.5 C245.9,78.2 246.3,76.9 247.0,76.0 C247.7,75.1 249.8,74.8 250.0,74.0 C250.2,73.2 249.4,71.8 248.5,71.0 C247.6,70.2 245.4,69.9 244.5,69.0 C243.6,68.1 243.2,66.5 243.0,65.5 C242.8,64.5 243.1,64.3 243.6,63.0 C244.1,61.7 245.1,59.3 245.8,57.5 C246.5,55.7 247.3,53.5 248.0,52.0 C248.7,50.5 249.1,49.6 250.2,48.7 C251.3,47.8 253.2,47.2 254.6,46.5 C256.0,45.8 257.8,45.5 258.5,44.3 C259.2,43.0 258.6,40.4 259.0,39.0 C259.4,37.6 259.9,36.4 261.0,35.7 C262.1,35.0 263.8,34.9 265.5,34.7 C267.2,34.5 269.8,34.6 271.5,34.3 C273.2,34.0 274.8,33.9 276.0,33.0 C277.2,32.1 277.6,30.6 278.5,29.0 C279.4,27.4 280.5,24.7 281.5,23.5Z" fill="#2c2cec"/><path d="M281.5,23.5 C282.5,22.3 283.2,22.5 284.5,22.0 C285.8,21.5 287.7,20.8 289.5,20.7 C291.3,20.6 293.2,20.5 295.5,21.1 C297.8,21.7 301.2,23.4 303.0,24.5 C304.8,25.6 305.0,26.5 306.3,27.8 C307.6,29.1 309.4,30.6 310.7,32.2 C312.0,33.9 313.2,36.1 314.0,37.7 C314.8,39.4 315.6,40.6 315.7,42.1 C315.8,43.6 315.2,45.3 314.6,46.5 C314.0,47.7 312.9,48.4 311.8,49.3 C310.7,50.2 309.2,51.0 308.0,52.0 C306.8,53.0 305.3,54.1 304.5,55.5 C303.7,56.9 303.4,58.7 303.0,60.5 C302.6,62.3 302.6,64.3 302.0,66.5 C301.4,68.7 300.6,71.3 299.5,73.5 C298.4,75.7 296.8,77.8 295.5,79.5 C294.2,81.2 292.8,82.2 291.5,83.5 C290.2,84.8 288.4,85.8 287.5,87.5 C286.6,89.2 286.3,91.2 286.0,93.5 C285.7,95.8 285.6,99.7 285.5,101.5 C285.4,103.3 286.0,103.9 285.3,104.5 C284.6,105.1 283.1,104.9 281.5,105.0 C279.9,105.1 277.4,105.1 275.5,105.3 C273.6,105.5 271.8,105.9 270.0,105.9 C268.2,105.9 266.1,106.2 264.5,105.5 C262.9,104.8 261.4,103.1 260.7,101.5 C260.0,99.9 260.2,97.5 260.1,96.0 C260.0,94.5 260.7,93.2 260.1,92.7 C259.5,92.2 257.6,93.3 256.5,93.0 C255.4,92.7 254.5,92.1 253.5,91.0 C252.5,89.9 251.5,87.8 250.5,86.5 C249.5,85.2 248.2,84.7 247.5,83.5 C246.8,82.3 246.1,80.8 246.0,79.5 C245.9,78.2 246.3,76.9 247.0,76.0 C247.7,75.1 249.8,74.8 250.0,74.0 C250.2,73.2 249.4,71.8 248.5,71.0 C247.6,70.2 245.4,69.9 244.5,69.0 C243.6,68.1 243.2,66.5 243.0,65.5 C242.8,64.5 243.1,64.3 243.6,63.0 C244.1,61.7 245.1,59.3 245.8,57.5 C246.5,55.7 247.3,53.5 248.0,52.0 C248.7,50.5 249.1,49.6 250.2,48.7 C251.3,47.8 253.2,47.2 254.6,46.5 C256.0,45.8 257.8,45.5 258.5,44.3 C259.2,43.0 258.6,40.4 259.0,39.0 C259.4,37.6 259.9,36.4 261.0,35.7 C262.1,35.0 263.8,34.9 265.5,34.7 C267.2,34.5 269.8,34.6 271.5,34.3 C273.2,34.0 274.8,33.9 276.0,33.0 C277.2,32.1 277.6,30.6 278.5,29.0 C279.4,27.4 280.5,24.7 281.5,23.5Z" fill="url(#spW)"/><ellipse cx="265.3" cy="28.1" rx="5.2" ry="3.0" transform="rotate(-35 265.3 28.1)" fill="#2c2cec"/><ellipse cx="265.3" cy="28.1" rx="5.2" ry="3.0" transform="rotate(-35 265.3 28.1)" fill="url(#spW)"/><ellipse cx="243.8" cy="71.8" rx="2.3" ry="1.5" transform="rotate(20 243.8 71.8)" fill="#2c2cec"/><ellipse cx="243.8" cy="71.8" rx="2.3" ry="1.5" transform="rotate(20 243.8 71.8)" fill="url(#spW)"/><ellipse cx="278.0" cy="25.7" rx="3.6" ry="1.3" transform="rotate(42 278.0 25.7)" fill="#2c2cec"/><ellipse cx="278.0" cy="25.7" rx="3.6" ry="1.3" transform="rotate(42 278.0 25.7)" fill="url(#spW)"/><ellipse cx="282.1" cy="21.2" rx="1.8" ry="0.9" transform="rotate(35 282.1 21.2)" fill="#2c2cec"/><ellipse cx="282.1" cy="21.2" rx="1.8" ry="0.9" transform="rotate(35 282.1 21.2)" fill="url(#spW)"/><ellipse cx="240.3" cy="67.4" rx="1.7" ry="1.1" transform="rotate(0 240.3 67.4)" fill="#2c2cec"/><ellipse cx="240.3" cy="67.4" rx="1.7" ry="1.1" transform="rotate(0 240.3 67.4)" fill="url(#spW)"/><ellipse cx="319.5" cy="43.8" rx="0.6" ry="0.6" transform="rotate(0 319.5 43.8)" fill="#2c2cec"/><ellipse cx="319.5" cy="43.8" rx="0.6" ry="0.6" transform="rotate(0 319.5 43.8)" fill="url(#spW)"/><path d="M275.0,31.5 C275.7,30.4 277.6,30.4 278.8,30.5 C280.0,30.6 281.7,31.6 282.3,32.4 C282.9,33.2 283.0,34.6 282.7,35.5 C282.4,36.4 281.6,37.3 280.7,38.0 C279.8,38.7 278.1,39.6 277.1,39.5 C276.1,39.4 275.1,38.6 274.7,37.3 C274.3,36.0 274.3,32.6 275.0,31.5Z" fill="#fff" fill-opacity="0.45"/><path d="M249.5,63.5 C250.1,62.8 251.8,62.2 252.5,62.5 C253.2,62.8 254.2,64.5 254.0,65.5 C253.8,66.5 252.3,68.2 251.5,68.5 C250.7,68.8 249.3,67.8 249.0,67.0 C248.7,66.2 248.9,64.2 249.5,63.5Z" fill="#fff" fill-opacity="0.75"/><path d="M254.5,77.5 C255.0,76.4 257.3,75.8 258.5,76.0 C259.7,76.2 261.3,77.3 261.5,78.5 C261.7,79.7 260.5,82.3 259.5,83.0 C258.5,83.7 256.3,83.4 255.5,82.5 C254.7,81.6 254.0,78.6 254.5,77.5Z" fill="#fff" fill-opacity="0.75"/><path d="M255.5,85.5 C255.3,84.7 257.6,83.9 258.5,84.0 C259.4,84.1 260.8,85.2 261.0,86.0 C261.2,86.8 260.4,89.1 259.5,89.0 C258.6,88.9 255.7,86.3 255.5,85.5Z" fill="#fff" fill-opacity="0.75"/><path d="M263.5,87.5 C263.7,86.8 265.7,86.2 266.5,86.5 C267.3,86.8 268.7,88.2 268.5,89.0 C268.3,89.8 266.3,91.2 265.5,91.0 C264.7,90.8 263.3,88.2 263.5,87.5Z" fill="#fff" fill-opacity="0.75"/><path d="M273.5,89.5 C273.7,88.8 275.7,88.2 276.5,88.5 C277.3,88.8 278.7,90.2 278.5,91.0 C278.3,91.8 276.3,93.2 275.5,93.0 C274.7,92.8 273.3,90.2 273.5,89.5Z" fill="#fff" fill-opacity="0.75"/><path d="M250.5,55.5 C250.8,54.8 252.8,54.2 253.5,54.5 C254.2,54.8 254.8,56.8 254.5,57.5 C254.2,58.2 252.2,59.3 251.5,59.0 C250.8,58.7 250.2,56.2 250.5,55.5Z" fill="#fff" fill-opacity="0.75"/><path d="M262.5,47.5 C262.8,46.8 264.8,46.2 265.5,46.5 C266.2,46.8 266.8,48.8 266.5,49.5 C266.2,50.2 264.2,50.8 263.5,50.5 C262.8,50.2 262.2,48.2 262.5,47.5Z" fill="#fff" fill-opacity="0.75"/><polyline points="249.5,73.0 258.7,72.1 270.3,69.4 280.3,65.2 290.3,62.5 300.3,61.7 303.7,60.0" fill="none" stroke="#fff" stroke-width="2.0" stroke-linecap="round" stroke-linejoin="round"/><polyline points="251.5,78.0 259.5,79.5 267.5,83.0 277.5,85.5 285.5,85.5 291.0,83.5" fill="none" stroke="#fff" stroke-width="2.0" stroke-linecap="round" stroke-linejoin="round"/><polyline points="269.0,106.5 273.5,105.7 278.5,105.1 284.0,104.5" fill="none" stroke="#fff" stroke-width="2.0" stroke-linecap="round" stroke-linejoin="round"/><polyline points="283.8,20.5 283.7,25.5 284.0,30.0" fill="none" stroke="#fff" stroke-width="2.0" stroke-linecap="round" stroke-linejoin="round"/><path d="M303.0,60.8 C303.2,58.8 303.5,57.0 304.1,55.5 C304.7,54.0 305.4,53.0 306.5,52.0 C307.6,51.0 309.1,50.4 310.7,49.8 C312.3,49.2 313.8,48.8 316.2,48.5 C318.6,48.2 322.8,48.1 325.0,48.2 C327.2,48.3 328.3,48.7 329.4,49.3 C330.5,49.9 330.8,50.6 331.6,52.0 C332.4,53.4 333.5,54.7 334.0,57.5 C334.5,60.3 334.6,65.7 334.7,69.0 C334.8,72.3 334.6,74.5 334.5,77.3 C334.4,80.0 334.4,81.8 334.4,85.5 C334.4,89.2 334.7,95.5 334.4,99.5 C334.1,103.5 333.5,106.9 332.7,109.2 C331.9,111.5 330.7,112.5 329.4,113.6 C328.1,114.7 327.6,115.2 325.0,115.8 C322.4,116.3 318.1,116.7 314.0,116.9 C309.9,117.1 303.2,116.9 300.3,116.9 C297.4,116.9 297.8,117.0 296.4,116.7 C295.0,116.4 293.2,116.3 292.0,115.3 C290.8,114.3 289.8,112.8 289.0,110.5 C288.2,108.2 287.7,104.2 287.5,101.5 C287.3,98.8 287.6,96.7 288.0,94.5 C288.4,92.3 289.1,90.2 290.0,88.5 C290.9,86.8 292.2,85.8 293.5,84.5 C294.8,83.2 296.2,82.2 297.5,80.5 C298.8,78.8 300.1,76.7 301.0,74.5 C301.9,72.3 302.7,69.8 303.0,67.5 C303.3,65.2 302.8,62.8 303.0,60.8Z" fill="none" stroke="#fff" stroke-width="1.8" stroke-opacity="0.85"/><path d="M303.0,60.8 C303.2,58.8 303.5,57.0 304.1,55.5 C304.7,54.0 305.4,53.0 306.5,52.0 C307.6,51.0 309.1,50.4 310.7,49.8 C312.3,49.2 313.8,48.8 316.2,48.5 C318.6,48.2 322.8,48.1 325.0,48.2 C327.2,48.3 328.3,48.7 329.4,49.3 C330.5,49.9 330.8,50.6 331.6,52.0 C332.4,53.4 333.5,54.7 334.0,57.5 C334.5,60.3 334.6,65.7 334.7,69.0 C334.8,72.3 334.6,74.5 334.5,77.3 C334.4,80.0 334.4,81.8 334.4,85.5 C334.4,89.2 334.7,95.5 334.4,99.5 C334.1,103.5 333.5,106.9 332.7,109.2 C331.9,111.5 330.7,112.5 329.4,113.6 C328.1,114.7 327.6,115.2 325.0,115.8 C322.4,116.3 318.1,116.7 314.0,116.9 C309.9,117.1 303.2,116.9 300.3,116.9 C297.4,116.9 297.8,117.0 296.4,116.7 C295.0,116.4 293.2,116.3 292.0,115.3 C290.8,114.3 289.8,112.8 289.0,110.5 C288.2,108.2 287.7,104.2 287.5,101.5 C287.3,98.8 287.6,96.7 288.0,94.5 C288.4,92.3 289.1,90.2 290.0,88.5 C290.9,86.8 292.2,85.8 293.5,84.5 C294.8,83.2 296.2,82.2 297.5,80.5 C298.8,78.8 300.1,76.7 301.0,74.5 C301.9,72.3 302.7,69.8 303.0,67.5 C303.3,65.2 302.8,62.8 303.0,60.8Z" fill="#fff"/><path d="M305.0,56.5 C305.5,55.1 306.4,54.0 307.5,53.0 C308.6,52.0 310.0,51.2 311.5,50.7 C313.0,50.2 314.2,49.9 316.5,49.7 C318.8,49.5 322.9,49.4 325.0,49.5 C327.1,49.6 328.0,49.9 329.0,50.5 C330.0,51.1 330.5,51.8 331.2,53.0 C331.9,54.2 332.9,55.6 333.3,57.5 C333.7,59.4 333.7,61.5 333.8,64.5 C333.9,67.5 334.0,72.8 333.8,75.5 C333.6,78.2 334.1,78.8 332.5,80.5 C330.9,82.2 328.1,83.6 324.5,85.5 C320.9,87.4 312.5,90.3 311.0,92.0 C309.5,93.7 313.4,95.0 315.5,95.5 C317.6,96.0 321.2,95.5 323.5,95.3 C325.8,95.1 327.6,94.6 329.0,94.5 C330.4,94.4 331.7,93.9 332.0,94.5 C332.3,95.1 331.5,96.8 331.0,98.0 C330.5,99.2 329.5,100.4 329.0,101.5 C328.5,102.6 328.5,103.3 328.0,104.5 C327.5,105.7 327.2,107.1 326.0,108.5 C324.8,109.9 323.2,111.9 321.0,113.0 C318.8,114.1 316.4,114.6 313.0,115.0 C309.6,115.4 303.2,115.4 300.3,115.3 C297.4,115.2 296.9,114.9 295.5,114.5 C294.1,114.1 292.9,114.0 292.0,113.0 C291.1,112.0 290.5,110.4 290.0,108.5 C289.5,106.6 289.1,103.8 289.0,101.5 C288.9,99.2 289.1,96.4 289.5,94.5 C289.9,92.6 290.6,91.4 291.5,90.0 C292.4,88.6 293.8,87.3 295.0,86.0 C296.2,84.7 297.8,83.7 299.0,82.0 C300.2,80.3 301.6,78.2 302.5,76.0 C303.4,73.8 303.8,70.9 304.1,68.5 C304.4,66.1 304.4,63.5 304.5,61.5 C304.6,59.5 304.5,57.9 305.0,56.5Z" fill="url(#gL)"/><path d="M305.0,56.5 C305.5,55.1 306.4,54.0 307.5,53.0 C308.6,52.0 310.0,51.2 311.5,50.7 C313.0,50.2 314.2,49.9 316.5,49.7 C318.8,49.5 322.9,49.4 325.0,49.5 C327.1,49.6 328.0,49.9 329.0,50.5 C330.0,51.1 330.5,51.8 331.2,53.0 C331.9,54.2 332.9,55.6 333.3,57.5 C333.7,59.4 333.7,61.5 333.8,64.5 C333.9,67.5 334.0,72.8 333.8,75.5 C333.6,78.2 334.1,78.8 332.5,80.5 C330.9,82.2 328.1,83.6 324.5,85.5 C320.9,87.4 312.5,90.3 311.0,92.0 C309.5,93.7 313.4,95.0 315.5,95.5 C317.6,96.0 321.2,95.5 323.5,95.3 C325.8,95.1 327.6,94.6 329.0,94.5 C330.4,94.4 331.7,93.9 332.0,94.5 C332.3,95.1 331.5,96.8 331.0,98.0 C330.5,99.2 329.5,100.4 329.0,101.5 C328.5,102.6 328.5,103.3 328.0,104.5 C327.5,105.7 327.2,107.1 326.0,108.5 C324.8,109.9 323.2,111.9 321.0,113.0 C318.8,114.1 316.4,114.6 313.0,115.0 C309.6,115.4 303.2,115.4 300.3,115.3 C297.4,115.2 296.9,114.9 295.5,114.5 C294.1,114.1 292.9,114.0 292.0,113.0 C291.1,112.0 290.5,110.4 290.0,108.5 C289.5,106.6 289.1,103.8 289.0,101.5 C288.9,99.2 289.1,96.4 289.5,94.5 C289.9,92.6 290.6,91.4 291.5,90.0 C292.4,88.6 293.8,87.3 295.0,86.0 C296.2,84.7 297.8,83.7 299.0,82.0 C300.2,80.3 301.6,78.2 302.5,76.0 C303.4,73.8 303.8,70.9 304.1,68.5 C304.4,66.1 304.4,63.5 304.5,61.5 C304.6,59.5 304.5,57.9 305.0,56.5Z" fill="url(#spL)"/><path d="M303.0,60.8 C303.2,58.8 303.5,57.0 304.1,55.5 C304.7,54.0 305.4,53.0 306.5,52.0 C307.6,51.0 309.1,50.4 310.7,49.8 C312.3,49.2 313.8,48.8 316.2,48.5 C318.6,48.2 322.8,48.1 325.0,48.2 C327.2,48.3 328.3,48.7 329.4,49.3 C330.5,49.9 330.8,50.6 331.6,52.0 C332.4,53.4 333.5,54.7 334.0,57.5 C334.5,60.3 334.6,65.7 334.7,69.0 C334.8,72.3 334.6,74.5 334.5,77.3 C334.4,80.0 334.4,81.8 334.4,85.5 C334.4,89.2 334.7,95.5 334.4,99.5 C334.1,103.5 333.5,106.9 332.7,109.2 C331.9,111.5 330.7,112.5 329.4,113.6 C328.1,114.7 327.6,115.2 325.0,115.8 C322.4,116.3 318.1,116.7 314.0,116.9 C309.9,117.1 303.2,116.9 300.3,116.9 C297.4,116.9 297.8,117.0 296.4,116.7 C295.0,116.4 293.2,116.3 292.0,115.3 C290.8,114.3 289.8,112.8 289.0,110.5 C288.2,108.2 287.7,104.2 287.5,101.5 C287.3,98.8 287.6,96.7 288.0,94.5 C288.4,92.3 289.1,90.2 290.0,88.5 C290.9,86.8 292.2,85.8 293.5,84.5 C294.8,83.2 296.2,82.2 297.5,80.5 C298.8,78.8 300.1,76.7 301.0,74.5 C301.9,72.3 302.7,69.8 303.0,67.5 C303.3,65.2 302.8,62.8 303.0,60.8Z" fill="none" stroke="#111" stroke-width="0.9" stroke-dasharray="0.9 1.2"/><path d="M269.2,107.5 C269.1,106.8 271.9,106.7 273.0,107.0 C274.1,107.3 275.4,108.8 275.5,109.5 C275.6,110.2 274.6,111.8 273.5,111.5 C272.4,111.2 269.3,108.2 269.2,107.5Z" fill="#e8a040" fill-opacity="0.85"/><path d="M269.2,107.5 C269.1,106.8 271.9,106.7 273.0,107.0 C274.1,107.3 275.4,108.8 275.5,109.5 C275.6,110.2 274.6,111.8 273.5,111.5 C272.4,111.2 269.3,108.2 269.2,107.5Z" fill="url(#spW)" fill-opacity="0.45"/><path d="M272.0,111.5 C272.3,110.2 274.7,109.1 276.0,109.0 C277.3,108.9 279.6,109.8 280.0,111.0 C280.4,112.2 279.5,115.0 278.5,116.0 C277.5,117.0 275.1,117.8 274.0,117.1 C272.9,116.3 271.7,112.8 272.0,111.5Z" fill="#f05020" fill-opacity="0.9"/><path d="M272.0,111.5 C272.3,110.2 274.7,109.1 276.0,109.0 C277.3,108.9 279.6,109.8 280.0,111.0 C280.4,112.2 279.5,115.0 278.5,116.0 C277.5,117.0 275.1,117.8 274.0,117.1 C272.9,116.3 271.7,112.8 272.0,111.5Z" fill="url(#spW)" fill-opacity="0.45"/><path d="M274.2,105.5 C274.9,104.7 279.4,103.2 281.5,103.5 C283.6,103.8 286.2,106.3 286.5,107.5 C286.8,108.7 285.0,110.3 283.5,110.5 C282.0,110.7 279.1,109.3 277.5,108.5 C275.9,107.7 273.5,106.3 274.2,105.5Z" fill="#70a0e8" fill-opacity="0.6"/><path d="M274.2,105.5 C274.9,104.7 279.4,103.2 281.5,103.5 C283.6,103.8 286.2,106.3 286.5,107.5 C286.8,108.7 285.0,110.3 283.5,110.5 C282.0,110.7 279.1,109.3 277.5,108.5 C275.9,107.7 273.5,106.3 274.2,105.5Z" fill="url(#spW)" fill-opacity="0.45"/><path d="M285.0,110.0 C285.4,109.2 287.4,109.4 287.9,110.3 C288.3,111.2 288.1,114.7 287.7,115.5 C287.3,116.3 285.8,115.9 285.3,115.0 C284.9,114.1 284.6,110.8 285.0,110.0Z" fill="#108080" fill-opacity="0.9"/><path d="M285.0,110.0 C285.4,109.2 287.4,109.4 287.9,110.3 C288.3,111.2 288.1,114.7 287.7,115.5 C287.3,116.3 285.8,115.9 285.3,115.0 C284.9,114.1 284.6,110.8 285.0,110.0Z" fill="url(#spW)" fill-opacity="0.45"/></g></g><path d="M237.5,19.5 H335.8 V117.3" fill="none" stroke="#d4d4d4" stroke-width="0.8"/><path d="M237.5,19.5 V117.3 H335.8" fill="none" stroke="#b8b8b8" stroke-width="0.9"/><path d="M237.5,117.3h-2.4M237.5,110.3h-1.4M237.5,103.3h-1.4M237.5,96.3h-2.4M237.5,89.3h-1.4M237.5,82.3h-1.4M237.5,75.3h-2.4M237.5,68.3h-1.4M237.5,61.3h-1.4M237.5,54.3h-2.4M237.5,47.3h-1.4M237.5,40.3h-1.4M237.5,33.3h-2.4M237.5,26.3h-1.4M237.5,117.3v2.4M244.5,117.3v1.4M251.5,117.3v1.4M258.5,117.3v2.4M265.5,117.3v1.4M272.5,117.3v1.4M279.5,117.3v2.4M286.5,117.3v1.4M293.5,117.3v1.4M300.5,117.3v2.4M307.5,117.3v1.4M314.5,117.3v1.4M321.5,117.3v2.4M328.5,117.3v1.4M335.5,117.3v1.4" stroke="#555" stroke-width="0.8" fill="none"/><path d="M252.5,112.8 h13.6 M262.9,109.9 L266.3,112.8 L262.9,115.7" stroke="#222" stroke-width="1.1" fill="none"/></g><text x="237.7" y="18.9" font-size="10.6" fill="#111" stroke="#111" stroke-width="0.28">3 mol%</text><g><clipPath id="clipA3"><rect x="341.4" y="19.5" width="98.3" height="97.8"/></clipPath><g clip-path="url(#clipA3)"><g filter="url(#soft)"><path d="M385.4,23.5 C386.4,22.3 387.1,22.5 388.4,22.0 C389.7,21.5 391.6,20.8 393.4,20.7 C395.2,20.6 397.1,20.5 399.4,21.1 C401.6,21.7 405.1,23.4 406.9,24.5 C408.7,25.6 408.9,26.5 410.2,27.8 C411.5,29.1 413.3,30.6 414.6,32.2 C415.9,33.9 417.1,36.1 417.9,37.7 C418.7,39.4 419.5,40.6 419.6,42.1 C419.7,43.6 419.1,45.3 418.5,46.5 C417.9,47.7 416.8,48.4 415.7,49.3 C414.6,50.2 413.1,51.0 411.9,52.0 C410.7,53.0 409.2,54.1 408.4,55.5 C407.6,56.9 407.3,58.7 406.9,60.5 C406.5,62.3 406.5,64.3 405.9,66.5 C405.3,68.7 404.5,71.3 403.4,73.5 C402.3,75.7 400.7,77.8 399.4,79.5 C398.1,81.2 396.7,82.2 395.4,83.5 C394.1,84.8 392.3,85.8 391.4,87.5 C390.5,89.2 390.2,91.2 389.9,93.5 C389.6,95.8 389.5,99.7 389.4,101.5 C389.3,103.3 389.9,103.9 389.2,104.5 C388.5,105.1 387.0,104.9 385.4,105.0 C383.8,105.1 381.3,105.1 379.4,105.3 C377.5,105.5 375.7,105.9 373.9,105.9 C372.1,105.9 369.9,106.2 368.4,105.5 C366.8,104.8 365.3,103.1 364.6,101.5 C363.9,99.9 364.1,97.5 364.0,96.0 C363.9,94.5 364.6,93.2 364.0,92.7 C363.4,92.2 361.5,93.3 360.4,93.0 C359.3,92.7 358.4,92.1 357.4,91.0 C356.4,89.9 355.4,87.8 354.4,86.5 C353.4,85.2 352.1,84.7 351.4,83.5 C350.6,82.3 350.0,80.8 349.9,79.5 C349.8,78.2 350.2,76.9 350.9,76.0 C351.6,75.1 353.6,74.8 353.9,74.0 C354.1,73.2 353.3,71.8 352.4,71.0 C351.5,70.2 349.3,69.9 348.4,69.0 C347.5,68.1 347.0,66.5 346.9,65.5 C346.8,64.5 347.0,64.3 347.5,63.0 C348.0,61.7 349.0,59.3 349.7,57.5 C350.4,55.7 351.2,53.5 351.9,52.0 C352.6,50.5 353.0,49.6 354.1,48.7 C355.2,47.8 357.1,47.2 358.5,46.5 C359.9,45.8 361.7,45.5 362.4,44.3 C363.1,43.0 362.5,40.4 362.9,39.0 C363.3,37.6 363.8,36.4 364.9,35.7 C366.0,35.0 367.6,34.9 369.4,34.7 C371.1,34.5 373.6,34.6 375.4,34.3 C377.1,34.0 378.7,33.9 379.9,33.0 C381.1,32.1 381.5,30.6 382.4,29.0 C383.3,27.4 384.4,24.7 385.4,23.5Z" fill="#2c2cec"/><path d="M385.4,23.5 C386.4,22.3 387.1,22.5 388.4,22.0 C389.7,21.5 391.6,20.8 393.4,20.7 C395.2,20.6 397.1,20.5 399.4,21.1 C401.6,21.7 405.1,23.4 406.9,24.5 C408.7,25.6 408.9,26.5 410.2,27.8 C411.5,29.1 413.3,30.6 414.6,32.2 C415.9,33.9 417.1,36.1 417.9,37.7 C418.7,39.4 419.5,40.6 419.6,42.1 C419.7,43.6 419.1,45.3 418.5,46.5 C417.9,47.7 416.8,48.4 415.7,49.3 C414.6,50.2 413.1,51.0 411.9,52.0 C410.7,53.0 409.2,54.1 408.4,55.5 C407.6,56.9 407.3,58.7 406.9,60.5 C406.5,62.3 406.5,64.3 405.9,66.5 C405.3,68.7 404.5,71.3 403.4,73.5 C402.3,75.7 400.7,77.8 399.4,79.5 C398.1,81.2 396.7,82.2 395.4,83.5 C394.1,84.8 392.3,85.8 391.4,87.5 C390.5,89.2 390.2,91.2 389.9,93.5 C389.6,95.8 389.5,99.7 389.4,101.5 C389.3,103.3 389.9,103.9 389.2,104.5 C388.5,105.1 387.0,104.9 385.4,105.0 C383.8,105.1 381.3,105.1 379.4,105.3 C377.5,105.5 375.7,105.9 373.9,105.9 C372.1,105.9 369.9,106.2 368.4,105.5 C366.8,104.8 365.3,103.1 364.6,101.5 C363.9,99.9 364.1,97.5 364.0,96.0 C363.9,94.5 364.6,93.2 364.0,92.7 C363.4,92.2 361.5,93.3 360.4,93.0 C359.3,92.7 358.4,92.1 357.4,91.0 C356.4,89.9 355.4,87.8 354.4,86.5 C353.4,85.2 352.1,84.7 351.4,83.5 C350.6,82.3 350.0,80.8 349.9,79.5 C349.8,78.2 350.2,76.9 350.9,76.0 C351.6,75.1 353.6,74.8 353.9,74.0 C354.1,73.2 353.3,71.8 352.4,71.0 C351.5,70.2 349.3,69.9 348.4,69.0 C347.5,68.1 347.0,66.5 346.9,65.5 C346.8,64.5 347.0,64.3 347.5,63.0 C348.0,61.7 349.0,59.3 349.7,57.5 C350.4,55.7 351.2,53.5 351.9,52.0 C352.6,50.5 353.0,49.6 354.1,48.7 C355.2,47.8 357.1,47.2 358.5,46.5 C359.9,45.8 361.7,45.5 362.4,44.3 C363.1,43.0 362.5,40.4 362.9,39.0 C363.3,37.6 363.8,36.4 364.9,35.7 C366.0,35.0 367.6,34.9 369.4,34.7 C371.1,34.5 373.6,34.6 375.4,34.3 C377.1,34.0 378.7,33.9 379.9,33.0 C381.1,32.1 381.5,30.6 382.4,29.0 C383.3,27.4 384.4,24.7 385.4,23.5Z" fill="url(#spW)"/><ellipse cx="369.2" cy="28.1" rx="5.2" ry="3.0" transform="rotate(-35 369.2 28.1)" fill="#2c2cec"/><ellipse cx="369.2" cy="28.1" rx="5.2" ry="3.0" transform="rotate(-35 369.2 28.1)" fill="url(#spW)"/><ellipse cx="347.7" cy="71.8" rx="2.3" ry="1.5" transform="rotate(20 347.7 71.8)" fill="#2c2cec"/><ellipse cx="347.7" cy="71.8" rx="2.3" ry="1.5" transform="rotate(20 347.7 71.8)" fill="url(#spW)"/><ellipse cx="381.9" cy="25.7" rx="3.6" ry="1.3" transform="rotate(42 381.9 25.7)" fill="#2c2cec"/><ellipse cx="381.9" cy="25.7" rx="3.6" ry="1.3" transform="rotate(42 381.9 25.7)" fill="url(#spW)"/><ellipse cx="386.0" cy="21.2" rx="1.8" ry="0.9" transform="rotate(35 386.0 21.2)" fill="#2c2cec"/><ellipse cx="386.0" cy="21.2" rx="1.8" ry="0.9" transform="rotate(35 386.0 21.2)" fill="url(#spW)"/><ellipse cx="344.2" cy="67.4" rx="1.7" ry="1.1" transform="rotate(0 344.2 67.4)" fill="#2c2cec"/><ellipse cx="344.2" cy="67.4" rx="1.7" ry="1.1" transform="rotate(0 344.2 67.4)" fill="url(#spW)"/><ellipse cx="423.4" cy="43.8" rx="0.6" ry="0.6" transform="rotate(0 423.4 43.8)" fill="#2c2cec"/><ellipse cx="423.4" cy="43.8" rx="0.6" ry="0.6" transform="rotate(0 423.4 43.8)" fill="url(#spW)"/><path d="M378.9,31.5 C379.6,30.4 381.5,30.4 382.7,30.5 C383.9,30.6 385.6,31.6 386.2,32.4 C386.8,33.2 386.9,34.6 386.6,35.5 C386.3,36.4 385.5,37.3 384.6,38.0 C383.7,38.7 382.0,39.6 381.0,39.5 C380.0,39.4 378.9,38.6 378.6,37.3 C378.2,36.0 378.2,32.6 378.9,31.5Z" fill="#fff" fill-opacity="0.45"/><path d="M353.4,63.5 C354.0,62.8 355.6,62.2 356.4,62.5 C357.1,62.8 358.1,64.5 357.9,65.5 C357.7,66.5 356.2,68.2 355.4,68.5 C354.6,68.8 353.2,67.8 352.9,67.0 C352.6,66.2 352.8,64.2 353.4,63.5Z" fill="#fff" fill-opacity="0.75"/><path d="M358.4,77.5 C358.9,76.4 361.2,75.8 362.4,76.0 C363.6,76.2 365.2,77.3 365.4,78.5 C365.6,79.7 364.4,82.3 363.4,83.0 C362.4,83.7 360.2,83.4 359.4,82.5 C358.6,81.6 357.9,78.6 358.4,77.5Z" fill="#fff" fill-opacity="0.75"/><path d="M359.4,85.5 C359.2,84.7 361.5,83.9 362.4,84.0 C363.3,84.1 364.7,85.2 364.9,86.0 C365.1,86.8 364.3,89.1 363.4,89.0 C362.5,88.9 359.6,86.3 359.4,85.5Z" fill="#fff" fill-opacity="0.75"/><path d="M367.4,87.5 C367.6,86.8 369.6,86.2 370.4,86.5 C371.2,86.8 372.6,88.2 372.4,89.0 C372.2,89.8 370.2,91.2 369.4,91.0 C368.6,90.8 367.2,88.2 367.4,87.5Z" fill="#fff" fill-opacity="0.75"/><path d="M377.4,89.5 C377.6,88.8 379.6,88.2 380.4,88.5 C381.2,88.8 382.6,90.2 382.4,91.0 C382.2,91.8 380.2,93.2 379.4,93.0 C378.6,92.8 377.2,90.2 377.4,89.5Z" fill="#fff" fill-opacity="0.75"/><path d="M354.4,55.5 C354.7,54.8 356.7,54.2 357.4,54.5 C358.1,54.8 358.7,56.8 358.4,57.5 C358.1,58.2 356.1,59.3 355.4,59.0 C354.7,58.7 354.1,56.2 354.4,55.5Z" fill="#fff" fill-opacity="0.75"/><path d="M366.4,47.5 C366.7,46.8 368.7,46.2 369.4,46.5 C370.1,46.8 370.7,48.8 370.4,49.5 C370.1,50.2 368.1,50.8 367.4,50.5 C366.7,50.2 366.1,48.2 366.4,47.5Z" fill="#fff" fill-opacity="0.75"/><polyline points="353.4,73.0 362.6,72.1 374.2,69.4 384.2,65.2 394.2,62.5 404.2,61.7 407.6,60.0" fill="none" stroke="#fff" stroke-width="2.0" stroke-linecap="round" stroke-linejoin="round"/><polyline points="355.4,78.0 363.4,79.5 371.4,83.0 381.4,85.5 389.4,85.5 394.9,83.5" fill="none" stroke="#fff" stroke-width="2.0" stroke-linecap="round" stroke-linejoin="round"/><polyline points="372.9,106.5 377.4,105.7 382.4,105.1 387.9,104.5" fill="none" stroke="#fff" stroke-width="2.0" stroke-linecap="round" stroke-linejoin="round"/><polyline points="387.7,20.5 387.6,25.5 387.9,30.0" fill="none" stroke="#fff" stroke-width="2.0" stroke-linecap="round" stroke-linejoin="round"/><path d="M406.9,60.8 C407.1,58.8 407.4,57.0 408.0,55.5 C408.6,54.0 409.3,53.0 410.4,52.0 C411.5,51.0 413.0,50.4 414.6,49.8 C416.2,49.2 417.7,48.8 420.1,48.5 C422.5,48.2 426.7,48.1 428.9,48.2 C431.1,48.3 432.2,48.7 433.3,49.3 C434.4,49.9 434.7,50.6 435.5,52.0 C436.3,53.4 437.4,54.7 437.9,57.5 C438.4,60.3 438.5,65.7 438.6,69.0 C438.7,72.3 438.4,74.5 438.4,77.3 C438.3,80.0 438.3,81.8 438.3,85.5 C438.3,89.2 438.6,95.5 438.3,99.5 C438.0,103.5 437.4,106.9 436.6,109.2 C435.8,111.5 434.6,112.5 433.3,113.6 C432.0,114.7 431.5,115.2 428.9,115.8 C426.3,116.3 422.0,116.7 417.9,116.9 C413.8,117.1 407.1,116.9 404.2,116.9 C401.3,116.9 401.7,117.0 400.3,116.7 C398.9,116.4 397.1,116.3 395.9,115.3 C394.7,114.3 393.6,112.8 392.9,110.5 C392.1,108.2 391.6,104.2 391.4,101.5 C391.2,98.8 391.5,96.7 391.9,94.5 C392.3,92.3 393.0,90.2 393.9,88.5 C394.8,86.8 396.1,85.8 397.4,84.5 C398.6,83.2 400.1,82.2 401.4,80.5 C402.6,78.8 404.0,76.7 404.9,74.5 C405.8,72.3 406.6,69.8 406.9,67.5 C407.2,65.2 406.7,62.8 406.9,60.8Z" fill="none" stroke="#fff" stroke-width="1.8" stroke-opacity="0.85"/><path d="M406.9,60.8 C407.1,58.8 407.4,57.0 408.0,55.5 C408.6,54.0 409.3,53.0 410.4,52.0 C411.5,51.0 413.0,50.4 414.6,49.8 C416.2,49.2 417.7,48.8 420.1,48.5 C422.5,48.2 426.7,48.1 428.9,48.2 C431.1,48.3 432.2,48.7 433.3,49.3 C434.4,49.9 434.7,50.6 435.5,52.0 C436.3,53.4 437.4,54.7 437.9,57.5 C438.4,60.3 438.5,65.7 438.6,69.0 C438.7,72.3 438.4,74.5 438.4,77.3 C438.3,80.0 438.3,81.8 438.3,85.5 C438.3,89.2 438.6,95.5 438.3,99.5 C438.0,103.5 437.4,106.9 436.6,109.2 C435.8,111.5 434.6,112.5 433.3,113.6 C432.0,114.7 431.5,115.2 428.9,115.8 C426.3,116.3 422.0,116.7 417.9,116.9 C413.8,117.1 407.1,116.9 404.2,116.9 C401.3,116.9 401.7,117.0 400.3,116.7 C398.9,116.4 397.1,116.3 395.9,115.3 C394.7,114.3 393.6,112.8 392.9,110.5 C392.1,108.2 391.6,104.2 391.4,101.5 C391.2,98.8 391.5,96.7 391.9,94.5 C392.3,92.3 393.0,90.2 393.9,88.5 C394.8,86.8 396.1,85.8 397.4,84.5 C398.6,83.2 400.1,82.2 401.4,80.5 C402.6,78.8 404.0,76.7 404.9,74.5 C405.8,72.3 406.6,69.8 406.9,67.5 C407.2,65.2 406.7,62.8 406.9,60.8Z" fill="#fff"/><path d="M408.9,56.5 C409.4,55.1 410.3,54.0 411.4,53.0 C412.5,52.0 413.9,51.2 415.4,50.7 C416.9,50.2 418.1,49.9 420.4,49.7 C422.6,49.5 426.8,49.4 428.9,49.5 C431.0,49.6 431.9,49.9 432.9,50.5 C433.9,51.1 434.4,51.8 435.1,53.0 C435.8,54.2 436.8,55.6 437.2,57.5 C437.6,59.4 437.6,61.5 437.7,64.5 C437.8,67.5 437.9,72.8 437.7,75.5 C437.5,78.2 437.9,78.8 436.4,80.5 C434.8,82.2 432.0,83.6 428.4,85.5 C424.8,87.4 416.4,90.3 414.9,92.0 C413.4,93.7 417.3,95.0 419.4,95.5 C421.5,96.0 425.1,95.5 427.4,95.3 C429.6,95.1 431.5,94.6 432.9,94.5 C434.3,94.4 435.6,93.9 435.9,94.5 C436.2,95.1 435.4,96.8 434.9,98.0 C434.4,99.2 433.4,100.4 432.9,101.5 C432.4,102.6 432.4,103.3 431.9,104.5 C431.4,105.7 431.1,107.1 429.9,108.5 C428.7,109.9 427.1,111.9 424.9,113.0 C422.7,114.1 420.3,114.6 416.9,115.0 C413.4,115.4 407.1,115.4 404.2,115.3 C401.3,115.2 400.8,114.9 399.4,114.5 C398.0,114.1 396.8,114.0 395.9,113.0 C395.0,112.0 394.4,110.4 393.9,108.5 C393.4,106.6 393.0,103.8 392.9,101.5 C392.8,99.2 393.0,96.4 393.4,94.5 C393.8,92.6 394.5,91.4 395.4,90.0 C396.3,88.6 397.6,87.3 398.9,86.0 C400.1,84.7 401.6,83.7 402.9,82.0 C404.1,80.3 405.5,78.2 406.4,76.0 C407.2,73.8 407.7,70.9 408.0,68.5 C408.3,66.1 408.2,63.5 408.4,61.5 C408.5,59.5 408.4,57.9 408.9,56.5Z" fill="url(#gL)"/><path d="M408.9,56.5 C409.4,55.1 410.3,54.0 411.4,53.0 C412.5,52.0 413.9,51.2 415.4,50.7 C416.9,50.2 418.1,49.9 420.4,49.7 C422.6,49.5 426.8,49.4 428.9,49.5 C431.0,49.6 431.9,49.9 432.9,50.5 C433.9,51.1 434.4,51.8 435.1,53.0 C435.8,54.2 436.8,55.6 437.2,57.5 C437.6,59.4 437.6,61.5 437.7,64.5 C437.8,67.5 437.9,72.8 437.7,75.5 C437.5,78.2 437.9,78.8 436.4,80.5 C434.8,82.2 432.0,83.6 428.4,85.5 C424.8,87.4 416.4,90.3 414.9,92.0 C413.4,93.7 417.3,95.0 419.4,95.5 C421.5,96.0 425.1,95.5 427.4,95.3 C429.6,95.1 431.5,94.6 432.9,94.5 C434.3,94.4 435.6,93.9 435.9,94.5 C436.2,95.1 435.4,96.8 434.9,98.0 C434.4,99.2 433.4,100.4 432.9,101.5 C432.4,102.6 432.4,103.3 431.9,104.5 C431.4,105.7 431.1,107.1 429.9,108.5 C428.7,109.9 427.1,111.9 424.9,113.0 C422.7,114.1 420.3,114.6 416.9,115.0 C413.4,115.4 407.1,115.4 404.2,115.3 C401.3,115.2 400.8,114.9 399.4,114.5 C398.0,114.1 396.8,114.0 395.9,113.0 C395.0,112.0 394.4,110.4 393.9,108.5 C393.4,106.6 393.0,103.8 392.9,101.5 C392.8,99.2 393.0,96.4 393.4,94.5 C393.8,92.6 394.5,91.4 395.4,90.0 C396.3,88.6 397.6,87.3 398.9,86.0 C400.1,84.7 401.6,83.7 402.9,82.0 C404.1,80.3 405.5,78.2 406.4,76.0 C407.2,73.8 407.7,70.9 408.0,68.5 C408.3,66.1 408.2,63.5 408.4,61.5 C408.5,59.5 408.4,57.9 408.9,56.5Z" fill="url(#spL)"/><path d="M406.9,60.8 C407.1,58.8 407.4,57.0 408.0,55.5 C408.6,54.0 409.3,53.0 410.4,52.0 C411.5,51.0 413.0,50.4 414.6,49.8 C416.2,49.2 417.7,48.8 420.1,48.5 C422.5,48.2 426.7,48.1 428.9,48.2 C431.1,48.3 432.2,48.7 433.3,49.3 C434.4,49.9 434.7,50.6 435.5,52.0 C436.3,53.4 437.4,54.7 437.9,57.5 C438.4,60.3 438.5,65.7 438.6,69.0 C438.7,72.3 438.4,74.5 438.4,77.3 C438.3,80.0 438.3,81.8 438.3,85.5 C438.3,89.2 438.6,95.5 438.3,99.5 C438.0,103.5 437.4,106.9 436.6,109.2 C435.8,111.5 434.6,112.5 433.3,113.6 C432.0,114.7 431.5,115.2 428.9,115.8 C426.3,116.3 422.0,116.7 417.9,116.9 C413.8,117.1 407.1,116.9 404.2,116.9 C401.3,116.9 401.7,117.0 400.3,116.7 C398.9,116.4 397.1,116.3 395.9,115.3 C394.7,114.3 393.6,112.8 392.9,110.5 C392.1,108.2 391.6,104.2 391.4,101.5 C391.2,98.8 391.5,96.7 391.9,94.5 C392.3,92.3 393.0,90.2 393.9,88.5 C394.8,86.8 396.1,85.8 397.4,84.5 C398.6,83.2 400.1,82.2 401.4,80.5 C402.6,78.8 404.0,76.7 404.9,74.5 C405.8,72.3 406.6,69.8 406.9,67.5 C407.2,65.2 406.7,62.8 406.9,60.8Z" fill="none" stroke="#111" stroke-width="0.9" stroke-dasharray="0.9 1.2"/><path d="M373.4,108.5 C373.5,107.9 375.6,107.7 376.4,108.0 C377.2,108.3 378.5,109.9 378.4,110.5 C378.3,111.1 376.7,111.8 375.9,111.5 C375.1,111.2 373.3,109.1 373.4,108.5Z" fill="#70c070" fill-opacity="0.7"/><path d="M373.4,108.5 C373.5,107.9 375.6,107.7 376.4,108.0 C377.2,108.3 378.5,109.9 378.4,110.5 C378.3,111.1 376.7,111.8 375.9,111.5 C375.1,111.2 373.3,109.1 373.4,108.5Z" fill="url(#spW)" fill-opacity="0.45"/><path d="M376.4,111.5 C376.9,110.5 379.1,109.7 379.9,110.0 C380.7,110.3 381.5,112.3 381.4,113.5 C381.3,114.7 380.1,116.6 379.4,117.0 C378.6,117.4 377.4,116.9 376.9,116.0 C376.4,115.1 375.9,112.5 376.4,111.5Z" fill="#f07030" fill-opacity="0.9"/><path d="M376.4,111.5 C376.9,110.5 379.1,109.7 379.9,110.0 C380.7,110.3 381.5,112.3 381.4,113.5 C381.3,114.7 380.1,116.6 379.4,117.0 C378.6,117.4 377.4,116.9 376.9,116.0 C376.4,115.1 375.9,112.5 376.4,111.5Z" fill="url(#spW)" fill-opacity="0.45"/><path d="M379.4,106.5 C379.7,105.7 383.2,105.2 384.4,105.5 C385.6,105.8 386.7,107.7 386.4,108.5 C386.1,109.3 383.6,110.8 382.4,110.5 C381.2,110.2 379.1,107.3 379.4,106.5Z" fill="#80c8c0" fill-opacity="0.6"/><path d="M379.4,106.5 C379.7,105.7 383.2,105.2 384.4,105.5 C385.6,105.8 386.7,107.7 386.4,108.5 C386.1,109.3 383.6,110.8 382.4,110.5 C381.2,110.2 379.1,107.3 379.4,106.5Z" fill="url(#spW)" fill-opacity="0.45"/><path d="M386.4,109.5 C386.8,108.7 389.0,108.6 389.4,109.5 C389.8,110.4 389.3,114.2 388.9,115.0 C388.5,115.8 387.3,115.4 386.9,114.5 C386.5,113.6 386.0,110.3 386.4,109.5Z" fill="#50a0d0" fill-opacity="0.8"/><path d="M386.4,109.5 C386.8,108.7 389.0,108.6 389.4,109.5 C389.8,110.4 389.3,114.2 388.9,115.0 C388.5,115.8 387.3,115.4 386.9,114.5 C386.5,113.6 386.0,110.3 386.4,109.5Z" fill="url(#spW)" fill-opacity="0.45"/></g></g><path d="M341.4,19.5 H439.7 V117.3" fill="none" stroke="#d4d4d4" stroke-width="0.8"/><path d="M341.4,19.5 V117.3 H439.7" fill="none" stroke="#b8b8b8" stroke-width="0.9"/><path d="M341.4,117.3h-2.4M341.4,110.3h-1.4M341.4,103.3h-1.4M341.4,96.3h-2.4M341.4,89.3h-1.4M341.4,82.3h-1.4M341.4,75.3h-2.4M341.4,68.3h-1.4M341.4,61.3h-1.4M341.4,54.3h-2.4M341.4,47.3h-1.4M341.4,40.3h-1.4M341.4,33.3h-2.4M341.4,26.3h-1.4M341.4,117.3v2.4M348.4,117.3v1.4M355.4,117.3v1.4M362.4,117.3v2.4M369.4,117.3v1.4M376.4,117.3v1.4M383.4,117.3v2.4M390.4,117.3v1.4M397.4,117.3v1.4M404.4,117.3v2.4M411.4,117.3v1.4M418.4,117.3v1.4M425.4,117.3v2.4M432.4,117.3v1.4M439.4,117.3v1.4" stroke="#555" stroke-width="0.8" fill="none"/><path d="M357.1,112.8 h13.6 M367.5,109.9 L370.9,112.8 L367.5,115.7" stroke="#222" stroke-width="1.1" fill="none"/></g><text x="341.7" y="18.9" font-size="10.6" fill="#111" stroke="#111" stroke-width="0.28">5 mol%</text><g><clipPath id="clipA4"><rect x="444.5" y="19.5" width="98.3" height="97.8"/></clipPath><g clip-path="url(#clipA4)"><g filter="url(#soft)"><path d="M488.5,23.5 C489.5,22.3 490.2,22.5 491.5,22.0 C492.8,21.5 494.7,20.8 496.5,20.7 C498.3,20.6 500.2,20.5 502.5,21.1 C504.8,21.7 508.2,23.4 510.0,24.5 C511.8,25.6 512.0,26.5 513.3,27.8 C514.6,29.1 516.4,30.6 517.7,32.2 C519.0,33.9 520.2,36.1 521.0,37.7 C521.8,39.4 522.6,40.6 522.7,42.1 C522.8,43.6 522.2,45.3 521.6,46.5 C521.0,47.7 519.9,48.4 518.8,49.3 C517.7,50.2 516.2,51.0 515.0,52.0 C513.8,53.0 512.3,54.1 511.5,55.5 C510.7,56.9 510.5,58.8 510.0,60.5 C509.5,62.2 509.2,63.5 508.5,65.5 C507.8,67.5 507.2,70.2 506.0,72.5 C504.8,74.8 503.1,77.4 501.5,79.5 C499.9,81.6 497.9,83.0 496.5,85.0 C495.1,87.0 493.7,88.8 493.0,91.5 C492.3,94.2 492.6,99.3 492.5,101.5 C492.4,103.7 493.0,103.9 492.3,104.5 C491.6,105.1 490.1,104.9 488.5,105.0 C486.9,105.1 484.4,105.1 482.5,105.3 C480.6,105.5 478.8,105.9 477.0,105.9 C475.2,105.9 473.1,106.2 471.5,105.5 C469.9,104.8 468.4,103.1 467.7,101.5 C467.0,99.9 467.2,97.5 467.1,96.0 C467.0,94.5 467.7,93.2 467.1,92.7 C466.5,92.2 464.6,93.3 463.5,93.0 C462.4,92.7 461.5,92.1 460.5,91.0 C459.5,89.9 458.5,87.8 457.5,86.5 C456.5,85.2 455.2,84.7 454.5,83.5 C453.8,82.3 453.1,80.8 453.0,79.5 C452.9,78.2 453.3,76.9 454.0,76.0 C454.7,75.1 456.8,74.8 457.0,74.0 C457.2,73.2 456.4,71.8 455.5,71.0 C454.6,70.2 452.4,69.9 451.5,69.0 C450.6,68.1 450.1,66.5 450.0,65.5 C449.9,64.5 450.1,64.3 450.6,63.0 C451.1,61.7 452.1,59.3 452.8,57.5 C453.5,55.7 454.3,53.5 455.0,52.0 C455.7,50.5 456.1,49.6 457.2,48.7 C458.3,47.8 460.2,47.2 461.6,46.5 C463.0,45.8 464.8,45.5 465.5,44.3 C466.2,43.0 465.6,40.4 466.0,39.0 C466.4,37.6 466.9,36.4 468.0,35.7 C469.1,35.0 470.8,34.9 472.5,34.7 C474.2,34.5 476.8,34.6 478.5,34.3 C480.2,34.0 481.8,33.9 483.0,33.0 C484.2,32.1 484.6,30.6 485.5,29.0 C486.4,27.4 487.5,24.7 488.5,23.5Z" fill="#2c2cec"/><path d="M488.5,23.5 C489.5,22.3 490.2,22.5 491.5,22.0 C492.8,21.5 494.7,20.8 496.5,20.7 C498.3,20.6 500.2,20.5 502.5,21.1 C504.8,21.7 508.2,23.4 510.0,24.5 C511.8,25.6 512.0,26.5 513.3,27.8 C514.6,29.1 516.4,30.6 517.7,32.2 C519.0,33.9 520.2,36.1 521.0,37.7 C521.8,39.4 522.6,40.6 522.7,42.1 C522.8,43.6 522.2,45.3 521.6,46.5 C521.0,47.7 519.9,48.4 518.8,49.3 C517.7,50.2 516.2,51.0 515.0,52.0 C513.8,53.0 512.3,54.1 511.5,55.5 C510.7,56.9 510.5,58.8 510.0,60.5 C509.5,62.2 509.2,63.5 508.5,65.5 C507.8,67.5 507.2,70.2 506.0,72.5 C504.8,74.8 503.1,77.4 501.5,79.5 C499.9,81.6 497.9,83.0 496.5,85.0 C495.1,87.0 493.7,88.8 493.0,91.5 C492.3,94.2 492.6,99.3 492.5,101.5 C492.4,103.7 493.0,103.9 492.3,104.5 C491.6,105.1 490.1,104.9 488.5,105.0 C486.9,105.1 484.4,105.1 482.5,105.3 C480.6,105.5 478.8,105.9 477.0,105.9 C475.2,105.9 473.1,106.2 471.5,105.5 C469.9,104.8 468.4,103.1 467.7,101.5 C467.0,99.9 467.2,97.5 467.1,96.0 C467.0,94.5 467.7,93.2 467.1,92.7 C466.5,92.2 464.6,93.3 463.5,93.0 C462.4,92.7 461.5,92.1 460.5,91.0 C459.5,89.9 458.5,87.8 457.5,86.5 C456.5,85.2 455.2,84.7 454.5,83.5 C453.8,82.3 453.1,80.8 453.0,79.5 C452.9,78.2 453.3,76.9 454.0,76.0 C454.7,75.1 456.8,74.8 457.0,74.0 C457.2,73.2 456.4,71.8 455.5,71.0 C454.6,70.2 452.4,69.9 451.5,69.0 C450.6,68.1 450.1,66.5 450.0,65.5 C449.9,64.5 450.1,64.3 450.6,63.0 C451.1,61.7 452.1,59.3 452.8,57.5 C453.5,55.7 454.3,53.5 455.0,52.0 C455.7,50.5 456.1,49.6 457.2,48.7 C458.3,47.8 460.2,47.2 461.6,46.5 C463.0,45.8 464.8,45.5 465.5,44.3 C466.2,43.0 465.6,40.4 466.0,39.0 C466.4,37.6 466.9,36.4 468.0,35.7 C469.1,35.0 470.8,34.9 472.5,34.7 C474.2,34.5 476.8,34.6 478.5,34.3 C480.2,34.0 481.8,33.9 483.0,33.0 C484.2,32.1 484.6,30.6 485.5,29.0 C486.4,27.4 487.5,24.7 488.5,23.5Z" fill="url(#spW)"/><ellipse cx="472.3" cy="28.1" rx="5.2" ry="3.0" transform="rotate(-35 472.3 28.1)" fill="#2c2cec"/><ellipse cx="472.3" cy="28.1" rx="5.2" ry="3.0" transform="rotate(-35 472.3 28.1)" fill="url(#spW)"/><ellipse cx="450.8" cy="71.8" rx="2.3" ry="1.5" transform="rotate(20 450.8 71.8)" fill="#2c2cec"/><ellipse cx="450.8" cy="71.8" rx="2.3" ry="1.5" transform="rotate(20 450.8 71.8)" fill="url(#spW)"/><ellipse cx="485.0" cy="25.7" rx="3.6" ry="1.3" transform="rotate(42 485.0 25.7)" fill="#2c2cec"/><ellipse cx="485.0" cy="25.7" rx="3.6" ry="1.3" transform="rotate(42 485.0 25.7)" fill="url(#spW)"/><ellipse cx="489.1" cy="21.2" rx="1.8" ry="0.9" transform="rotate(35 489.1 21.2)" fill="#2c2cec"/><ellipse cx="489.1" cy="21.2" rx="1.8" ry="0.9" transform="rotate(35 489.1 21.2)" fill="url(#spW)"/><ellipse cx="447.3" cy="67.4" rx="1.7" ry="1.1" transform="rotate(0 447.3 67.4)" fill="#2c2cec"/><ellipse cx="447.3" cy="67.4" rx="1.7" ry="1.1" transform="rotate(0 447.3 67.4)" fill="url(#spW)"/><ellipse cx="526.5" cy="43.8" rx="0.6" ry="0.6" transform="rotate(0 526.5 43.8)" fill="#2c2cec"/><ellipse cx="526.5" cy="43.8" rx="0.6" ry="0.6" transform="rotate(0 526.5 43.8)" fill="url(#spW)"/><path d="M482.0,31.5 C482.7,30.4 484.6,30.4 485.8,30.5 C487.0,30.6 488.7,31.6 489.3,32.4 C489.9,33.2 490.0,34.6 489.7,35.5 C489.4,36.4 488.6,37.3 487.7,38.0 C486.8,38.7 485.1,39.6 484.1,39.5 C483.1,39.4 482.1,38.6 481.7,37.3 C481.3,36.0 481.3,32.6 482.0,31.5Z" fill="#1414e4"/><path d="M482.0,31.5 C482.7,30.4 484.6,30.4 485.8,30.5 C487.0,30.6 488.7,31.6 489.3,32.4 C489.9,33.2 490.0,34.6 489.7,35.5 C489.4,36.4 488.6,37.3 487.7,38.0 C486.8,38.7 485.1,39.6 484.1,39.5 C483.1,39.4 482.1,38.6 481.7,37.3 C481.3,36.0 481.3,32.6 482.0,31.5Z" fill="url(#spW)" fill-opacity="0.15"/><path d="M456.5,63.5 C457.1,62.8 458.8,62.2 459.5,62.5 C460.2,62.8 461.2,64.5 461.0,65.5 C460.8,66.5 459.3,68.2 458.5,68.5 C457.7,68.8 456.3,67.8 456.0,67.0 C455.7,66.2 455.9,64.2 456.5,63.5Z" fill="#fff" fill-opacity="0.75"/><path d="M461.5,77.5 C462.0,76.4 464.3,75.8 465.5,76.0 C466.7,76.2 468.3,77.3 468.5,78.5 C468.7,79.7 467.5,82.3 466.5,83.0 C465.5,83.7 463.3,83.4 462.5,82.5 C461.7,81.6 461.0,78.6 461.5,77.5Z" fill="#fff" fill-opacity="0.75"/><path d="M462.5,85.5 C462.3,84.7 464.6,83.9 465.5,84.0 C466.4,84.1 467.8,85.2 468.0,86.0 C468.2,86.8 467.4,89.1 466.5,89.0 C465.6,88.9 462.7,86.3 462.5,85.5Z" fill="#fff" fill-opacity="0.75"/><path d="M470.5,87.5 C470.7,86.8 472.7,86.2 473.5,86.5 C474.3,86.8 475.7,88.2 475.5,89.0 C475.3,89.8 473.3,91.2 472.5,91.0 C471.7,90.8 470.3,88.2 470.5,87.5Z" fill="#fff" fill-opacity="0.75"/><path d="M480.5,89.5 C480.7,88.8 482.7,88.2 483.5,88.5 C484.3,88.8 485.7,90.2 485.5,91.0 C485.3,91.8 483.3,93.2 482.5,93.0 C481.7,92.8 480.3,90.2 480.5,89.5Z" fill="#fff" fill-opacity="0.75"/><path d="M457.5,55.5 C457.8,54.8 459.8,54.2 460.5,54.5 C461.2,54.8 461.8,56.8 461.5,57.5 C461.2,58.2 459.2,59.3 458.5,59.0 C457.8,58.7 457.2,56.2 457.5,55.5Z" fill="#fff" fill-opacity="0.75"/><path d="M469.5,47.5 C469.8,46.8 471.8,46.2 472.5,46.5 C473.2,46.8 473.8,48.8 473.5,49.5 C473.2,50.2 471.2,50.8 470.5,50.5 C469.8,50.2 469.2,48.2 469.5,47.5Z" fill="#fff" fill-opacity="0.75"/><polyline points="456.5,73.0 465.7,72.1 477.3,69.4 487.3,65.2 497.3,62.5 507.3,61.7 510.7,60.0" fill="none" stroke="#fff" stroke-width="2.0" stroke-linecap="round" stroke-linejoin="round"/><polyline points="458.5,78.0 466.5,79.5 474.5,83.0 484.5,85.5 492.5,85.5 498.0,83.5" fill="none" stroke="#fff" stroke-width="2.0" stroke-linecap="round" stroke-linejoin="round"/><polyline points="476.0,106.5 480.5,105.7 485.5,105.1 491.0,104.5" fill="none" stroke="#fff" stroke-width="2.0" stroke-linecap="round" stroke-linejoin="round"/><polyline points="490.8,20.5 490.7,25.5 491.0,30.0" fill="none" stroke="#fff" stroke-width="2.0" stroke-linecap="round" stroke-linejoin="round"/><path d="M510.0,60.8 C510.4,59.1 510.5,57.0 511.1,55.5 C511.7,54.0 512.4,53.0 513.5,52.0 C514.6,51.0 516.1,50.4 517.7,49.8 C519.3,49.2 520.8,48.8 523.2,48.5 C525.6,48.2 529.8,48.1 532.0,48.2 C534.2,48.3 535.3,48.7 536.4,49.3 C537.5,49.9 537.8,50.6 538.6,52.0 C539.4,53.4 540.5,54.7 541.0,57.5 C541.5,60.3 541.6,65.7 541.7,69.0 C541.8,72.3 541.5,74.5 541.5,77.3 C541.5,80.0 541.4,81.8 541.4,85.5 C541.4,89.2 541.7,95.5 541.4,99.5 C541.1,103.5 540.5,106.9 539.7,109.2 C538.9,111.5 537.7,112.5 536.4,113.6 C535.1,114.7 534.6,115.2 532.0,115.8 C529.4,116.3 525.1,116.7 521.0,116.9 C516.9,117.1 510.2,116.9 507.3,116.9 C504.4,116.9 504.8,117.0 503.4,116.7 C502.0,116.4 500.4,116.4 499.0,115.3 C497.6,114.2 496.1,112.6 495.2,110.3 C494.3,108.0 493.8,104.6 493.5,101.5 C493.2,98.4 493.1,94.3 493.5,91.6 C493.9,88.8 494.8,86.7 495.7,85.0 C496.6,83.3 497.9,82.8 499.0,81.5 C500.1,80.2 501.0,79.3 502.3,77.5 C503.6,75.7 505.6,72.5 506.7,70.5 C507.8,68.5 508.2,67.1 508.8,65.5 C509.4,63.9 509.6,62.5 510.0,60.8Z" fill="none" stroke="#fff" stroke-width="1.8" stroke-opacity="0.85"/><path d="M510.0,60.8 C510.4,59.1 510.5,57.0 511.1,55.5 C511.7,54.0 512.4,53.0 513.5,52.0 C514.6,51.0 516.1,50.4 517.7,49.8 C519.3,49.2 520.8,48.8 523.2,48.5 C525.6,48.2 529.8,48.1 532.0,48.2 C534.2,48.3 535.3,48.7 536.4,49.3 C537.5,49.9 537.8,50.6 538.6,52.0 C539.4,53.4 540.5,54.7 541.0,57.5 C541.5,60.3 541.6,65.7 541.7,69.0 C541.8,72.3 541.5,74.5 541.5,77.3 C541.5,80.0 541.4,81.8 541.4,85.5 C541.4,89.2 541.7,95.5 541.4,99.5 C541.1,103.5 540.5,106.9 539.7,109.2 C538.9,111.5 537.7,112.5 536.4,113.6 C535.1,114.7 534.6,115.2 532.0,115.8 C529.4,116.3 525.1,116.7 521.0,116.9 C516.9,117.1 510.2,116.9 507.3,116.9 C504.4,116.9 504.8,117.0 503.4,116.7 C502.0,116.4 500.4,116.4 499.0,115.3 C497.6,114.2 496.1,112.6 495.2,110.3 C494.3,108.0 493.8,104.6 493.5,101.5 C493.2,98.4 493.1,94.3 493.5,91.6 C493.9,88.8 494.8,86.7 495.7,85.0 C496.6,83.3 497.9,82.8 499.0,81.5 C500.1,80.2 501.0,79.3 502.3,77.5 C503.6,75.7 505.6,72.5 506.7,70.5 C507.8,68.5 508.2,67.1 508.8,65.5 C509.4,63.9 509.6,62.5 510.0,60.8Z" fill="#fff"/><path d="M512.0,56.5 C512.7,55.2 513.4,54.0 514.5,53.0 C515.6,52.0 517.0,51.2 518.5,50.7 C520.0,50.2 521.2,49.9 523.5,49.7 C525.8,49.5 529.9,49.4 532.0,49.5 C534.1,49.6 535.0,49.9 536.0,50.5 C537.0,51.1 537.5,51.8 538.2,53.0 C538.9,54.2 539.9,55.6 540.3,57.5 C540.7,59.4 540.7,61.2 540.8,64.5 C540.9,67.8 541.0,74.7 540.8,77.5 C540.6,80.3 541.0,79.9 539.5,81.5 C538.0,83.1 534.7,84.6 531.5,87.0 C528.3,89.4 521.6,94.2 520.5,96.0 C519.4,97.8 523.2,97.8 525.0,97.5 C526.8,97.2 529.2,95.4 531.0,94.0 C532.8,92.6 534.6,90.4 536.0,89.0 C537.4,87.6 539.2,85.5 539.5,85.7 C539.8,86.0 538.6,88.7 538.0,90.5 C537.4,92.3 536.5,94.5 536.0,96.5 C535.5,98.5 535.5,100.5 535.0,102.5 C534.5,104.5 534.2,106.8 533.0,108.5 C531.8,110.2 530.2,111.9 528.0,113.0 C525.8,114.1 523.5,114.6 520.0,115.0 C516.5,115.4 510.2,115.4 507.3,115.3 C504.4,115.2 503.9,114.9 502.5,114.5 C501.1,114.1 500.1,114.0 499.0,113.0 C497.9,112.0 496.7,110.4 496.0,108.5 C495.3,106.6 495.0,104.2 494.8,101.5 C494.6,98.8 494.5,95.0 494.8,92.5 C495.1,90.0 495.7,88.2 496.5,86.5 C497.3,84.8 498.4,83.8 499.5,82.5 C500.6,81.2 501.8,80.2 503.0,78.5 C504.2,76.8 505.9,74.7 507.0,72.5 C508.1,70.3 508.7,67.5 509.3,65.5 C509.9,63.5 510.1,62.0 510.5,60.5 C510.9,59.0 511.3,57.8 512.0,56.5Z" fill="#2c2cec"/><path d="M512.0,56.5 C512.7,55.2 513.4,54.0 514.5,53.0 C515.6,52.0 517.0,51.2 518.5,50.7 C520.0,50.2 521.2,49.9 523.5,49.7 C525.8,49.5 529.9,49.4 532.0,49.5 C534.1,49.6 535.0,49.9 536.0,50.5 C537.0,51.1 537.5,51.8 538.2,53.0 C538.9,54.2 539.9,55.6 540.3,57.5 C540.7,59.4 540.7,61.2 540.8,64.5 C540.9,67.8 541.0,74.7 540.8,77.5 C540.6,80.3 541.0,79.9 539.5,81.5 C538.0,83.1 534.7,84.6 531.5,87.0 C528.3,89.4 521.6,94.2 520.5,96.0 C519.4,97.8 523.2,97.8 525.0,97.5 C526.8,97.2 529.2,95.4 531.0,94.0 C532.8,92.6 534.6,90.4 536.0,89.0 C537.4,87.6 539.2,85.5 539.5,85.7 C539.8,86.0 538.6,88.7 538.0,90.5 C537.4,92.3 536.5,94.5 536.0,96.5 C535.5,98.5 535.5,100.5 535.0,102.5 C534.5,104.5 534.2,106.8 533.0,108.5 C531.8,110.2 530.2,111.9 528.0,113.0 C525.8,114.1 523.5,114.6 520.0,115.0 C516.5,115.4 510.2,115.4 507.3,115.3 C504.4,115.2 503.9,114.9 502.5,114.5 C501.1,114.1 500.1,114.0 499.0,113.0 C497.9,112.0 496.7,110.4 496.0,108.5 C495.3,106.6 495.0,104.2 494.8,101.5 C494.6,98.8 494.5,95.0 494.8,92.5 C495.1,90.0 495.7,88.2 496.5,86.5 C497.3,84.8 498.4,83.8 499.5,82.5 C500.6,81.2 501.8,80.2 503.0,78.5 C504.2,76.8 505.9,74.7 507.0,72.5 C508.1,70.3 508.7,67.5 509.3,65.5 C509.9,63.5 510.1,62.0 510.5,60.5 C510.9,59.0 511.3,57.8 512.0,56.5Z" fill="url(#spW)"/><path d="M510.0,60.8 C510.4,59.1 510.5,57.0 511.1,55.5 C511.7,54.0 512.4,53.0 513.5,52.0 C514.6,51.0 516.1,50.4 517.7,49.8 C519.3,49.2 520.8,48.8 523.2,48.5 C525.6,48.2 529.8,48.1 532.0,48.2 C534.2,48.3 535.3,48.7 536.4,49.3 C537.5,49.9 537.8,50.6 538.6,52.0 C539.4,53.4 540.5,54.7 541.0,57.5 C541.5,60.3 541.6,65.7 541.7,69.0 C541.8,72.3 541.5,74.5 541.5,77.3 C541.5,80.0 541.4,81.8 541.4,85.5 C541.4,89.2 541.7,95.5 541.4,99.5 C541.1,103.5 540.5,106.9 539.7,109.2 C538.9,111.5 537.7,112.5 536.4,113.6 C535.1,114.7 534.6,115.2 532.0,115.8 C529.4,116.3 525.1,116.7 521.0,116.9 C516.9,117.1 510.2,116.9 507.3,116.9 C504.4,116.9 504.8,117.0 503.4,116.7 C502.0,116.4 500.4,116.4 499.0,115.3 C497.6,114.2 496.1,112.6 495.2,110.3 C494.3,108.0 493.8,104.6 493.5,101.5 C493.2,98.4 493.1,94.3 493.5,91.6 C493.9,88.8 494.8,86.7 495.7,85.0 C496.6,83.3 497.9,82.8 499.0,81.5 C500.1,80.2 501.0,79.3 502.3,77.5 C503.6,75.7 505.6,72.5 506.7,70.5 C507.8,68.5 508.2,67.1 508.8,65.5 C509.4,63.9 509.6,62.5 510.0,60.8Z" fill="none" stroke="#111" stroke-width="0.9" stroke-dasharray="0.9 1.2"/><path d="M476.2,107.5 C476.4,106.8 478.9,107.9 480.5,108.5 C482.1,109.1 484.0,110.7 485.5,111.0 C487.0,111.3 489.3,109.8 489.5,110.5 C489.7,111.2 487.7,114.1 486.5,115.0 C485.3,115.9 483.7,116.2 482.5,115.8 C481.3,115.4 480.6,113.9 479.5,112.5 C478.4,111.1 476.0,108.2 476.2,107.5Z" fill="#1a1af0" fill-opacity="1.0"/><path d="M476.2,107.5 C476.4,106.8 478.9,107.9 480.5,108.5 C482.1,109.1 484.0,110.7 485.5,111.0 C487.0,111.3 489.3,109.8 489.5,110.5 C489.7,111.2 487.7,114.1 486.5,115.0 C485.3,115.9 483.7,116.2 482.5,115.8 C481.3,115.4 480.6,113.9 479.5,112.5 C478.4,111.1 476.0,108.2 476.2,107.5Z" fill="url(#spW)" fill-opacity="0.45"/><path d="M492.0,110.0 C492.5,109.2 494.8,109.6 495.3,110.5 C495.8,111.4 495.5,114.8 495.0,115.5 C494.5,116.2 492.8,115.9 492.3,115.0 C491.8,114.1 491.5,110.8 492.0,110.0Z" fill="#1a1af0" fill-opacity="1.0"/><path d="M492.0,110.0 C492.5,109.2 494.8,109.6 495.3,110.5 C495.8,111.4 495.5,114.8 495.0,115.5 C494.5,116.2 492.8,115.9 492.3,115.0 C491.8,114.1 491.5,110.8 492.0,110.0Z" fill="url(#spW)" fill-opacity="0.45"/></g></g><path d="M444.5,19.5 H542.8 V117.3" fill="none" stroke="#d4d4d4" stroke-width="0.8"/><path d="M444.5,19.5 V117.3 H542.8" fill="none" stroke="#b8b8b8" stroke-width="0.9"/><path d="M444.5,117.3h-2.4M444.5,110.3h-1.4M444.5,103.3h-1.4M444.5,96.3h-2.4M444.5,89.3h-1.4M444.5,82.3h-1.4M444.5,75.3h-2.4M444.5,68.3h-1.4M444.5,61.3h-1.4M444.5,54.3h-2.4M444.5,47.3h-1.4M444.5,40.3h-1.4M444.5,33.3h-2.4M444.5,26.3h-1.4M444.5,117.3v2.4M451.5,117.3v1.4M458.5,117.3v1.4M465.5,117.3v2.4M472.5,117.3v1.4M479.5,117.3v1.4M486.5,117.3v2.4M493.5,117.3v1.4M500.5,117.3v1.4M507.5,117.3v2.4M514.5,117.3v1.4M521.5,117.3v1.4M528.5,117.3v2.4M535.5,117.3v1.4M542.5,117.3v1.4" stroke="#555" stroke-width="0.8" fill="none"/><path d="M460.9,112.8 h13.6 M471.3,109.9 L474.7,112.8 L471.3,115.7" stroke="#222" stroke-width="1.1" fill="none"/></g><text x="444.3" y="18.9" font-size="10.6" fill="#111" stroke="#111" stroke-width="0.28">Naive</text><text transform="translate(20.6,80.4) rotate(-90)" text-anchor="middle" font-size="10.3" textLength="34" lengthAdjust="spacingAndGlyphs" fill="#222" stroke="#222" stroke-width="0.28">tSNE 2</text><path d="M17.5,110 V135.3 H44" stroke="#111" stroke-width="1.3" fill="none"/><path d="M17.5,104.8 L14.6,119 L20.4,119 Z M49.4,135.3 L33.5,132.3 L33.5,138.3 Z" fill="#111"/><text x="56.2" y="137.8" font-size="10.6" textLength="33.4" lengthAdjust="spacingAndGlyphs" fill="#222" stroke="#222" stroke-width="0.28">tSNE 1</text><linearGradient id="cbar" x1="0" x2="1" y1="0" y2="0"><stop offset="0" stop-color="#1010f0"/><stop offset="0.08" stop-color="#1010e0"/><stop offset="0.22" stop-color="#0a7a50"/><stop offset="0.38" stop-color="#00dd10"/><stop offset="0.52" stop-color="#40f000"/><stop offset="0.66" stop-color="#f0f000"/><stop offset="0.82" stop-color="#ff9000"/><stop offset="0.95" stop-color="#ff1800"/><stop offset="1" stop-color="#f01010"/></linearGradient><rect x="127.1" y="131.8" width="40" height="7.8" fill="url(#cbar)"/><text x="116.3" y="138.4" font-size="10.4" fill="#333" stroke="#333" stroke-width="0.28">0</text><text x="171" y="138.3" font-size="10.4" fill="#333" stroke="#333" stroke-width="0.28">500,000</text><text x="217.3" y="138.3" font-size="10.8" fill="#222" stroke="#222" stroke-width="0.28">DiD (liposome)</text>
<text x="7.4" y="163.8" font-size="21.6" fill="#000" stroke="#000" stroke-width="0.28">B</text><text x="32.7" y="164.8" font-size="10.3" textLength="126.4" lengthAdjust="spacingAndGlyphs" fill="#111" stroke="#111" stroke-width="0.28">Live lin-Ly6G-MHCII+/AF+</text><path d="M31.4,167.4 H131.6 V267.7" fill="none" stroke="#d4d4d4" stroke-width="0.8"/><path d="M31.4,167.4 V267.7 H131.6" fill="none" stroke="#b8b8b8" stroke-width="0.9"/><path d="M31.4,267.7 h-2.4 M31.4,267.7 v2.4 M31.4,260.5 h-1.4 M38.6,267.7 v1.4 M31.4,253.3 h-1.4 M45.8,267.7 v1.4 M31.4,246.1 h-2.4 M53.0,267.7 v2.4 M31.4,238.9 h-1.4 M60.2,267.7 v1.4 M31.4,231.7 h-1.4 M67.4,267.7 v1.4 M31.4,224.5 h-2.4 M74.6,267.7 v2.4 M31.4,217.3 h-1.4 M81.8,267.7 v1.4 M31.4,210.1 h-1.4 M89.0,267.7 v1.4 M31.4,202.9 h-2.4 M96.2,267.7 v2.4 M31.4,195.7 h-1.4 M103.4,267.7 v1.4 M31.4,188.5 h-1.4 M110.6,267.7 v1.4 M31.4,181.3 h-2.4 M117.8,267.7 v2.4 M31.4,174.1 h-1.4 M125.0,267.7 v1.4" stroke="#555" stroke-width="0.8" fill="none"/><text x="136.8" y="177.9" font-size="9.1" fill="#3a9a40" stroke="#3a9a40" stroke-width="0.28">cDC2</text><text x="136.8" y="188.4" font-size="9.1" fill="#444" stroke="#444" stroke-width="0.28">pDC</text><text x="136.8" y="198.9" font-size="9.1" fill="#f0a040" stroke="#f0a040" stroke-width="0.28">cDC1</text><text x="136.8" y="209.4" font-size="9.1" fill="#e0202c" stroke="#e0202c" stroke-width="0.28">Red pulp</text><text x="136.8" y="219.9" font-size="9.1" fill="#e0202c" stroke="#e0202c" stroke-width="0.28">MΦ</text><text x="136.8" y="230.3" font-size="9.1" fill="#2a2ae6" stroke="#2a2ae6" stroke-width="0.28">CD169</text><text x="136.8" y="240.7" font-size="9.1" fill="#2a2ae6" stroke="#2a2ae6" stroke-width="0.28">MΦ</text><text transform="translate(20.8,220.8) rotate(-90)" text-anchor="middle" font-size="10.3" textLength="34" lengthAdjust="spacingAndGlyphs" fill="#222" stroke="#222" stroke-width="0.28">tSNE 2</text><path d="M17.5,255 V280.5 H44" stroke="#111" stroke-width="1.3" fill="none"/><path d="M17.5,250.1 L14.6,264.5 L20.4,264.5 Z M49.8,280.5 L33.5,277.5 L33.5,283.5 Z" fill="#111"/><text x="56" y="283.5" font-size="10.6" textLength="33.5" lengthAdjust="spacingAndGlyphs" fill="#222" stroke="#222" stroke-width="0.28">tSNE 1</text><path d="M46.1,262.2 H59.3 M56.2,259.3 L59.5,262.2 L56.2,265.2" stroke="#222" stroke-width="1.1" fill="none"/><g filter="url(#softB)"><path d="M60.4,176.3 C61.6,175.4 64.1,178.0 66.0,177.5 C67.9,177.0 69.8,174.7 71.6,173.5 C73.4,172.3 75.1,171.1 77.0,170.5 C78.9,169.9 81.0,169.9 82.8,169.7 C84.6,169.4 86.1,169.0 88.0,169.0 C89.9,169.0 91.8,168.3 94.0,169.7 C96.2,171.1 99.2,174.7 101.4,177.2 C103.6,179.7 105.6,181.9 107.0,184.7 C108.4,187.5 109.8,191.5 109.8,194.0 C109.8,196.5 108.7,198.0 107.0,199.6 C105.3,201.2 102.4,202.1 99.6,203.3 C96.8,204.5 93.3,205.8 90.2,207.0 C87.1,208.2 84.9,209.6 80.9,210.8 C76.9,212.1 70.7,213.6 66.0,214.5 C61.3,215.4 56.3,217.0 52.9,216.4 C49.5,215.8 47.5,212.7 45.5,210.8 C43.5,208.9 41.4,207.4 40.8,205.2 C40.2,203.0 40.3,199.2 41.7,197.7 C43.1,196.1 47.3,198.1 49.2,195.9 C51.1,193.7 51.4,186.9 52.9,184.7 C54.4,182.5 57.2,184.2 58.5,182.8 C59.8,181.4 59.1,177.2 60.4,176.3Z" fill="#e4f2e4" fill-opacity="0.7"/><path d="M60.0,176.6 C61.4,175.8 64.3,177.8 66.3,177.3 C68.2,176.7 69.8,174.5 71.6,173.4 C73.4,172.4 75.4,171.5 77.2,170.8 C79.0,170.1 80.5,169.5 82.4,169.2 C84.3,168.9 86.4,168.9 88.3,168.9 C90.3,168.9 92.1,167.8 94.3,169.2 C96.4,170.6 99.3,174.8 101.3,177.4 C103.4,180.1 105.3,182.5 106.7,185.1 C108.2,187.8 110.2,191.1 110.2,193.5 C110.2,195.9 108.2,198.0 106.5,199.6 C104.8,201.2 102.8,202.0 100.0,203.2 C97.3,204.4 93.2,205.7 89.9,206.9 C86.6,208.1 84.4,209.3 80.4,210.5 C76.4,211.8 70.6,213.6 65.9,214.5 C61.3,215.4 56.1,216.8 52.6,216.1 C49.2,215.5 47.2,212.7 45.2,210.8 C43.2,208.9 41.1,206.9 40.6,204.7 C40.1,202.6 40.6,199.3 42.0,197.8 C43.5,196.2 47.4,197.7 49.3,195.6 C51.2,193.5 51.9,187.2 53.4,185.1 C54.9,182.9 57.0,184.0 58.1,182.6 C59.2,181.2 58.7,177.5 60.0,176.6Z" fill="none" stroke="#8fcf94" stroke-width="1.8" stroke-opacity="0.3"/><path d="M60.0,176.6 C61.4,175.8 64.3,177.8 66.3,177.3 C68.2,176.7 69.8,174.5 71.6,173.4 C73.4,172.4 75.4,171.5 77.2,170.8 C79.0,170.1 80.5,169.5 82.4,169.2 C84.3,168.9 86.4,168.9 88.3,168.9 C90.3,168.9 92.1,167.8 94.3,169.2 C96.4,170.6 99.3,174.8 101.3,177.4 C103.4,180.1 105.3,182.5 106.7,185.1 C108.2,187.8 110.2,191.1 110.2,193.5 C110.2,195.9 108.2,198.0 106.5,199.6 C104.8,201.2 102.8,202.0 100.0,203.2 C97.3,204.4 93.2,205.7 89.9,206.9 C86.6,208.1 84.4,209.3 80.4,210.5 C76.4,211.8 70.6,213.6 65.9,214.5 C61.3,215.4 56.1,216.8 52.6,216.1 C49.2,215.5 47.2,212.7 45.2,210.8 C43.2,208.9 41.1,206.9 40.6,204.7 C40.1,202.6 40.6,199.3 42.0,197.8 C43.5,196.2 47.4,197.7 49.3,195.6 C51.2,193.5 51.9,187.2 53.4,185.1 C54.9,182.9 57.0,184.0 58.1,182.6 C59.2,181.2 58.7,177.5 60.0,176.6Z" fill="none" stroke="#2f9a3c" stroke-width="0.5" stroke-opacity="0.23"/><path d="M61.6,177.7 C62.8,177.0 64.8,179.3 66.5,178.7 C68.3,178.2 70.3,175.6 72.0,174.5 C73.7,173.4 75.2,172.8 76.9,172.3 C78.7,171.7 80.9,171.5 82.6,171.2 C84.3,170.8 85.5,170.0 87.2,170.0 C88.8,170.1 90.3,170.2 92.4,171.5 C94.4,172.7 97.4,175.5 99.4,177.8 C101.5,180.1 103.4,182.7 104.8,185.3 C106.1,187.9 107.5,191.4 107.5,193.6 C107.5,195.9 106.2,197.5 104.7,199.0 C103.1,200.4 100.7,201.3 98.1,202.4 C95.5,203.6 92.0,204.8 89.0,205.8 C86.0,206.9 83.7,207.7 80.0,208.9 C76.3,210.2 71.1,212.4 66.8,213.3 C62.6,214.2 57.8,215.1 54.5,214.5 C51.3,213.8 49.0,211.1 47.2,209.4 C45.4,207.7 44.2,206.4 43.7,204.4 C43.1,202.5 42.9,199.0 44.0,197.6 C45.2,196.1 48.9,197.6 50.7,195.5 C52.5,193.5 53.4,187.3 54.9,185.2 C56.4,183.1 58.5,184.3 59.6,183.1 C60.7,181.9 60.5,178.5 61.6,177.7Z" fill="none" stroke="#8fcf94" stroke-width="1.8" stroke-opacity="0.3"/><path d="M61.6,177.7 C62.8,177.0 64.8,179.3 66.5,178.7 C68.3,178.2 70.3,175.6 72.0,174.5 C73.7,173.4 75.2,172.8 76.9,172.3 C78.7,171.7 80.9,171.5 82.6,171.2 C84.3,170.8 85.5,170.0 87.2,170.0 C88.8,170.1 90.3,170.2 92.4,171.5 C94.4,172.7 97.4,175.5 99.4,177.8 C101.5,180.1 103.4,182.7 104.8,185.3 C106.1,187.9 107.5,191.4 107.5,193.6 C107.5,195.9 106.2,197.5 104.7,199.0 C103.1,200.4 100.7,201.3 98.1,202.4 C95.5,203.6 92.0,204.8 89.0,205.8 C86.0,206.9 83.7,207.7 80.0,208.9 C76.3,210.2 71.1,212.4 66.8,213.3 C62.6,214.2 57.8,215.1 54.5,214.5 C51.3,213.8 49.0,211.1 47.2,209.4 C45.4,207.7 44.2,206.4 43.7,204.4 C43.1,202.5 42.9,199.0 44.0,197.6 C45.2,196.1 48.9,197.6 50.7,195.5 C52.5,193.5 53.4,187.3 54.9,185.2 C56.4,183.1 58.5,184.3 59.6,183.1 C60.7,181.9 60.5,178.5 61.6,177.7Z" fill="none" stroke="#2f9a3c" stroke-width="0.5" stroke-opacity="0.22"/><path d="M82.9,176.3 C82.4,176.8 81.6,176.5 80.8,176.5 C80.0,176.5 78.8,176.8 78.1,176.2 C77.3,175.6 76.3,174.0 76.3,173.1 C76.2,172.2 77.2,171.5 77.8,170.9 C78.4,170.4 79.2,169.5 80.0,169.7 C80.7,169.9 81.8,171.6 82.5,172.2 C83.1,172.8 83.8,172.8 83.8,173.5 C83.9,174.2 83.4,175.8 82.9,176.3Z" fill="none" stroke="#8fcf94" stroke-width="1.8" stroke-opacity="0.5"/><path d="M82.9,176.3 C82.4,176.8 81.6,176.5 80.8,176.5 C80.0,176.5 78.8,176.8 78.1,176.2 C77.3,175.6 76.3,174.0 76.3,173.1 C76.2,172.2 77.2,171.5 77.8,170.9 C78.4,170.4 79.2,169.5 80.0,169.7 C80.7,169.9 81.8,171.6 82.5,172.2 C83.1,172.8 83.8,172.8 83.8,173.5 C83.9,174.2 83.4,175.8 82.9,176.3Z" fill="none" stroke="#2f9a3c" stroke-width="0.6" stroke-opacity="0.61"/><path d="M89.4,173.6 C88.8,174.4 88.8,176.0 88.0,176.3 C87.3,176.5 85.5,176.0 84.8,175.3 C84.0,174.6 83.5,173.0 83.5,172.2 C83.6,171.5 84.4,171.1 85.1,170.7 C85.8,170.2 87.2,169.7 87.8,169.4 C88.4,169.1 88.2,168.4 88.8,168.7 C89.3,169.1 91.0,170.6 91.1,171.4 C91.2,172.2 89.9,172.8 89.4,173.6Z" fill="none" stroke="#8fcf94" stroke-width="1.8" stroke-opacity="0.5"/><path d="M89.4,173.6 C88.8,174.4 88.8,176.0 88.0,176.3 C87.3,176.5 85.5,176.0 84.8,175.3 C84.0,174.6 83.5,173.0 83.5,172.2 C83.6,171.5 84.4,171.1 85.1,170.7 C85.8,170.2 87.2,169.7 87.8,169.4 C88.4,169.1 88.2,168.4 88.8,168.7 C89.3,169.1 91.0,170.6 91.1,171.4 C91.2,172.2 89.9,172.8 89.4,173.6Z" fill="none" stroke="#2f9a3c" stroke-width="0.6" stroke-opacity="0.64"/><path d="M100.2,175.1 C99.8,176.0 98.8,176.4 98.2,176.9 C97.5,177.3 96.6,177.8 96.1,177.7 C95.5,177.6 95.1,176.9 94.8,176.2 C94.5,175.5 94.2,174.3 94.5,173.4 C94.7,172.5 95.4,171.4 96.1,171.0 C96.9,170.6 98.1,170.8 98.8,170.9 C99.5,170.9 100.1,170.6 100.4,171.3 C100.6,172.0 100.5,174.2 100.2,175.1Z" fill="none" stroke="#8fcf94" stroke-width="1.8" stroke-opacity="0.5"/><path d="M100.2,175.1 C99.8,176.0 98.8,176.4 98.2,176.9 C97.5,177.3 96.6,177.8 96.1,177.7 C95.5,177.6 95.1,176.9 94.8,176.2 C94.5,175.5 94.2,174.3 94.5,173.4 C94.7,172.5 95.4,171.4 96.1,171.0 C96.9,170.6 98.1,170.8 98.8,170.9 C99.5,170.9 100.1,170.6 100.4,171.3 C100.6,172.0 100.5,174.2 100.2,175.1Z" fill="none" stroke="#2f9a3c" stroke-width="0.6" stroke-opacity="0.56"/><path d="M69.5,183.3 C68.8,183.8 68.0,184.6 67.1,184.2 C66.2,183.9 64.6,182.3 64.0,181.3 C63.3,180.3 63.2,179.1 63.4,178.2 C63.5,177.3 63.9,176.1 64.7,175.8 C65.6,175.6 67.5,176.0 68.5,176.5 C69.6,177.1 70.6,178.2 71.0,179.1 C71.4,179.9 71.2,180.9 71.0,181.6 C70.7,182.3 70.1,182.9 69.5,183.3Z" fill="none" stroke="#8fcf94" stroke-width="1.8" stroke-opacity="0.5"/><path d="M69.5,183.3 C68.8,183.8 68.0,184.6 67.1,184.2 C66.2,183.9 64.6,182.3 64.0,181.3 C63.3,180.3 63.2,179.1 63.4,178.2 C63.5,177.3 63.9,176.1 64.7,175.8 C65.6,175.6 67.5,176.0 68.5,176.5 C69.6,177.1 70.6,178.2 71.0,179.1 C71.4,179.9 71.2,180.9 71.0,181.6 C70.7,182.3 70.1,182.9 69.5,183.3Z" fill="none" stroke="#2f9a3c" stroke-width="0.6" stroke-opacity="0.62"/><path d="M75.6,183.5 C75.2,184.3 75.0,185.6 74.2,185.8 C73.5,186.0 71.9,185.3 71.3,184.8 C70.7,184.4 70.5,183.8 70.6,183.1 C70.7,182.4 71.1,181.7 71.7,180.8 C72.4,180.0 73.9,178.4 74.5,178.0 C75.2,177.6 75.5,177.8 75.9,178.3 C76.3,178.8 77.0,180.3 77.0,181.2 C76.9,182.1 76.1,182.7 75.6,183.5Z" fill="none" stroke="#8fcf94" stroke-width="1.8" stroke-opacity="0.5"/><path d="M75.6,183.5 C75.2,184.3 75.0,185.6 74.2,185.8 C73.5,186.0 71.9,185.3 71.3,184.8 C70.7,184.4 70.5,183.8 70.6,183.1 C70.7,182.4 71.1,181.7 71.7,180.8 C72.4,180.0 73.9,178.4 74.5,178.0 C75.2,177.6 75.5,177.8 75.9,178.3 C76.3,178.8 77.0,180.3 77.0,181.2 C76.9,182.1 76.1,182.7 75.6,183.5Z" fill="none" stroke="#2f9a3c" stroke-width="0.6" stroke-opacity="0.53"/><path d="M84.7,180.3 C84.5,180.8 85.0,181.3 84.4,181.6 C83.9,181.9 82.1,182.1 81.5,182.0 C80.9,181.9 81.0,181.8 80.9,181.1 C80.8,180.5 80.7,179.0 80.9,178.2 C81.2,177.4 81.8,176.7 82.3,176.6 C82.9,176.5 83.9,177.2 84.5,177.5 C85.0,177.9 85.6,178.2 85.6,178.6 C85.7,179.1 84.9,179.8 84.7,180.3Z" fill="none" stroke="#8fcf94" stroke-width="1.8" stroke-opacity="0.5"/><path d="M84.7,180.3 C84.5,180.8 85.0,181.3 84.4,181.6 C83.9,181.9 82.1,182.1 81.5,182.0 C80.9,181.9 81.0,181.8 80.9,181.1 C80.8,180.5 80.7,179.0 80.9,178.2 C81.2,177.4 81.8,176.7 82.3,176.6 C82.9,176.5 83.9,177.2 84.5,177.5 C85.0,177.9 85.6,178.2 85.6,178.6 C85.7,179.1 84.9,179.8 84.7,180.3Z" fill="none" stroke="#2f9a3c" stroke-width="0.6" stroke-opacity="0.63"/><path d="M94.7,182.7 C94.3,183.2 93.6,183.9 93.0,184.0 C92.3,184.1 91.4,183.7 90.7,183.1 C90.0,182.6 88.8,181.0 88.5,180.4 C88.2,179.8 88.5,180.1 88.8,179.5 C89.1,179.0 89.6,177.5 90.5,177.3 C91.4,177.1 93.4,177.7 94.2,178.3 C95.0,178.9 95.2,180.2 95.3,181.0 C95.3,181.7 95.1,182.2 94.7,182.7Z" fill="none" stroke="#8fcf94" stroke-width="1.8" stroke-opacity="0.5"/><path d="M94.7,182.7 C94.3,183.2 93.6,183.9 93.0,184.0 C92.3,184.1 91.4,183.7 90.7,183.1 C90.0,182.6 88.8,181.0 88.5,180.4 C88.2,179.8 88.5,180.1 88.8,179.5 C89.1,179.0 89.6,177.5 90.5,177.3 C91.4,177.1 93.4,177.7 94.2,178.3 C95.0,178.9 95.2,180.2 95.3,181.0 C95.3,181.7 95.1,182.2 94.7,182.7Z" fill="none" stroke="#2f9a3c" stroke-width="0.6" stroke-opacity="0.61"/><path d="M103.3,180.7 C103.4,181.6 103.3,181.8 102.8,182.3 C102.4,182.9 101.4,184.2 100.5,184.2 C99.6,184.2 98.3,182.8 97.6,182.1 C97.0,181.4 96.7,181.0 96.9,180.2 C97.0,179.4 98.1,177.8 98.7,177.3 C99.4,176.8 100.1,177.1 100.8,177.1 C101.4,177.1 102.1,176.7 102.5,177.3 C103.0,177.9 103.3,179.9 103.3,180.7Z" fill="none" stroke="#8fcf94" stroke-width="1.8" stroke-opacity="0.5"/><path d="M103.3,180.7 C103.4,181.6 103.3,181.8 102.8,182.3 C102.4,182.9 101.4,184.2 100.5,184.2 C99.6,184.2 98.3,182.8 97.6,182.1 C97.0,181.4 96.7,181.0 96.9,180.2 C97.0,179.4 98.1,177.8 98.7,177.3 C99.4,176.8 100.1,177.1 100.8,177.1 C101.4,177.1 102.1,176.7 102.5,177.3 C103.0,177.9 103.3,179.9 103.3,180.7Z" fill="none" stroke="#2f9a3c" stroke-width="0.6" stroke-opacity="0.55"/><path d="M54.9,192.0 C54.2,192.1 53.1,191.1 52.5,190.5 C51.8,189.9 51.3,189.3 50.9,188.5 C50.5,187.7 50.1,186.2 50.2,185.5 C50.2,184.7 50.2,184.3 51.0,183.9 C51.8,183.6 54.2,183.1 54.9,183.4 C55.7,183.7 55.4,184.5 55.7,185.6 C55.9,186.6 56.8,188.5 56.7,189.5 C56.5,190.6 55.6,191.8 54.9,192.0Z" fill="none" stroke="#8fcf94" stroke-width="1.8" stroke-opacity="0.5"/><path d="M54.9,192.0 C54.2,192.1 53.1,191.1 52.5,190.5 C51.8,189.9 51.3,189.3 50.9,188.5 C50.5,187.7 50.1,186.2 50.2,185.5 C50.2,184.7 50.2,184.3 51.0,183.9 C51.8,183.6 54.2,183.1 54.9,183.4 C55.7,183.7 55.4,184.5 55.7,185.6 C55.9,186.6 56.8,188.5 56.7,189.5 C56.5,190.6 55.6,191.8 54.9,192.0Z" fill="none" stroke="#2f9a3c" stroke-width="0.6" stroke-opacity="0.64"/><path d="M63.9,189.5 C63.2,190.1 61.7,190.9 60.7,191.0 C59.7,191.1 58.5,190.9 57.9,190.2 C57.2,189.6 56.6,188.2 56.6,187.2 C56.6,186.3 57.2,185.1 57.9,184.6 C58.5,184.1 59.5,184.0 60.4,184.2 C61.4,184.4 62.9,185.1 63.7,185.7 C64.5,186.3 65.2,187.0 65.2,187.7 C65.3,188.3 64.7,189.0 63.9,189.5Z" fill="none" stroke="#8fcf94" stroke-width="1.8" stroke-opacity="0.5"/><path d="M63.9,189.5 C63.2,190.1 61.7,190.9 60.7,191.0 C59.7,191.1 58.5,190.9 57.9,190.2 C57.2,189.6 56.6,188.2 56.6,187.2 C56.6,186.3 57.2,185.1 57.9,184.6 C58.5,184.1 59.5,184.0 60.4,184.2 C61.4,184.4 62.9,185.1 63.7,185.7 C64.5,186.3 65.2,187.0 65.2,187.7 C65.3,188.3 64.7,189.0 63.9,189.5Z" fill="none" stroke="#2f9a3c" stroke-width="0.6" stroke-opacity="0.46"/><path d="M72.5,190.7 C72.2,191.3 71.7,190.7 71.0,190.9 C70.3,191.1 68.9,192.3 68.1,191.9 C67.3,191.5 66.5,189.5 66.3,188.5 C66.0,187.4 66.1,186.5 66.6,185.7 C67.0,184.9 68.1,183.8 68.9,183.7 C69.8,183.6 71.1,184.5 71.8,185.1 C72.5,185.7 72.9,186.3 73.0,187.2 C73.1,188.1 72.8,190.0 72.5,190.7Z" fill="none" stroke="#8fcf94" stroke-width="1.8" stroke-opacity="0.5"/><path d="M72.5,190.7 C72.2,191.3 71.7,190.7 71.0,190.9 C70.3,191.1 68.9,192.3 68.1,191.9 C67.3,191.5 66.5,189.5 66.3,188.5 C66.0,187.4 66.1,186.5 66.6,185.7 C67.0,184.9 68.1,183.8 68.9,183.7 C69.8,183.6 71.1,184.5 71.8,185.1 C72.5,185.7 72.9,186.3 73.0,187.2 C73.1,188.1 72.8,190.0 72.5,190.7Z" fill="none" stroke="#2f9a3c" stroke-width="0.6" stroke-opacity="0.65"/><path d="M78.9,191.8 C78.4,192.4 77.8,193.1 77.1,192.9 C76.3,192.7 75.0,191.7 74.5,190.9 C74.0,190.1 73.6,188.9 74.0,188.3 C74.4,187.6 76.1,187.2 76.8,187.1 C77.6,186.9 78.0,187.0 78.5,187.2 C79.0,187.4 79.6,187.7 80.0,188.1 C80.3,188.5 80.7,189.1 80.6,189.7 C80.4,190.3 79.5,191.3 78.9,191.8Z" fill="none" stroke="#8fcf94" stroke-width="1.8" stroke-opacity="0.5"/><path d="M78.9,191.8 C78.4,192.4 77.8,193.1 77.1,192.9 C76.3,192.7 75.0,191.7 74.5,190.9 C74.0,190.1 73.6,188.9 74.0,188.3 C74.4,187.6 76.1,187.2 76.8,187.1 C77.6,186.9 78.0,187.0 78.5,187.2 C79.0,187.4 79.6,187.7 80.0,188.1 C80.3,188.5 80.7,189.1 80.6,189.7 C80.4,190.3 79.5,191.3 78.9,191.8Z" fill="none" stroke="#2f9a3c" stroke-width="0.6" stroke-opacity="0.58"/><path d="M90.2,190.6 C89.7,191.2 88.2,191.7 87.5,191.9 C86.8,192.2 86.3,192.3 85.8,192.0 C85.3,191.6 84.8,190.4 84.6,189.8 C84.5,189.1 84.4,188.9 84.7,188.2 C85.0,187.5 85.4,185.9 86.2,185.6 C86.9,185.4 88.5,186.3 89.2,186.7 C89.8,187.2 90.0,187.6 90.2,188.3 C90.4,188.9 90.6,190.0 90.2,190.6Z" fill="none" stroke="#8fcf94" stroke-width="1.8" stroke-opacity="0.5"/><path d="M90.2,190.6 C89.7,191.2 88.2,191.7 87.5,191.9 C86.8,192.2 86.3,192.3 85.8,192.0 C85.3,191.6 84.8,190.4 84.6,189.8 C84.5,189.1 84.4,188.9 84.7,188.2 C85.0,187.5 85.4,185.9 86.2,185.6 C86.9,185.4 88.5,186.3 89.2,186.7 C89.8,187.2 90.0,187.6 90.2,188.3 C90.4,188.9 90.6,190.0 90.2,190.6Z" fill="none" stroke="#2f9a3c" stroke-width="0.6" stroke-opacity="0.65"/><path d="M99.5,190.9 C98.9,191.4 97.5,191.6 96.8,191.5 C96.1,191.4 96.1,191.1 95.4,190.4 C94.8,189.7 93.3,188.1 93.0,187.4 C92.7,186.8 93.2,187.1 93.6,186.6 C94.1,186.1 95.0,184.5 95.8,184.5 C96.6,184.5 97.6,185.8 98.3,186.5 C99.0,187.2 100.1,188.2 100.3,188.9 C100.5,189.7 100.1,190.5 99.5,190.9Z" fill="none" stroke="#8fcf94" stroke-width="1.8" stroke-opacity="0.5"/><path d="M99.5,190.9 C98.9,191.4 97.5,191.6 96.8,191.5 C96.1,191.4 96.1,191.1 95.4,190.4 C94.8,189.7 93.3,188.1 93.0,187.4 C92.7,186.8 93.2,187.1 93.6,186.6 C94.1,186.1 95.0,184.5 95.8,184.5 C96.6,184.5 97.6,185.8 98.3,186.5 C99.0,187.2 100.1,188.2 100.3,188.9 C100.5,189.7 100.1,190.5 99.5,190.9Z" fill="none" stroke="#2f9a3c" stroke-width="0.6" stroke-opacity="0.55"/><path d="M105.0,192.3 C104.4,192.7 103.3,192.5 102.7,192.0 C102.0,191.4 101.6,189.7 101.3,188.8 C101.0,187.8 100.8,186.9 101.0,186.3 C101.2,185.6 101.9,185.0 102.4,184.9 C102.8,184.7 103.0,185.1 103.6,185.4 C104.3,185.8 106.0,186.5 106.4,187.1 C106.8,187.8 106.4,188.7 106.2,189.6 C106.0,190.4 105.6,191.9 105.0,192.3Z" fill="none" stroke="#8fcf94" stroke-width="1.8" stroke-opacity="0.5"/><path d="M105.0,192.3 C104.4,192.7 103.3,192.5 102.7,192.0 C102.0,191.4 101.6,189.7 101.3,188.8 C101.0,187.8 100.8,186.9 101.0,186.3 C101.2,185.6 101.9,185.0 102.4,184.9 C102.8,184.7 103.0,185.1 103.6,185.4 C104.3,185.8 106.0,186.5 106.4,187.1 C106.8,187.8 106.4,188.7 106.2,189.6 C106.0,190.4 105.6,191.9 105.0,192.3Z" fill="none" stroke="#2f9a3c" stroke-width="0.6" stroke-opacity="0.54"/><path d="M51.1,198.8 C50.4,198.8 49.4,198.9 48.8,198.3 C48.2,197.8 47.8,196.2 47.7,195.5 C47.6,194.7 48.0,194.2 48.3,193.6 C48.6,193.0 48.9,192.0 49.3,191.8 C49.8,191.6 50.6,191.9 51.1,192.4 C51.6,192.8 52.0,193.6 52.3,194.5 C52.6,195.5 52.9,197.3 52.7,198.0 C52.5,198.7 51.8,198.7 51.1,198.8Z" fill="none" stroke="#8fcf94" stroke-width="1.8" stroke-opacity="0.5"/><path d="M51.1,198.8 C50.4,198.8 49.4,198.9 48.8,198.3 C48.2,197.8 47.8,196.2 47.7,195.5 C47.6,194.7 48.0,194.2 48.3,193.6 C48.6,193.0 48.9,192.0 49.3,191.8 C49.8,191.6 50.6,191.9 51.1,192.4 C51.6,192.8 52.0,193.6 52.3,194.5 C52.6,195.5 52.9,197.3 52.7,198.0 C52.5,198.7 51.8,198.7 51.1,198.8Z" fill="none" stroke="#2f9a3c" stroke-width="0.6" stroke-opacity="0.53"/><path d="M60.3,197.8 C59.6,198.3 58.3,198.2 57.6,198.1 C56.8,197.9 56.2,197.4 55.9,196.9 C55.6,196.3 55.6,195.5 55.7,194.8 C55.7,194.1 55.5,193.2 56.3,192.8 C57.0,192.3 59.1,192.1 60.1,192.1 C61.2,192.2 62.3,192.5 62.6,193.1 C63.0,193.6 62.4,194.6 62.0,195.4 C61.6,196.2 61.1,197.4 60.3,197.8Z" fill="none" stroke="#8fcf94" stroke-width="1.8" stroke-opacity="0.5"/><path d="M60.3,197.8 C59.6,198.3 58.3,198.2 57.6,198.1 C56.8,197.9 56.2,197.4 55.9,196.9 C55.6,196.3 55.6,195.5 55.7,194.8 C55.7,194.1 55.5,193.2 56.3,192.8 C57.0,192.3 59.1,192.1 60.1,192.1 C61.2,192.2 62.3,192.5 62.6,193.1 C63.0,193.6 62.4,194.6 62.0,195.4 C61.6,196.2 61.1,197.4 60.3,197.8Z" fill="none" stroke="#2f9a3c" stroke-width="0.6" stroke-opacity="0.59"/><path d="M68.7,197.3 C68.4,198.1 68.4,199.1 67.8,199.5 C67.3,200.0 66.1,200.1 65.4,199.9 C64.7,199.8 63.9,199.1 63.7,198.4 C63.5,197.7 63.7,196.8 64.0,195.8 C64.3,194.9 64.9,193.3 65.4,192.8 C65.9,192.3 66.1,192.6 66.9,192.9 C67.6,193.3 69.4,194.0 69.7,194.7 C70.0,195.5 69.0,196.5 68.7,197.3Z" fill="none" stroke="#8fcf94" stroke-width="1.8" stroke-opacity="0.5"/><path d="M68.7,197.3 C68.4,198.1 68.4,199.1 67.8,199.5 C67.3,200.0 66.1,200.1 65.4,199.9 C64.7,199.8 63.9,199.1 63.7,198.4 C63.5,197.7 63.7,196.8 64.0,195.8 C64.3,194.9 64.9,193.3 65.4,192.8 C65.9,192.3 66.1,192.6 66.9,192.9 C67.6,193.3 69.4,194.0 69.7,194.7 C70.0,195.5 69.0,196.5 68.7,197.3Z" fill="none" stroke="#2f9a3c" stroke-width="0.6" stroke-opacity="0.56"/><path d="M75.0,200.3 C74.2,200.3 72.9,199.7 72.0,198.9 C71.1,198.0 69.8,196.1 69.7,195.0 C69.6,193.9 70.4,192.9 71.2,192.2 C72.1,191.6 73.7,191.1 74.6,191.0 C75.6,190.9 76.2,191.1 76.6,191.7 C77.1,192.2 77.4,193.2 77.5,194.4 C77.6,195.5 77.7,197.4 77.3,198.4 C76.9,199.4 75.9,200.2 75.0,200.3Z" fill="none" stroke="#8fcf94" stroke-width="1.8" stroke-opacity="0.5"/><path d="M75.0,200.3 C74.2,200.3 72.9,199.7 72.0,198.9 C71.1,198.0 69.8,196.1 69.7,195.0 C69.6,193.9 70.4,192.9 71.2,192.2 C72.1,191.6 73.7,191.1 74.6,191.0 C75.6,190.9 76.2,191.1 76.6,191.7 C77.1,192.2 77.4,193.2 77.5,194.4 C77.6,195.5 77.7,197.4 77.3,198.4 C76.9,199.4 75.9,200.2 75.0,200.3Z" fill="none" stroke="#2f9a3c" stroke-width="0.6" stroke-opacity="0.50"/><path d="M86.3,198.1 C85.7,198.8 84.7,199.5 84.1,199.6 C83.5,199.7 83.1,199.3 82.7,198.6 C82.3,198.0 82.0,196.2 82.0,195.5 C81.9,194.8 82.3,195.0 82.6,194.6 C82.9,194.3 83.1,193.7 83.8,193.4 C84.6,193.1 86.5,192.7 87.1,193.1 C87.7,193.4 87.6,194.6 87.5,195.5 C87.3,196.3 86.8,197.4 86.3,198.1Z" fill="none" stroke="#8fcf94" stroke-width="1.8" stroke-opacity="0.5"/><path d="M86.3,198.1 C85.7,198.8 84.7,199.5 84.1,199.6 C83.5,199.7 83.1,199.3 82.7,198.6 C82.3,198.0 82.0,196.2 82.0,195.5 C81.9,194.8 82.3,195.0 82.6,194.6 C82.9,194.3 83.1,193.7 83.8,193.4 C84.6,193.1 86.5,192.7 87.1,193.1 C87.7,193.4 87.6,194.6 87.5,195.5 C87.3,196.3 86.8,197.4 86.3,198.1Z" fill="none" stroke="#2f9a3c" stroke-width="0.6" stroke-opacity="0.56"/><path d="M91.7,199.8 C91.0,199.9 90.0,199.7 89.2,199.1 C88.5,198.5 87.5,196.8 87.4,196.0 C87.3,195.2 88.0,194.9 88.4,194.3 C88.8,193.6 89.3,192.3 89.9,192.3 C90.5,192.3 91.3,193.8 92.0,194.3 C92.7,194.8 93.6,194.7 93.8,195.5 C94.0,196.2 93.6,197.9 93.2,198.7 C92.8,199.4 92.3,199.7 91.7,199.8Z" fill="none" stroke="#8fcf94" stroke-width="1.8" stroke-opacity="0.5"/><path d="M91.7,199.8 C91.0,199.9 90.0,199.7 89.2,199.1 C88.5,198.5 87.5,196.8 87.4,196.0 C87.3,195.2 88.0,194.9 88.4,194.3 C88.8,193.6 89.3,192.3 89.9,192.3 C90.5,192.3 91.3,193.8 92.0,194.3 C92.7,194.8 93.6,194.7 93.8,195.5 C94.0,196.2 93.6,197.9 93.2,198.7 C92.8,199.4 92.3,199.7 91.7,199.8Z" fill="none" stroke="#2f9a3c" stroke-width="0.6" stroke-opacity="0.53"/><path d="M102.5,197.4 C102.0,198.1 100.0,199.5 98.9,199.5 C97.9,199.5 96.6,197.9 96.2,197.2 C95.7,196.4 96.1,195.7 96.2,195.0 C96.3,194.3 96.1,193.4 96.7,192.8 C97.3,192.2 98.9,191.3 99.9,191.4 C100.8,191.5 102.0,192.6 102.3,193.2 C102.7,193.9 102.1,194.7 102.1,195.4 C102.1,196.1 103.0,196.7 102.5,197.4Z" fill="none" stroke="#8fcf94" stroke-width="1.8" stroke-opacity="0.5"/><path d="M102.5,197.4 C102.0,198.1 100.0,199.5 98.9,199.5 C97.9,199.5 96.6,197.9 96.2,197.2 C95.7,196.4 96.1,195.7 96.2,195.0 C96.3,194.3 96.1,193.4 96.7,192.8 C97.3,192.2 98.9,191.3 99.9,191.4 C100.8,191.5 102.0,192.6 102.3,193.2 C102.7,193.9 102.1,194.7 102.1,195.4 C102.1,196.1 103.0,196.7 102.5,197.4Z" fill="none" stroke="#2f9a3c" stroke-width="0.6" stroke-opacity="0.47"/><path d="M46.8,206.7 C46.2,207.1 45.7,206.6 45.1,206.3 C44.5,206.0 43.7,205.5 43.2,204.9 C42.6,204.3 41.6,203.4 41.8,202.5 C41.9,201.6 43.2,200.0 43.9,199.6 C44.6,199.2 45.0,199.4 45.9,199.9 C46.8,200.5 48.8,202.0 49.3,202.7 C49.7,203.4 49.0,203.4 48.6,204.0 C48.2,204.7 47.4,206.4 46.8,206.7Z" fill="none" stroke="#8fcf94" stroke-width="1.8" stroke-opacity="0.5"/><path d="M46.8,206.7 C46.2,207.1 45.7,206.6 45.1,206.3 C44.5,206.0 43.7,205.5 43.2,204.9 C42.6,204.3 41.6,203.4 41.8,202.5 C41.9,201.6 43.2,200.0 43.9,199.6 C44.6,199.2 45.0,199.4 45.9,199.9 C46.8,200.5 48.8,202.0 49.3,202.7 C49.7,203.4 49.0,203.4 48.6,204.0 C48.2,204.7 47.4,206.4 46.8,206.7Z" fill="none" stroke="#2f9a3c" stroke-width="0.6" stroke-opacity="0.54"/><path d="M54.8,206.2 C53.8,206.4 52.6,206.5 52.0,205.8 C51.5,205.0 51.3,202.7 51.3,201.7 C51.3,200.6 51.7,200.1 52.3,199.5 C52.9,198.8 54.2,197.7 54.9,197.7 C55.6,197.8 55.9,198.9 56.5,199.7 C57.1,200.5 58.1,201.8 58.4,202.6 C58.7,203.4 58.7,203.9 58.1,204.5 C57.5,205.1 55.8,206.0 54.8,206.2Z" fill="none" stroke="#8fcf94" stroke-width="1.8" stroke-opacity="0.5"/><path d="M54.8,206.2 C53.8,206.4 52.6,206.5 52.0,205.8 C51.5,205.0 51.3,202.7 51.3,201.7 C51.3,200.6 51.7,200.1 52.3,199.5 C52.9,198.8 54.2,197.7 54.9,197.7 C55.6,197.8 55.9,198.9 56.5,199.7 C57.1,200.5 58.1,201.8 58.4,202.6 C58.7,203.4 58.7,203.9 58.1,204.5 C57.5,205.1 55.8,206.0 54.8,206.2Z" fill="none" stroke="#2f9a3c" stroke-width="0.6" stroke-opacity="0.63"/><path d="M65.3,203.4 C65.1,204.3 64.7,206.2 64.0,206.8 C63.2,207.3 61.2,207.0 60.6,206.8 C60.1,206.5 60.7,206.1 60.5,205.3 C60.3,204.6 59.4,203.1 59.6,202.3 C59.8,201.5 60.9,200.9 61.7,200.6 C62.5,200.3 63.9,200.5 64.4,200.6 C65.0,200.7 64.9,200.9 65.0,201.3 C65.1,201.8 65.4,202.5 65.3,203.4Z" fill="none" stroke="#8fcf94" stroke-width="1.8" stroke-opacity="0.5"/><path d="M65.3,203.4 C65.1,204.3 64.7,206.2 64.0,206.8 C63.2,207.3 61.2,207.0 60.6,206.8 C60.1,206.5 60.7,206.1 60.5,205.3 C60.3,204.6 59.4,203.1 59.6,202.3 C59.8,201.5 60.9,200.9 61.7,200.6 C62.5,200.3 63.9,200.5 64.4,200.6 C65.0,200.7 64.9,200.9 65.0,201.3 C65.1,201.8 65.4,202.5 65.3,203.4Z" fill="none" stroke="#2f9a3c" stroke-width="0.6" stroke-opacity="0.51"/><path d="M74.1,206.3 C73.6,206.9 72.4,206.7 71.5,206.8 C70.6,206.8 69.8,206.9 68.9,206.7 C68.0,206.5 66.5,206.2 66.1,205.5 C65.8,204.7 66.2,203.2 66.7,202.2 C67.3,201.2 68.5,200.1 69.5,199.7 C70.4,199.3 71.5,199.1 72.3,199.7 C73.1,200.3 74.1,202.1 74.4,203.2 C74.7,204.3 74.6,205.7 74.1,206.3Z" fill="none" stroke="#8fcf94" stroke-width="1.8" stroke-opacity="0.5"/><path d="M74.1,206.3 C73.6,206.9 72.4,206.7 71.5,206.8 C70.6,206.8 69.8,206.9 68.9,206.7 C68.0,206.5 66.5,206.2 66.1,205.5 C65.8,204.7 66.2,203.2 66.7,202.2 C67.3,201.2 68.5,200.1 69.5,199.7 C70.4,199.3 71.5,199.1 72.3,199.7 C73.1,200.3 74.1,202.1 74.4,203.2 C74.7,204.3 74.6,205.7 74.1,206.3Z" fill="none" stroke="#2f9a3c" stroke-width="0.6" stroke-opacity="0.52"/><path d="M80.8,207.6 C79.8,207.8 77.5,207.1 76.8,206.6 C76.0,206.2 76.3,205.8 76.2,205.1 C76.1,204.5 75.6,203.4 76.2,202.8 C76.8,202.2 78.9,201.6 79.8,201.3 C80.7,201.1 81.1,201.1 81.7,201.4 C82.3,201.7 83.2,202.6 83.3,203.3 C83.5,204.0 83.1,204.7 82.7,205.4 C82.3,206.1 81.8,207.3 80.8,207.6Z" fill="none" stroke="#8fcf94" stroke-width="1.8" stroke-opacity="0.5"/><path d="M80.8,207.6 C79.8,207.8 77.5,207.1 76.8,206.6 C76.0,206.2 76.3,205.8 76.2,205.1 C76.1,204.5 75.6,203.4 76.2,202.8 C76.8,202.2 78.9,201.6 79.8,201.3 C80.7,201.1 81.1,201.1 81.7,201.4 C82.3,201.7 83.2,202.6 83.3,203.3 C83.5,204.0 83.1,204.7 82.7,205.4 C82.3,206.1 81.8,207.3 80.8,207.6Z" fill="none" stroke="#2f9a3c" stroke-width="0.6" stroke-opacity="0.55"/><path d="M91.9,205.3 C91.6,206.2 90.8,206.9 90.0,207.1 C89.3,207.4 88.2,207.0 87.4,206.7 C86.7,206.4 85.9,206.0 85.5,205.4 C85.2,204.7 84.8,203.6 85.2,202.9 C85.6,202.1 87.0,201.1 87.9,200.7 C88.7,200.3 89.5,200.5 90.1,200.7 C90.7,200.9 91.1,201.1 91.4,201.8 C91.7,202.6 92.1,204.4 91.9,205.3Z" fill="none" stroke="#8fcf94" stroke-width="1.8" stroke-opacity="0.5"/><path d="M91.9,205.3 C91.6,206.2 90.8,206.9 90.0,207.1 C89.3,207.4 88.2,207.0 87.4,206.7 C86.7,206.4 85.9,206.0 85.5,205.4 C85.2,204.7 84.8,203.6 85.2,202.9 C85.6,202.1 87.0,201.1 87.9,200.7 C88.7,200.3 89.5,200.5 90.1,200.7 C90.7,200.9 91.1,201.1 91.4,201.8 C91.7,202.6 92.1,204.4 91.9,205.3Z" fill="none" stroke="#2f9a3c" stroke-width="0.6" stroke-opacity="0.58"/><path d="M99.3,206.7 C98.4,207.2 96.7,206.8 95.8,206.3 C95.0,205.8 94.6,204.6 94.3,203.7 C94.0,202.8 93.8,201.4 94.2,200.7 C94.5,200.1 95.7,199.7 96.4,199.6 C97.1,199.5 97.7,199.7 98.4,200.0 C99.2,200.3 100.5,201.0 101.1,201.6 C101.6,202.2 101.9,202.7 101.6,203.6 C101.3,204.4 100.3,206.3 99.3,206.7Z" fill="none" stroke="#8fcf94" stroke-width="1.8" stroke-opacity="0.5"/><path d="M99.3,206.7 C98.4,207.2 96.7,206.8 95.8,206.3 C95.0,205.8 94.6,204.6 94.3,203.7 C94.0,202.8 93.8,201.4 94.2,200.7 C94.5,200.1 95.7,199.7 96.4,199.6 C97.1,199.5 97.7,199.7 98.4,200.0 C99.2,200.3 100.5,201.0 101.1,201.6 C101.6,202.2 101.9,202.7 101.6,203.6 C101.3,204.4 100.3,206.3 99.3,206.7Z" fill="none" stroke="#2f9a3c" stroke-width="0.6" stroke-opacity="0.57"/><path d="M50.5,215.1 C49.7,215.1 48.4,214.7 47.5,214.3 C46.6,213.8 45.6,213.4 45.4,212.6 C45.2,211.8 45.7,210.1 46.2,209.4 C46.8,208.8 47.9,209.0 48.7,208.9 C49.5,208.8 50.2,208.6 50.9,208.9 C51.7,209.1 52.9,209.6 53.2,210.5 C53.5,211.3 53.0,213.0 52.6,213.8 C52.1,214.5 51.4,215.0 50.5,215.1Z" fill="none" stroke="#8fcf94" stroke-width="1.8" stroke-opacity="0.5"/><path d="M50.5,215.1 C49.7,215.1 48.4,214.7 47.5,214.3 C46.6,213.8 45.6,213.4 45.4,212.6 C45.2,211.8 45.7,210.1 46.2,209.4 C46.8,208.8 47.9,209.0 48.7,208.9 C49.5,208.8 50.2,208.6 50.9,208.9 C51.7,209.1 52.9,209.6 53.2,210.5 C53.5,211.3 53.0,213.0 52.6,213.8 C52.1,214.5 51.4,215.0 50.5,215.1Z" fill="none" stroke="#2f9a3c" stroke-width="0.6" stroke-opacity="0.46"/><path d="M59.5,211.5 C58.8,211.8 57.5,211.9 56.9,211.6 C56.4,211.4 56.4,210.7 56.2,210.1 C56.0,209.5 55.7,208.5 55.9,207.9 C56.2,207.3 57.0,206.5 57.6,206.3 C58.3,206.0 59.3,206.1 59.8,206.3 C60.3,206.6 60.4,207.1 60.6,207.6 C60.8,208.1 61.1,208.9 60.9,209.5 C60.7,210.2 60.1,211.1 59.5,211.5Z" fill="none" stroke="#8fcf94" stroke-width="1.8" stroke-opacity="0.5"/><path d="M59.5,211.5 C58.8,211.8 57.5,211.9 56.9,211.6 C56.4,211.4 56.4,210.7 56.2,210.1 C56.0,209.5 55.7,208.5 55.9,207.9 C56.2,207.3 57.0,206.5 57.6,206.3 C58.3,206.0 59.3,206.1 59.8,206.3 C60.3,206.6 60.4,207.1 60.6,207.6 C60.8,208.1 61.1,208.9 60.9,209.5 C60.7,210.2 60.1,211.1 59.5,211.5Z" fill="none" stroke="#2f9a3c" stroke-width="0.6" stroke-opacity="0.48"/><path d="M67.5,212.5 C66.7,212.6 65.7,212.8 64.8,212.4 C63.9,212.0 62.1,211.0 62.1,210.1 C62.1,209.2 63.8,207.6 64.6,206.9 C65.5,206.3 66.3,206.2 67.2,206.1 C68.1,206.0 69.3,205.8 70.0,206.3 C70.8,206.8 71.8,208.0 71.8,209.0 C71.7,209.9 70.6,211.3 69.8,211.9 C69.1,212.5 68.4,212.4 67.5,212.5Z" fill="none" stroke="#8fcf94" stroke-width="1.8" stroke-opacity="0.5"/><path d="M67.5,212.5 C66.7,212.6 65.7,212.8 64.8,212.4 C63.9,212.0 62.1,211.0 62.1,210.1 C62.1,209.2 63.8,207.6 64.6,206.9 C65.5,206.3 66.3,206.2 67.2,206.1 C68.1,206.0 69.3,205.8 70.0,206.3 C70.8,206.8 71.8,208.0 71.8,209.0 C71.7,209.9 70.6,211.3 69.8,211.9 C69.1,212.5 68.4,212.4 67.5,212.5Z" fill="none" stroke="#2f9a3c" stroke-width="0.6" stroke-opacity="0.48"/><path d="M76.6,209.7 C76.2,210.2 75.0,211.1 74.3,211.4 C73.5,211.7 72.6,211.4 72.0,211.2 C71.3,211.1 70.5,211.0 70.3,210.6 C70.2,210.2 70.7,209.4 71.1,208.8 C71.5,208.1 72.1,207.2 72.8,206.8 C73.4,206.4 74.1,206.4 74.8,206.6 C75.5,206.8 76.6,207.5 76.9,208.0 C77.1,208.5 77.0,209.1 76.6,209.7Z" fill="none" stroke="#8fcf94" stroke-width="1.8" stroke-opacity="0.5"/><path d="M76.6,209.7 C76.2,210.2 75.0,211.1 74.3,211.4 C73.5,211.7 72.6,211.4 72.0,211.2 C71.3,211.1 70.5,211.0 70.3,210.6 C70.2,210.2 70.7,209.4 71.1,208.8 C71.5,208.1 72.1,207.2 72.8,206.8 C73.4,206.4 74.1,206.4 74.8,206.6 C75.5,206.8 76.6,207.5 76.9,208.0 C77.1,208.5 77.0,209.1 76.6,209.7Z" fill="none" stroke="#2f9a3c" stroke-width="0.6" stroke-opacity="0.58"/><path d="M86.1,210.4 C85.8,211.0 85.4,212.0 84.8,212.3 C84.3,212.5 83.4,212.0 82.6,211.9 C81.7,211.7 80.4,211.8 79.9,211.4 C79.5,211.0 79.7,210.0 79.9,209.4 C80.1,208.7 80.5,208.1 81.2,207.7 C81.8,207.2 82.9,206.6 83.8,206.9 C84.6,207.1 85.8,208.5 86.2,209.1 C86.6,209.7 86.3,209.9 86.1,210.4Z" fill="none" stroke="#8fcf94" stroke-width="1.8" stroke-opacity="0.5"/><path d="M86.1,210.4 C85.8,211.0 85.4,212.0 84.8,212.3 C84.3,212.5 83.4,212.0 82.6,211.9 C81.7,211.7 80.4,211.8 79.9,211.4 C79.5,211.0 79.7,210.0 79.9,209.4 C80.1,208.7 80.5,208.1 81.2,207.7 C81.8,207.2 82.9,206.6 83.8,206.9 C84.6,207.1 85.8,208.5 86.2,209.1 C86.6,209.7 86.3,209.9 86.1,210.4Z" fill="none" stroke="#2f9a3c" stroke-width="0.6" stroke-opacity="0.51"/><path d="M49.9,212.2 C51.2,210.8 55.3,209.4 58.3,208.4 C61.2,207.4 64.1,206.7 67.8,206.1 C71.4,205.5 76.4,205.9 80.4,204.9 C84.5,203.9 88.8,201.2 92.1,200.2 C95.3,199.1 98.2,198.4 99.9,198.5 C101.7,198.6 103.2,199.7 102.6,200.8 C102.0,202.0 99.6,204.0 96.5,205.4 C93.3,206.9 88.0,208.0 83.7,209.3 C79.4,210.6 74.7,212.2 70.4,213.3 C66.1,214.5 61.3,215.6 57.9,216.1 C54.6,216.7 51.6,217.1 50.3,216.5 C49.0,215.8 48.6,213.5 49.9,212.2Z" fill="none" stroke="#8fcf94" stroke-width="2.6" stroke-opacity="0.55"/><path d="M49.9,212.2 C51.2,210.8 55.3,209.4 58.3,208.4 C61.2,207.4 64.1,206.7 67.8,206.1 C71.4,205.5 76.4,205.9 80.4,204.9 C84.5,203.9 88.8,201.2 92.1,200.2 C95.3,199.1 98.2,198.4 99.9,198.5 C101.7,198.6 103.2,199.7 102.6,200.8 C102.0,202.0 99.6,204.0 96.5,205.4 C93.3,206.9 88.0,208.0 83.7,209.3 C79.4,210.6 74.7,212.2 70.4,213.3 C66.1,214.5 61.3,215.6 57.9,216.1 C54.6,216.7 51.6,217.1 50.3,216.5 C49.0,215.8 48.6,213.5 49.9,212.2Z" fill="none" stroke="#2f9a3c" stroke-width="0.7" stroke-opacity="0.65"/><path d="M60.1,209.8 C60.8,208.9 62.8,208.1 64.7,207.5 C66.5,207.0 69.0,206.8 71.3,206.4 C73.6,206.1 76.2,206.0 78.5,205.4 C80.8,204.8 83.1,203.4 85.1,202.9 C87.1,202.3 89.4,202.1 90.5,202.2 C91.6,202.3 92.3,202.7 91.8,203.4 C91.3,204.1 89.3,205.6 87.4,206.5 C85.5,207.3 83.0,207.6 80.5,208.4 C78.0,209.2 75.0,210.6 72.4,211.2 C69.9,211.9 67.0,212.0 65.0,212.3 C63.0,212.6 61.3,213.4 60.4,213.0 C59.6,212.6 59.3,210.7 60.1,209.8Z" fill="none" stroke="#8fcf94" stroke-width="2.6" stroke-opacity="0.55"/><path d="M60.1,209.8 C60.8,208.9 62.8,208.1 64.7,207.5 C66.5,207.0 69.0,206.8 71.3,206.4 C73.6,206.1 76.2,206.0 78.5,205.4 C80.8,204.8 83.1,203.4 85.1,202.9 C87.1,202.3 89.4,202.1 90.5,202.2 C91.6,202.3 92.3,202.7 91.8,203.4 C91.3,204.1 89.3,205.6 87.4,206.5 C85.5,207.3 83.0,207.6 80.5,208.4 C78.0,209.2 75.0,210.6 72.4,211.2 C69.9,211.9 67.0,212.0 65.0,212.3 C63.0,212.6 61.3,213.4 60.4,213.0 C59.6,212.6 59.3,210.7 60.1,209.8Z" fill="none" stroke="#2f9a3c" stroke-width="0.7" stroke-opacity="0.75"/><path d="M64.4,233.2 C64.3,233.7 64.6,234.1 64.3,234.6 C63.9,235.0 62.9,235.7 62.3,235.9 C61.8,236.0 61.6,235.8 61.1,235.6 C60.6,235.3 59.8,234.8 59.3,234.3 C58.8,233.9 58.2,233.4 58.2,232.9 C58.2,232.3 58.9,231.4 59.4,231.0 C59.8,230.5 60.6,230.3 61.1,230.2 C61.6,230.0 61.8,229.7 62.4,230.0 C63.0,230.2 64.3,231.1 64.6,231.7 C65.0,232.2 64.4,232.7 64.4,233.2Z" fill="none" stroke="#8fcf94" stroke-width="2.4" stroke-opacity="0.4"/><path d="M64.4,233.2 C64.3,233.7 64.6,234.1 64.3,234.6 C63.9,235.0 62.9,235.7 62.3,235.9 C61.8,236.0 61.6,235.8 61.1,235.6 C60.6,235.3 59.8,234.8 59.3,234.3 C58.8,233.9 58.2,233.4 58.2,232.9 C58.2,232.3 58.9,231.4 59.4,231.0 C59.8,230.5 60.6,230.3 61.1,230.2 C61.6,230.0 61.8,229.7 62.4,230.0 C63.0,230.2 64.3,231.1 64.6,231.7 C65.0,232.2 64.4,232.7 64.4,233.2Z" fill="none" stroke="#2f9a3c" stroke-width="0.7" stroke-opacity="0.48"/><circle cx="39.3" cy="220.7" r="6.2" fill="#bdbdbd" fill-opacity="0.6"/><circle cx="39.3" cy="220.7" r="6.0" fill="none" stroke="#3a3a3a" stroke-width="0.7" stroke-opacity="0.55"/><circle cx="39.3" cy="220.7" r="4.6" fill="none" stroke="#3a3a3a" stroke-width="1.0" stroke-opacity="0.65"/><circle cx="39.3" cy="220.7" r="3.2" fill="none" stroke="#3a3a3a" stroke-width="1.0" stroke-opacity="0.75"/><circle cx="39.3" cy="220.7" r="1.9" fill="none" stroke="#3a3a3a" stroke-width="1.0" stroke-opacity="0.85"/><circle cx="39.3" cy="220.7" r="0.7" fill="#fff"/><path d="M40.1,212.0 C39.9,212.7 39.1,214.3 38.6,214.8 C38.2,215.3 37.9,215.0 37.5,215.1 C37.1,215.1 36.7,215.5 36.3,215.3 C36.0,215.1 35.5,214.5 35.3,214.0 C35.0,213.5 34.9,212.7 34.9,212.2 C34.8,211.7 34.7,211.4 35.0,211.0 C35.3,210.5 35.9,210.1 36.4,209.8 C36.9,209.4 37.5,208.8 38.0,208.9 C38.5,209.0 39.1,210.1 39.5,210.6 C39.8,211.1 40.2,211.3 40.1,212.0Z" fill="none" stroke="#9a9a9a" stroke-width="2.4" stroke-opacity="0.3"/><path d="M40.1,212.0 C39.9,212.7 39.1,214.3 38.6,214.8 C38.2,215.3 37.9,215.0 37.5,215.1 C37.1,215.1 36.7,215.5 36.3,215.3 C36.0,215.1 35.5,214.5 35.3,214.0 C35.0,213.5 34.9,212.7 34.9,212.2 C34.8,211.7 34.7,211.4 35.0,211.0 C35.3,210.5 35.9,210.1 36.4,209.8 C36.9,209.4 37.5,208.8 38.0,208.9 C38.5,209.0 39.1,210.1 39.5,210.6 C39.8,211.1 40.2,211.3 40.1,212.0Z" fill="none" stroke="#3a3a3a" stroke-width="0.7" stroke-opacity="0.28"/><circle cx="53.4" cy="231.1" r="1" fill="#999"/><path d="M61.0,225.5 C61.5,223.9 64.0,221.9 66.0,220.5 C68.0,219.1 70.5,217.9 73.0,216.8 C75.5,215.8 78.4,214.8 81.0,214.2 C83.6,213.6 86.6,213.1 88.7,213.2 C90.8,213.2 92.5,213.7 93.5,214.5 C94.5,215.3 94.9,216.7 94.5,218.0 C94.1,219.3 92.8,221.0 91.0,222.5 C89.2,224.0 86.5,225.7 84.0,227.0 C81.5,228.3 78.4,229.5 76.0,230.3 C73.6,231.1 71.7,231.9 69.5,231.8 C67.3,231.8 64.4,231.1 63.0,230.0 C61.6,228.9 60.5,227.1 61.0,225.5Z" fill="#fbe2c8" fill-opacity="0.8"/><path d="M61.4,225.9 C62.0,224.3 64.4,221.6 66.4,220.1 C68.3,218.5 70.7,217.8 73.1,216.7 C75.5,215.7 78.5,214.4 81.0,213.8 C83.6,213.2 86.4,213.0 88.4,213.1 C90.4,213.2 92.3,213.7 93.2,214.5 C94.2,215.2 94.4,216.3 94.0,217.6 C93.7,218.9 92.9,220.8 91.2,222.4 C89.5,224.0 86.6,226.0 84.0,227.2 C81.5,228.5 78.2,229.1 75.9,229.9 C73.5,230.6 71.9,231.8 69.8,231.9 C67.7,231.9 64.6,231.1 63.2,230.1 C61.8,229.1 60.9,227.6 61.4,225.9Z" fill="none" stroke="#f8c08a" stroke-width="2.6" stroke-opacity="0.6"/><path d="M61.4,225.9 C62.0,224.3 64.4,221.6 66.4,220.1 C68.3,218.5 70.7,217.8 73.1,216.7 C75.5,215.7 78.5,214.4 81.0,213.8 C83.6,213.2 86.4,213.0 88.4,213.1 C90.4,213.2 92.3,213.7 93.2,214.5 C94.2,215.2 94.4,216.3 94.0,217.6 C93.7,218.9 92.9,220.8 91.2,222.4 C89.5,224.0 86.6,226.0 84.0,227.2 C81.5,228.5 78.2,229.1 75.9,229.9 C73.5,230.6 71.9,231.8 69.8,231.9 C67.7,231.9 64.6,231.1 63.2,230.1 C61.8,229.1 60.9,227.6 61.4,225.9Z" fill="none" stroke="#f08a30" stroke-width="0.7" stroke-opacity="0.84"/><path d="M65.7,224.8 C65.9,223.7 67.8,222.1 69.3,221.0 C70.8,219.9 72.9,218.8 74.7,218.1 C76.4,217.3 78.0,216.7 79.9,216.3 C81.8,215.9 84.5,215.7 86.1,215.7 C87.7,215.8 88.7,216.2 89.3,216.7 C89.9,217.2 90.1,217.8 89.8,218.8 C89.4,219.8 88.6,221.6 87.4,222.7 C86.1,223.8 84.0,224.4 82.2,225.2 C80.3,226.1 78.0,226.9 76.3,227.6 C74.5,228.2 73.2,229.2 71.7,229.2 C70.3,229.2 68.6,228.4 67.6,227.6 C66.6,226.9 65.4,225.9 65.7,224.8Z" fill="none" stroke="#f8c08a" stroke-width="2.6" stroke-opacity="0.6"/><path d="M65.7,224.8 C65.9,223.7 67.8,222.1 69.3,221.0 C70.8,219.9 72.9,218.8 74.7,218.1 C76.4,217.3 78.0,216.7 79.9,216.3 C81.8,215.9 84.5,215.7 86.1,215.7 C87.7,215.8 88.7,216.2 89.3,216.7 C89.9,217.2 90.1,217.8 89.8,218.8 C89.4,219.8 88.6,221.6 87.4,222.7 C86.1,223.8 84.0,224.4 82.2,225.2 C80.3,226.1 78.0,226.9 76.3,227.6 C74.5,228.2 73.2,229.2 71.7,229.2 C70.3,229.2 68.6,228.4 67.6,227.6 C66.6,226.9 65.4,225.9 65.7,224.8Z" fill="none" stroke="#f08a30" stroke-width="0.7" stroke-opacity="0.69"/><path d="M70.4,223.4 C70.6,222.6 72.2,222.1 73.1,221.4 C74.0,220.7 74.6,219.7 75.7,219.3 C76.9,218.8 78.6,219.0 79.9,218.7 C81.1,218.5 82.5,217.7 83.4,217.8 C84.3,217.8 84.9,218.6 85.3,219.1 C85.7,219.5 86.0,220.0 85.8,220.7 C85.5,221.3 84.6,222.1 83.8,222.7 C82.9,223.3 81.6,223.6 80.5,224.2 C79.3,224.7 77.8,225.6 76.9,226.1 C75.9,226.5 75.4,226.9 74.6,226.9 C73.8,226.9 72.5,226.6 71.8,226.1 C71.1,225.5 70.2,224.2 70.4,223.4Z" fill="none" stroke="#f8c08a" stroke-width="2.6" stroke-opacity="0.6"/><path d="M70.4,223.4 C70.6,222.6 72.2,222.1 73.1,221.4 C74.0,220.7 74.6,219.7 75.7,219.3 C76.9,218.8 78.6,219.0 79.9,218.7 C81.1,218.5 82.5,217.7 83.4,217.8 C84.3,217.8 84.9,218.6 85.3,219.1 C85.7,219.5 86.0,220.0 85.8,220.7 C85.5,221.3 84.6,222.1 83.8,222.7 C82.9,223.3 81.6,223.6 80.5,224.2 C79.3,224.7 77.8,225.6 76.9,226.1 C75.9,226.5 75.4,226.9 74.6,226.9 C73.8,226.9 72.5,226.6 71.8,226.1 C71.1,225.5 70.2,224.2 70.4,223.4Z" fill="none" stroke="#f08a30" stroke-width="0.7" stroke-opacity="0.73"/><circle cx="52.3" cy="238.4" r="2.6" fill="#f8c8a8" fill-opacity="0.8"/><circle cx="48.7" cy="241" r="0.6" fill="#6a6ae0"/><path d="M56.4,251.0 C57.1,249.6 59.7,246.9 62.0,245.0 C64.3,243.1 67.5,240.9 70.0,239.5 C72.5,238.1 75.3,236.8 77.0,236.5 C78.7,236.2 80.0,236.6 80.3,237.5 C80.6,238.4 80.2,240.4 79.0,242.0 C77.8,243.6 75.3,245.4 73.0,247.0 C70.7,248.6 67.5,250.4 65.0,251.5 C62.5,252.6 59.4,253.6 58.0,253.5 C56.6,253.4 55.7,252.4 56.4,251.0Z" fill="#fbd8d8" fill-opacity="0.7"/><path d="M56.6,251.3 C57.2,249.9 59.5,247.4 61.7,245.5 C63.9,243.6 67.2,241.1 69.7,239.7 C72.2,238.2 74.9,237.1 76.6,236.8 C78.3,236.4 79.5,236.8 80.0,237.7 C80.4,238.6 80.4,240.7 79.2,242.3 C78.1,243.9 75.2,245.9 72.9,247.4 C70.7,248.8 68.0,250.0 65.5,251.1 C63.0,252.2 59.5,253.9 58.0,254.0 C56.5,254.0 56.0,252.7 56.6,251.3Z" fill="none" stroke="#f09aa0" stroke-width="2.2" stroke-opacity="0.55"/><path d="M56.6,251.3 C57.2,249.9 59.5,247.4 61.7,245.5 C63.9,243.6 67.2,241.1 69.7,239.7 C72.2,238.2 74.9,237.1 76.6,236.8 C78.3,236.4 79.5,236.8 80.0,237.7 C80.4,238.6 80.4,240.7 79.2,242.3 C78.1,243.9 75.2,245.9 72.9,247.4 C70.7,248.8 68.0,250.0 65.5,251.1 C63.0,252.2 59.5,253.9 58.0,254.0 C56.5,254.0 56.0,252.7 56.6,251.3Z" fill="none" stroke="#d8283a" stroke-width="0.7" stroke-opacity="0.83"/><path d="M60.4,248.8 C61.0,247.7 63.1,245.7 64.7,244.5 C66.3,243.3 68.4,242.5 69.9,241.6 C71.5,240.7 73.0,239.3 74.0,239.0 C75.1,238.8 76.2,239.2 76.4,239.9 C76.7,240.6 76.3,242.3 75.6,243.3 C74.9,244.3 73.6,245.2 72.1,246.1 C70.6,247.0 68.5,248.1 66.7,248.9 C64.9,249.7 62.2,250.9 61.2,250.8 C60.1,250.8 59.8,249.9 60.4,248.8Z" fill="none" stroke="#f09aa0" stroke-width="2.2" stroke-opacity="0.55"/><path d="M60.4,248.8 C61.0,247.7 63.1,245.7 64.7,244.5 C66.3,243.3 68.4,242.5 69.9,241.6 C71.5,240.7 73.0,239.3 74.0,239.0 C75.1,238.8 76.2,239.2 76.4,239.9 C76.7,240.6 76.3,242.3 75.6,243.3 C74.9,244.3 73.6,245.2 72.1,246.1 C70.6,247.0 68.5,248.1 66.7,248.9 C64.9,249.7 62.2,250.9 61.2,250.8 C60.1,250.8 59.8,249.9 60.4,248.8Z" fill="none" stroke="#d8283a" stroke-width="0.7" stroke-opacity="0.85"/><path d="M64.9,247.5 C65.1,246.9 66.1,245.3 66.9,244.7 C67.7,244.0 68.8,243.8 69.6,243.4 C70.3,242.9 70.9,242.2 71.4,241.9 C71.9,241.7 72.4,241.6 72.6,241.9 C72.8,242.3 72.7,243.5 72.5,244.0 C72.2,244.6 71.7,244.6 70.9,245.2 C70.0,245.8 68.5,247.2 67.6,247.7 C66.7,248.1 65.8,247.9 65.4,247.9 C64.9,247.9 64.6,248.0 64.9,247.5Z" fill="none" stroke="#f09aa0" stroke-width="2.2" stroke-opacity="0.55"/><path d="M64.9,247.5 C65.1,246.9 66.1,245.3 66.9,244.7 C67.7,244.0 68.8,243.8 69.6,243.4 C70.3,242.9 70.9,242.2 71.4,241.9 C71.9,241.7 72.4,241.6 72.6,241.9 C72.8,242.3 72.7,243.5 72.5,244.0 C72.2,244.6 71.7,244.6 70.9,245.2 C70.0,245.8 68.5,247.2 67.6,247.7 C66.7,248.1 65.8,247.9 65.4,247.9 C64.9,247.9 64.6,248.0 64.9,247.5Z" fill="none" stroke="#d8283a" stroke-width="0.7" stroke-opacity="0.70"/><path d="M59.5,242.9 C59.5,243.1 59.8,242.7 59.7,242.9 C59.6,243.0 59.4,243.5 59.1,243.7 C58.7,243.9 57.8,244.1 57.4,244.0 C57.1,243.9 57.1,243.2 57.0,243.0 C56.9,242.7 56.9,242.7 56.9,242.6 C56.9,242.4 56.7,242.2 56.9,242.0 C57.1,241.9 57.9,241.5 58.2,241.5 C58.6,241.4 58.8,241.6 59.0,241.6 C59.2,241.6 59.6,241.3 59.7,241.5 C59.8,241.8 59.5,242.7 59.5,242.9Z" fill="none" stroke="#f09aa0" stroke-width="1.2" stroke-opacity="0.3"/><path d="M59.5,242.9 C59.5,243.1 59.8,242.7 59.7,242.9 C59.6,243.0 59.4,243.5 59.1,243.7 C58.7,243.9 57.8,244.1 57.4,244.0 C57.1,243.9 57.1,243.2 57.0,243.0 C56.9,242.7 56.9,242.7 56.9,242.6 C56.9,242.4 56.7,242.2 56.9,242.0 C57.1,241.9 57.9,241.5 58.2,241.5 C58.6,241.4 58.8,241.6 59.0,241.6 C59.2,241.6 59.6,241.3 59.7,241.5 C59.8,241.8 59.5,242.7 59.5,242.9Z" fill="none" stroke="#d8283a" stroke-width="0.7" stroke-opacity="0.32"/><path d="M83.2,262.5 C83.1,262.9 82.7,263.5 82.4,263.9 C82.1,264.3 81.7,264.7 81.5,264.7 C81.3,264.7 81.5,264.1 81.3,264.0 C81.1,263.8 80.7,263.9 80.5,263.8 C80.3,263.7 80.1,263.6 80.1,263.3 C80.2,262.9 80.6,262.0 80.8,261.7 C81.0,261.4 81.1,261.6 81.4,261.5 C81.7,261.3 82.1,260.7 82.4,260.7 C82.7,260.7 83.0,261.2 83.2,261.5 C83.3,261.8 83.4,262.1 83.2,262.5Z" fill="none" stroke="#f09aa0" stroke-width="1.2" stroke-opacity="0.4"/><path d="M83.2,262.5 C83.1,262.9 82.7,263.5 82.4,263.9 C82.1,264.3 81.7,264.7 81.5,264.7 C81.3,264.7 81.5,264.1 81.3,264.0 C81.1,263.8 80.7,263.9 80.5,263.8 C80.3,263.7 80.1,263.6 80.1,263.3 C80.2,262.9 80.6,262.0 80.8,261.7 C81.0,261.4 81.1,261.6 81.4,261.5 C81.7,261.3 82.1,260.7 82.4,260.7 C82.7,260.7 83.0,261.2 83.2,261.5 C83.3,261.8 83.4,262.1 83.2,262.5Z" fill="none" stroke="#d8283a" stroke-width="0.7" stroke-opacity="0.30"/><path d="M103.8,201.5 C105.4,200.2 107.6,200.3 110.0,200.0 C112.4,199.7 115.7,199.5 118.0,199.5 C120.3,199.5 122.4,199.5 124.0,200.0 C125.6,200.5 126.7,201.3 127.5,202.5 C128.3,203.7 128.4,204.9 128.6,207.0 C128.8,209.1 128.8,211.8 128.7,215.0 C128.6,218.2 128.3,221.3 128.0,226.0 C127.7,230.7 127.4,238.2 127.0,243.0 C126.6,247.8 126.1,252.1 125.5,255.0 C124.9,257.9 124.4,259.1 123.5,260.5 C122.6,261.9 122.2,262.7 120.0,263.3 C117.8,263.9 114.0,264.1 110.0,264.2 C106.0,264.3 99.4,264.3 96.0,264.2 C92.6,264.1 91.0,263.7 89.5,263.3 C88.0,262.9 87.8,262.8 87.0,262.0 C86.2,261.2 85.3,260.3 84.8,258.5 C84.2,256.7 83.9,253.8 83.7,251.3 C83.5,248.8 83.4,246.1 83.7,243.5 C84.0,240.9 84.8,238.1 85.5,236.0 C86.2,233.9 86.8,232.8 88.0,231.0 C89.2,229.2 91.4,227.8 93.0,225.5 C94.6,223.2 96.2,219.9 97.5,217.0 C98.8,214.1 99.5,210.6 100.5,208.0 C101.5,205.4 102.2,202.8 103.8,201.5Z" fill="#fdf0f0" fill-opacity="0.9"/><path d="M103.9,201.6 C105.5,200.3 108.0,200.1 110.3,199.8 C112.6,199.5 115.5,199.7 117.7,199.7 C120.0,199.7 122.2,199.5 123.9,199.9 C125.6,200.4 126.9,201.1 127.7,202.3 C128.5,203.5 128.7,204.8 128.8,207.0 C129.0,209.2 128.6,212.1 128.4,215.3 C128.3,218.4 128.3,221.1 128.0,225.7 C127.8,230.4 127.6,238.3 127.2,243.2 C126.8,248.1 126.2,252.3 125.6,255.1 C125.1,257.9 124.7,258.8 123.8,260.2 C122.9,261.6 122.6,262.7 120.3,263.4 C118.0,264.1 113.9,264.1 109.9,264.3 C105.8,264.4 99.3,264.4 95.9,264.3 C92.5,264.1 91.1,263.7 89.6,263.3 C88.1,262.9 87.6,262.7 86.8,261.9 C85.9,261.2 85.1,260.4 84.7,258.6 C84.2,256.9 84.1,254.0 84.0,251.5 C83.8,248.9 83.4,245.9 83.7,243.3 C84.0,240.7 84.9,237.9 85.6,235.9 C86.4,233.8 87.0,232.6 88.3,230.8 C89.6,229.0 91.7,227.5 93.3,225.2 C94.8,222.9 96.5,219.8 97.7,216.9 C98.9,214.0 99.5,210.5 100.5,207.9 C101.6,205.4 102.3,203.0 103.9,201.6Z" fill="none" stroke="#f09aa0" stroke-width="2.6" stroke-opacity="0.6"/><path d="M103.9,201.6 C105.5,200.3 108.0,200.1 110.3,199.8 C112.6,199.5 115.5,199.7 117.7,199.7 C120.0,199.7 122.2,199.5 123.9,199.9 C125.6,200.4 126.9,201.1 127.7,202.3 C128.5,203.5 128.7,204.8 128.8,207.0 C129.0,209.2 128.6,212.1 128.4,215.3 C128.3,218.4 128.3,221.1 128.0,225.7 C127.8,230.4 127.6,238.3 127.2,243.2 C126.8,248.1 126.2,252.3 125.6,255.1 C125.1,257.9 124.7,258.8 123.8,260.2 C122.9,261.6 122.6,262.7 120.3,263.4 C118.0,264.1 113.9,264.1 109.9,264.3 C105.8,264.4 99.3,264.4 95.9,264.3 C92.5,264.1 91.1,263.7 89.6,263.3 C88.1,262.9 87.6,262.7 86.8,261.9 C85.9,261.2 85.1,260.4 84.7,258.6 C84.2,256.9 84.1,254.0 84.0,251.5 C83.8,248.9 83.4,245.9 83.7,243.3 C84.0,240.7 84.9,237.9 85.6,235.9 C86.4,233.8 87.0,232.6 88.3,230.8 C89.6,229.0 91.7,227.5 93.3,225.2 C94.8,222.9 96.5,219.8 97.7,216.9 C98.9,214.0 99.5,210.5 100.5,207.9 C101.6,205.4 102.3,203.0 103.9,201.6Z" fill="none" stroke="#d8283a" stroke-width="0.9" stroke-opacity="0.67"/><path d="M103.9,203.3 C105.4,202.0 107.5,202.0 109.8,201.6 C112.0,201.2 115.4,201.0 117.6,201.0 C119.8,201.0 121.6,201.2 123.1,201.7 C124.5,202.1 125.7,202.7 126.5,203.8 C127.2,204.9 127.5,206.3 127.7,208.3 C127.8,210.3 127.5,212.8 127.4,215.8 C127.2,218.8 126.9,221.8 126.7,226.3 C126.4,230.7 126.1,237.7 125.8,242.4 C125.4,247.0 125.1,251.2 124.6,254.0 C124.1,256.8 123.4,257.8 122.5,259.1 C121.7,260.4 121.4,261.3 119.3,261.8 C117.3,262.4 113.9,262.3 110.1,262.5 C106.3,262.6 100.0,262.8 96.7,262.7 C93.5,262.6 92.1,262.3 90.6,261.9 C89.1,261.5 88.4,261.1 87.7,260.3 C86.9,259.5 86.5,258.8 86.1,257.1 C85.6,255.4 85.1,252.5 84.9,250.2 C84.7,247.8 84.6,245.4 84.9,242.9 C85.2,240.5 85.8,237.5 86.5,235.6 C87.3,233.6 88.0,232.9 89.2,231.3 C90.4,229.7 92.4,228.2 93.8,226.0 C95.3,223.7 96.6,220.4 97.8,217.6 C99.0,214.8 100.0,211.6 101.0,209.2 C102.0,206.8 102.5,204.5 103.9,203.3Z" fill="none" stroke="#f09aa0" stroke-width="2.6" stroke-opacity="0.6"/><path d="M103.9,203.3 C105.4,202.0 107.5,202.0 109.8,201.6 C112.0,201.2 115.4,201.0 117.6,201.0 C119.8,201.0 121.6,201.2 123.1,201.7 C124.5,202.1 125.7,202.7 126.5,203.8 C127.2,204.9 127.5,206.3 127.7,208.3 C127.8,210.3 127.5,212.8 127.4,215.8 C127.2,218.8 126.9,221.8 126.7,226.3 C126.4,230.7 126.1,237.7 125.8,242.4 C125.4,247.0 125.1,251.2 124.6,254.0 C124.1,256.8 123.4,257.8 122.5,259.1 C121.7,260.4 121.4,261.3 119.3,261.8 C117.3,262.4 113.9,262.3 110.1,262.5 C106.3,262.6 100.0,262.8 96.7,262.7 C93.5,262.6 92.1,262.3 90.6,261.9 C89.1,261.5 88.4,261.1 87.7,260.3 C86.9,259.5 86.5,258.8 86.1,257.1 C85.6,255.4 85.1,252.5 84.9,250.2 C84.7,247.8 84.6,245.4 84.9,242.9 C85.2,240.5 85.8,237.5 86.5,235.6 C87.3,233.6 88.0,232.9 89.2,231.3 C90.4,229.7 92.4,228.2 93.8,226.0 C95.3,223.7 96.6,220.4 97.8,217.6 C99.0,214.8 100.0,211.6 101.0,209.2 C102.0,206.8 102.5,204.5 103.9,203.3Z" fill="none" stroke="#d8283a" stroke-width="0.9" stroke-opacity="0.69"/><path d="M100.0,212.0 C97.2,211.3 105.0,207.2 108.0,206.0 C111.0,204.8 115.2,204.3 118.0,205.0 C120.8,205.7 128.0,208.8 125.0,210.0" fill="none" stroke="#f09aa0" stroke-width="2.6" stroke-opacity="0.45" stroke-linecap="round"/><path d="M100.0,212.0 C97.2,211.3 105.0,207.2 108.0,206.0 C111.0,204.8 115.2,204.3 118.0,205.0 C120.8,205.7 128.0,208.8 125.0,210.0" fill="none" stroke="#d8283a" stroke-width="1.0" stroke-opacity="0.75" stroke-linecap="round"/><path d="M92.0,232.0 C87.7,230.0 97.0,227.3 100.0,226.0 C103.0,224.7 106.7,223.3 110.0,224.0 C113.3,224.7 117.3,227.7 120.0,230.0 C122.7,232.3 130.7,237.7 126.0,238.0" fill="none" stroke="#f09aa0" stroke-width="2.6" stroke-opacity="0.45" stroke-linecap="round"/><path d="M92.0,232.0 C87.7,230.0 97.0,227.3 100.0,226.0 C103.0,224.7 106.7,223.3 110.0,224.0 C113.3,224.7 117.3,227.7 120.0,230.0 C122.7,232.3 130.7,237.7 126.0,238.0" fill="none" stroke="#d8283a" stroke-width="1.0" stroke-opacity="0.75" stroke-linecap="round"/><path d="M88.0,250.0 C83.3,249.3 93.3,244.7 96.0,244.0 C98.7,243.3 101.7,244.7 104.0,246.0 C106.3,247.3 107.7,250.7 110.0,252.0 C112.3,253.3 115.7,254.7 118.0,254.0 C120.3,253.3 129.0,248.7 124.0,248.0" fill="none" stroke="#f09aa0" stroke-width="2.6" stroke-opacity="0.45" stroke-linecap="round"/><path d="M88.0,250.0 C83.3,249.3 93.3,244.7 96.0,244.0 C98.7,243.3 101.7,244.7 104.0,246.0 C106.3,247.3 107.7,250.7 110.0,252.0 C112.3,253.3 115.7,254.7 118.0,254.0 C120.3,253.3 129.0,248.7 124.0,248.0" fill="none" stroke="#d8283a" stroke-width="1.0" stroke-opacity="0.75" stroke-linecap="round"/><path d="M104.0,226.0 C105.7,223.3 106.3,232.7 106.0,236.0 C105.7,239.3 103.7,243.3 102.0,246.0 C100.3,248.7 95.7,255.3 96.0,252.0" fill="none" stroke="#f09aa0" stroke-width="2.6" stroke-opacity="0.45" stroke-linecap="round"/><path d="M104.0,226.0 C105.7,223.3 106.3,232.7 106.0,236.0 C105.7,239.3 103.7,243.3 102.0,246.0 C100.3,248.7 95.7,255.3 96.0,252.0" fill="none" stroke="#d8283a" stroke-width="1.0" stroke-opacity="0.75" stroke-linecap="round"/><path d="M116.0,214.0 C116.3,208.3 113.7,220.3 114.0,224.0 C114.3,227.7 117.7,232.3 118.0,236.0 C118.3,239.7 117.0,242.3 116.0,246.0 C115.0,249.7 112.0,263.3 112.0,258.0" fill="none" stroke="#f09aa0" stroke-width="2.6" stroke-opacity="0.45" stroke-linecap="round"/><path d="M116.0,214.0 C116.3,208.3 113.7,220.3 114.0,224.0 C114.3,227.7 117.7,232.3 118.0,236.0 C118.3,239.7 117.0,242.3 116.0,246.0 C115.0,249.7 112.0,263.3 112.0,258.0" fill="none" stroke="#d8283a" stroke-width="1.0" stroke-opacity="0.75" stroke-linecap="round"/><path d="M90.0,258.0 C86.3,258.5 96.3,260.5 100.0,261.0 C103.7,261.5 108.3,261.5 112.0,261.0 C115.7,260.5 125.7,258.5 122.0,258.0" fill="none" stroke="#f09aa0" stroke-width="2.6" stroke-opacity="0.45" stroke-linecap="round"/><path d="M90.0,258.0 C86.3,258.5 96.3,260.5 100.0,261.0 C103.7,261.5 108.3,261.5 112.0,261.0 C115.7,260.5 125.7,258.5 122.0,258.0" fill="none" stroke="#d8283a" stroke-width="1.0" stroke-opacity="0.75" stroke-linecap="round"/><path d="M112.9,211.7 C112.4,212.2 111.0,211.7 110.0,211.5 C109.0,211.2 107.5,211.2 106.8,210.3 C106.0,209.3 105.7,206.8 105.5,205.5 C105.4,204.3 105.1,203.2 105.8,202.9 C106.5,202.7 108.8,203.8 109.7,204.1 C110.7,204.5 110.9,204.2 111.5,204.9 C112.1,205.6 113.0,207.3 113.3,208.4 C113.5,209.6 113.5,211.2 112.9,211.7Z" fill="none" stroke="#f09aa0" stroke-width="1.8" stroke-opacity="0.4"/><path d="M112.9,211.7 C112.4,212.2 111.0,211.7 110.0,211.5 C109.0,211.2 107.5,211.2 106.8,210.3 C106.0,209.3 105.7,206.8 105.5,205.5 C105.4,204.3 105.1,203.2 105.8,202.9 C106.5,202.7 108.8,203.8 109.7,204.1 C110.7,204.5 110.9,204.2 111.5,204.9 C112.1,205.6 113.0,207.3 113.3,208.4 C113.5,209.6 113.5,211.2 112.9,211.7Z" fill="none" stroke="#d8283a" stroke-width="0.6" stroke-opacity="0.49"/><path d="M124.8,209.3 C124.0,210.3 122.6,211.5 121.5,211.6 C120.3,211.8 118.8,210.9 117.9,210.3 C117.0,209.6 115.9,209.0 115.9,207.8 C115.8,206.5 116.9,203.9 117.7,202.9 C118.4,202.0 119.2,202.2 120.3,202.2 C121.4,202.2 123.3,202.3 124.3,202.9 C125.4,203.5 126.4,204.8 126.4,205.8 C126.5,206.9 125.6,208.4 124.8,209.3Z" fill="none" stroke="#f09aa0" stroke-width="1.8" stroke-opacity="0.4"/><path d="M124.8,209.3 C124.0,210.3 122.6,211.5 121.5,211.6 C120.3,211.8 118.8,210.9 117.9,210.3 C117.0,209.6 115.9,209.0 115.9,207.8 C115.8,206.5 116.9,203.9 117.7,202.9 C118.4,202.0 119.2,202.2 120.3,202.2 C121.4,202.2 123.3,202.3 124.3,202.9 C125.4,203.5 126.4,204.8 126.4,205.8 C126.5,206.9 125.6,208.4 124.8,209.3Z" fill="none" stroke="#d8283a" stroke-width="0.6" stroke-opacity="0.43"/><path d="M110.0,218.8 C109.2,219.7 107.3,221.4 106.3,221.7 C105.3,221.9 104.6,221.0 103.9,220.3 C103.2,219.5 102.4,218.2 102.2,217.4 C102.0,216.6 102.1,215.9 102.7,215.2 C103.3,214.5 104.7,213.4 105.8,213.1 C106.8,212.7 108.1,212.7 109.0,213.2 C109.9,213.7 110.9,215.1 111.1,216.0 C111.3,216.9 110.8,217.8 110.0,218.8Z" fill="none" stroke="#f09aa0" stroke-width="1.8" stroke-opacity="0.4"/><path d="M110.0,218.8 C109.2,219.7 107.3,221.4 106.3,221.7 C105.3,221.9 104.6,221.0 103.9,220.3 C103.2,219.5 102.4,218.2 102.2,217.4 C102.0,216.6 102.1,215.9 102.7,215.2 C103.3,214.5 104.7,213.4 105.8,213.1 C106.8,212.7 108.1,212.7 109.0,213.2 C109.9,213.7 110.9,215.1 111.1,216.0 C111.3,216.9 110.8,217.8 110.0,218.8Z" fill="none" stroke="#d8283a" stroke-width="0.6" stroke-opacity="0.47"/><path d="M117.7,218.8 C116.7,219.0 114.9,218.0 114.1,217.4 C113.3,216.8 113.2,215.8 113.0,215.2 C112.8,214.5 112.4,214.2 112.9,213.6 C113.3,213.0 114.6,211.8 115.8,211.4 C117.0,211.1 119.1,211.3 120.0,211.6 C120.9,212.0 121.1,212.7 121.2,213.5 C121.3,214.2 121.1,215.4 120.6,216.3 C120.0,217.2 118.8,218.6 117.7,218.8Z" fill="none" stroke="#f09aa0" stroke-width="1.8" stroke-opacity="0.4"/><path d="M117.7,218.8 C116.7,219.0 114.9,218.0 114.1,217.4 C113.3,216.8 113.2,215.8 113.0,215.2 C112.8,214.5 112.4,214.2 112.9,213.6 C113.3,213.0 114.6,211.8 115.8,211.4 C117.0,211.1 119.1,211.3 120.0,211.6 C120.9,212.0 121.1,212.7 121.2,213.5 C121.3,214.2 121.1,215.4 120.6,216.3 C120.0,217.2 118.8,218.6 117.7,218.8Z" fill="none" stroke="#d8283a" stroke-width="0.6" stroke-opacity="0.56"/><path d="M103.1,227.1 C101.9,227.3 100.3,227.3 99.3,226.8 C98.3,226.4 97.2,225.1 97.0,224.2 C96.8,223.2 97.2,222.2 97.9,221.2 C98.6,220.2 99.9,218.5 101.2,218.2 C102.5,217.9 104.8,218.5 105.7,219.1 C106.5,219.8 106.4,221.1 106.5,222.1 C106.6,223.2 106.7,224.3 106.2,225.1 C105.6,226.0 104.2,226.8 103.1,227.1Z" fill="none" stroke="#f09aa0" stroke-width="1.8" stroke-opacity="0.4"/><path d="M103.1,227.1 C101.9,227.3 100.3,227.3 99.3,226.8 C98.3,226.4 97.2,225.1 97.0,224.2 C96.8,223.2 97.2,222.2 97.9,221.2 C98.6,220.2 99.9,218.5 101.2,218.2 C102.5,217.9 104.8,218.5 105.7,219.1 C106.5,219.8 106.4,221.1 106.5,222.1 C106.6,223.2 106.7,224.3 106.2,225.1 C105.6,226.0 104.2,226.8 103.1,227.1Z" fill="none" stroke="#d8283a" stroke-width="0.6" stroke-opacity="0.43"/><path d="M113.2,228.0 C112.4,228.5 110.4,229.1 109.3,228.6 C108.1,228.1 106.9,226.2 106.4,225.1 C105.9,224.1 106.3,223.6 106.3,222.6 C106.3,221.6 105.8,219.6 106.4,219.1 C107.0,218.6 109.0,218.8 109.8,219.4 C110.6,219.9 110.8,221.3 111.5,222.4 C112.1,223.4 113.4,224.8 113.7,225.7 C113.9,226.7 113.9,227.5 113.2,228.0Z" fill="none" stroke="#f09aa0" stroke-width="1.8" stroke-opacity="0.4"/><path d="M113.2,228.0 C112.4,228.5 110.4,229.1 109.3,228.6 C108.1,228.1 106.9,226.2 106.4,225.1 C105.9,224.1 106.3,223.6 106.3,222.6 C106.3,221.6 105.8,219.6 106.4,219.1 C107.0,218.6 109.0,218.8 109.8,219.4 C110.6,219.9 110.8,221.3 111.5,222.4 C112.1,223.4 113.4,224.8 113.7,225.7 C113.9,226.7 113.9,227.5 113.2,228.0Z" fill="none" stroke="#d8283a" stroke-width="0.6" stroke-opacity="0.58"/><path d="M121.8,228.3 C121.1,228.4 119.9,227.0 119.3,226.2 C118.7,225.5 118.5,224.7 118.4,223.6 C118.4,222.5 118.5,220.7 118.8,219.7 C119.2,218.8 119.8,217.9 120.5,218.0 C121.2,218.0 122.5,219.2 123.2,219.9 C124.0,220.6 124.8,221.0 125.0,222.0 C125.1,223.0 124.5,224.8 124.0,225.8 C123.5,226.9 122.6,228.2 121.8,228.3Z" fill="none" stroke="#f09aa0" stroke-width="1.8" stroke-opacity="0.4"/><path d="M121.8,228.3 C121.1,228.4 119.9,227.0 119.3,226.2 C118.7,225.5 118.5,224.7 118.4,223.6 C118.4,222.5 118.5,220.7 118.8,219.7 C119.2,218.8 119.8,217.9 120.5,218.0 C121.2,218.0 122.5,219.2 123.2,219.9 C124.0,220.6 124.8,221.0 125.0,222.0 C125.1,223.0 124.5,224.8 124.0,225.8 C123.5,226.9 122.6,228.2 121.8,228.3Z" fill="none" stroke="#d8283a" stroke-width="0.6" stroke-opacity="0.44"/><path d="M97.2,234.2 C96.4,234.2 95.3,233.8 94.6,233.5 C94.0,233.1 93.5,232.8 93.3,232.1 C93.2,231.3 93.3,229.7 93.8,229.0 C94.3,228.2 95.3,227.8 96.2,227.7 C97.1,227.6 98.6,228.0 99.3,228.5 C100.0,229.0 100.2,229.9 100.3,230.7 C100.3,231.4 100.2,232.4 99.7,233.0 C99.2,233.6 98.0,234.1 97.2,234.2Z" fill="none" stroke="#f09aa0" stroke-width="1.8" stroke-opacity="0.4"/><path d="M97.2,234.2 C96.4,234.2 95.3,233.8 94.6,233.5 C94.0,233.1 93.5,232.8 93.3,232.1 C93.2,231.3 93.3,229.7 93.8,229.0 C94.3,228.2 95.3,227.8 96.2,227.7 C97.1,227.6 98.6,228.0 99.3,228.5 C100.0,229.0 100.2,229.9 100.3,230.7 C100.3,231.4 100.2,232.4 99.7,233.0 C99.2,233.6 98.0,234.1 97.2,234.2Z" fill="none" stroke="#d8283a" stroke-width="0.6" stroke-opacity="0.50"/><path d="M109.8,231.6 C109.6,232.7 109.1,235.4 108.2,236.0 C107.4,236.7 105.9,236.1 104.8,235.7 C103.6,235.3 101.9,234.7 101.2,233.7 C100.4,232.8 100.2,230.8 100.5,229.8 C100.7,228.7 101.8,228.0 102.9,227.4 C103.9,226.9 105.5,226.2 106.6,226.5 C107.7,226.8 109.2,228.6 109.7,229.5 C110.2,230.4 110.1,230.5 109.8,231.6Z" fill="none" stroke="#f09aa0" stroke-width="1.8" stroke-opacity="0.4"/><path d="M109.8,231.6 C109.6,232.7 109.1,235.4 108.2,236.0 C107.4,236.7 105.9,236.1 104.8,235.7 C103.6,235.3 101.9,234.7 101.2,233.7 C100.4,232.8 100.2,230.8 100.5,229.8 C100.7,228.7 101.8,228.0 102.9,227.4 C103.9,226.9 105.5,226.2 106.6,226.5 C107.7,226.8 109.2,228.6 109.7,229.5 C110.2,230.4 110.1,230.5 109.8,231.6Z" fill="none" stroke="#d8283a" stroke-width="0.6" stroke-opacity="0.56"/><path d="M117.1,234.1 C116.1,234.2 115.1,234.0 114.2,233.7 C113.3,233.3 111.7,232.9 111.5,232.2 C111.4,231.5 112.7,230.0 113.3,229.3 C113.9,228.5 113.9,228.0 114.9,227.6 C116.0,227.3 118.8,226.8 119.7,227.1 C120.6,227.5 120.2,228.7 120.3,229.7 C120.3,230.7 120.6,232.4 120.0,233.1 C119.5,233.9 118.0,234.0 117.1,234.1Z" fill="none" stroke="#f09aa0" stroke-width="1.8" stroke-opacity="0.4"/><path d="M117.1,234.1 C116.1,234.2 115.1,234.0 114.2,233.7 C113.3,233.3 111.7,232.9 111.5,232.2 C111.4,231.5 112.7,230.0 113.3,229.3 C113.9,228.5 113.9,228.0 114.9,227.6 C116.0,227.3 118.8,226.8 119.7,227.1 C120.6,227.5 120.2,228.7 120.3,229.7 C120.3,230.7 120.6,232.4 120.0,233.1 C119.5,233.9 118.0,234.0 117.1,234.1Z" fill="none" stroke="#d8283a" stroke-width="0.6" stroke-opacity="0.46"/><path d="M94.8,242.5 C94.7,243.6 94.2,245.3 93.3,246.0 C92.3,246.6 90.1,246.6 89.1,246.4 C88.2,246.3 88.0,245.9 87.7,245.1 C87.3,244.2 86.9,242.7 87.2,241.4 C87.5,240.1 88.5,237.9 89.3,237.2 C90.0,236.5 91.1,237.0 91.8,237.3 C92.6,237.6 93.4,238.2 93.9,239.1 C94.4,239.9 94.9,241.3 94.8,242.5Z" fill="none" stroke="#f09aa0" stroke-width="1.8" stroke-opacity="0.4"/><path d="M94.8,242.5 C94.7,243.6 94.2,245.3 93.3,246.0 C92.3,246.6 90.1,246.6 89.1,246.4 C88.2,246.3 88.0,245.9 87.7,245.1 C87.3,244.2 86.9,242.7 87.2,241.4 C87.5,240.1 88.5,237.9 89.3,237.2 C90.0,236.5 91.1,237.0 91.8,237.3 C92.6,237.6 93.4,238.2 93.9,239.1 C94.4,239.9 94.9,241.3 94.8,242.5Z" fill="none" stroke="#d8283a" stroke-width="0.6" stroke-opacity="0.59"/><path d="M101.1,243.9 C100.1,244.1 98.9,244.1 98.1,243.7 C97.3,243.3 96.7,242.2 96.3,241.3 C95.9,240.4 95.6,239.4 95.8,238.5 C96.1,237.5 97.0,236.1 98.0,235.6 C98.9,235.1 100.3,235.0 101.4,235.6 C102.4,236.1 103.8,237.9 104.3,238.9 C104.8,240.0 104.7,241.1 104.1,241.9 C103.6,242.8 102.1,243.6 101.1,243.9Z" fill="none" stroke="#f09aa0" stroke-width="1.8" stroke-opacity="0.4"/><path d="M101.1,243.9 C100.1,244.1 98.9,244.1 98.1,243.7 C97.3,243.3 96.7,242.2 96.3,241.3 C95.9,240.4 95.6,239.4 95.8,238.5 C96.1,237.5 97.0,236.1 98.0,235.6 C98.9,235.1 100.3,235.0 101.4,235.6 C102.4,236.1 103.8,237.9 104.3,238.9 C104.8,240.0 104.7,241.1 104.1,241.9 C103.6,242.8 102.1,243.6 101.1,243.9Z" fill="none" stroke="#d8283a" stroke-width="0.6" stroke-opacity="0.60"/><path d="M116.8,240.3 C116.5,241.3 115.4,243.0 114.4,243.6 C113.4,244.1 111.8,243.9 110.6,243.5 C109.5,243.0 108.1,241.7 107.6,240.8 C107.2,239.9 107.6,239.0 107.9,238.1 C108.2,237.2 108.4,236.0 109.3,235.6 C110.2,235.3 112.1,235.7 113.2,236.0 C114.3,236.3 115.4,236.7 116.0,237.4 C116.6,238.1 117.0,239.3 116.8,240.3Z" fill="none" stroke="#f09aa0" stroke-width="1.8" stroke-opacity="0.4"/><path d="M116.8,240.3 C116.5,241.3 115.4,243.0 114.4,243.6 C113.4,244.1 111.8,243.9 110.6,243.5 C109.5,243.0 108.1,241.7 107.6,240.8 C107.2,239.9 107.6,239.0 107.9,238.1 C108.2,237.2 108.4,236.0 109.3,235.6 C110.2,235.3 112.1,235.7 113.2,236.0 C114.3,236.3 115.4,236.7 116.0,237.4 C116.6,238.1 117.0,239.3 116.8,240.3Z" fill="none" stroke="#d8283a" stroke-width="0.6" stroke-opacity="0.46"/><path d="M125.1,243.0 C124.4,244.1 123.0,244.9 122.1,245.2 C121.1,245.4 120.1,245.0 119.5,244.5 C118.8,244.1 118.2,243.2 118.1,242.3 C118.1,241.4 118.3,240.2 118.9,239.2 C119.5,238.2 121.0,236.6 121.9,236.2 C122.8,235.9 123.6,236.7 124.4,237.0 C125.1,237.4 126.2,237.4 126.3,238.4 C126.5,239.4 125.8,241.8 125.1,243.0Z" fill="none" stroke="#f09aa0" stroke-width="1.8" stroke-opacity="0.4"/><path d="M125.1,243.0 C124.4,244.1 123.0,244.9 122.1,245.2 C121.1,245.4 120.1,245.0 119.5,244.5 C118.8,244.1 118.2,243.2 118.1,242.3 C118.1,241.4 118.3,240.2 118.9,239.2 C119.5,238.2 121.0,236.6 121.9,236.2 C122.8,235.9 123.6,236.7 124.4,237.0 C125.1,237.4 126.2,237.4 126.3,238.4 C126.5,239.4 125.8,241.8 125.1,243.0Z" fill="none" stroke="#d8283a" stroke-width="0.6" stroke-opacity="0.59"/><path d="M99.6,250.3 C98.9,251.1 96.5,251.7 95.6,251.9 C94.7,252.1 94.7,252.0 94.1,251.6 C93.4,251.2 91.9,250.2 91.8,249.3 C91.6,248.5 92.6,247.4 93.1,246.4 C93.6,245.4 93.9,244.0 94.8,243.5 C95.7,242.9 97.5,242.6 98.3,243.2 C99.2,243.8 99.8,245.7 100.0,246.9 C100.2,248.0 100.3,249.4 99.6,250.3Z" fill="none" stroke="#f09aa0" stroke-width="1.8" stroke-opacity="0.4"/><path d="M99.6,250.3 C98.9,251.1 96.5,251.7 95.6,251.9 C94.7,252.1 94.7,252.0 94.1,251.6 C93.4,251.2 91.9,250.2 91.8,249.3 C91.6,248.5 92.6,247.4 93.1,246.4 C93.6,245.4 93.9,244.0 94.8,243.5 C95.7,242.9 97.5,242.6 98.3,243.2 C99.2,243.8 99.8,245.7 100.0,246.9 C100.2,248.0 100.3,249.4 99.6,250.3Z" fill="none" stroke="#d8283a" stroke-width="0.6" stroke-opacity="0.52"/><path d="M106.5,251.8 C105.6,252.2 104.4,252.7 103.4,252.6 C102.3,252.5 100.5,251.7 100.2,251.1 C99.8,250.6 100.7,249.8 101.2,249.1 C101.8,248.3 102.5,247.1 103.5,246.6 C104.4,246.2 105.8,246.2 106.9,246.3 C108.0,246.5 109.8,246.8 110.1,247.5 C110.5,248.2 109.6,249.8 109.0,250.5 C108.3,251.2 107.4,251.5 106.5,251.8Z" fill="none" stroke="#f09aa0" stroke-width="1.8" stroke-opacity="0.4"/><path d="M106.5,251.8 C105.6,252.2 104.4,252.7 103.4,252.6 C102.3,252.5 100.5,251.7 100.2,251.1 C99.8,250.6 100.7,249.8 101.2,249.1 C101.8,248.3 102.5,247.1 103.5,246.6 C104.4,246.2 105.8,246.2 106.9,246.3 C108.0,246.5 109.8,246.8 110.1,247.5 C110.5,248.2 109.6,249.8 109.0,250.5 C108.3,251.2 107.4,251.5 106.5,251.8Z" fill="none" stroke="#d8283a" stroke-width="0.6" stroke-opacity="0.45"/><path d="M118.0,253.1 C117.4,253.3 115.7,252.9 114.8,252.7 C113.8,252.4 112.8,252.6 112.2,251.8 C111.6,251.0 110.9,248.8 111.2,247.8 C111.4,246.8 112.8,246.1 113.6,245.7 C114.5,245.4 115.5,245.3 116.3,245.6 C117.1,246.0 118.1,246.9 118.4,247.9 C118.8,248.8 118.3,250.4 118.3,251.3 C118.2,252.1 118.5,252.9 118.0,253.1Z" fill="none" stroke="#f09aa0" stroke-width="1.8" stroke-opacity="0.4"/><path d="M118.0,253.1 C117.4,253.3 115.7,252.9 114.8,252.7 C113.8,252.4 112.8,252.6 112.2,251.8 C111.6,251.0 110.9,248.8 111.2,247.8 C111.4,246.8 112.8,246.1 113.6,245.7 C114.5,245.4 115.5,245.3 116.3,245.6 C117.1,246.0 118.1,246.9 118.4,247.9 C118.8,248.8 118.3,250.4 118.3,251.3 C118.2,252.1 118.5,252.9 118.0,253.1Z" fill="none" stroke="#d8283a" stroke-width="0.6" stroke-opacity="0.58"/><path d="M96.0,259.0 C95.6,260.1 93.7,261.3 92.7,261.8 C91.8,262.2 91.0,262.1 90.2,262.0 C89.5,261.8 88.7,261.8 88.3,261.0 C87.8,260.2 87.2,258.5 87.5,257.3 C87.8,256.1 89.4,254.5 90.2,253.8 C91.0,253.1 91.5,253.0 92.3,253.3 C93.1,253.5 94.3,254.4 94.9,255.3 C95.5,256.3 96.3,258.0 96.0,259.0Z" fill="none" stroke="#f09aa0" stroke-width="1.8" stroke-opacity="0.4"/><path d="M96.0,259.0 C95.6,260.1 93.7,261.3 92.7,261.8 C91.8,262.2 91.0,262.1 90.2,262.0 C89.5,261.8 88.7,261.8 88.3,261.0 C87.8,260.2 87.2,258.5 87.5,257.3 C87.8,256.1 89.4,254.5 90.2,253.8 C91.0,253.1 91.5,253.0 92.3,253.3 C93.1,253.5 94.3,254.4 94.9,255.3 C95.5,256.3 96.3,258.0 96.0,259.0Z" fill="none" stroke="#d8283a" stroke-width="0.6" stroke-opacity="0.46"/><path d="M104.2,259.2 C104.0,260.2 102.9,261.8 102.2,262.3 C101.4,262.9 100.7,263.1 99.7,262.6 C98.7,262.1 97.0,260.3 96.3,259.3 C95.6,258.3 95.5,257.1 95.6,256.5 C95.7,255.9 96.1,255.9 97.0,255.7 C97.9,255.5 99.8,255.1 100.9,255.2 C102.0,255.3 103.0,255.6 103.5,256.3 C104.1,256.9 104.5,258.1 104.2,259.2Z" fill="none" stroke="#f09aa0" stroke-width="1.8" stroke-opacity="0.4"/><path d="M104.2,259.2 C104.0,260.2 102.9,261.8 102.2,262.3 C101.4,262.9 100.7,263.1 99.7,262.6 C98.7,262.1 97.0,260.3 96.3,259.3 C95.6,258.3 95.5,257.1 95.6,256.5 C95.7,255.9 96.1,255.9 97.0,255.7 C97.9,255.5 99.8,255.1 100.9,255.2 C102.0,255.3 103.0,255.6 103.5,256.3 C104.1,256.9 104.5,258.1 104.2,259.2Z" fill="none" stroke="#d8283a" stroke-width="0.6" stroke-opacity="0.48"/><path d="M113.7,257.4 C113.4,258.2 113.3,258.9 112.6,259.1 C111.9,259.3 110.3,259.4 109.5,258.9 C108.6,258.4 107.6,256.8 107.4,256.0 C107.2,255.2 107.8,254.5 108.4,254.0 C109.0,253.5 109.9,253.2 110.8,252.9 C111.7,252.7 113.3,252.3 113.9,252.5 C114.6,252.8 114.6,253.6 114.5,254.4 C114.5,255.3 114.0,256.6 113.7,257.4Z" fill="none" stroke="#f09aa0" stroke-width="1.8" stroke-opacity="0.4"/><path d="M113.7,257.4 C113.4,258.2 113.3,258.9 112.6,259.1 C111.9,259.3 110.3,259.4 109.5,258.9 C108.6,258.4 107.6,256.8 107.4,256.0 C107.2,255.2 107.8,254.5 108.4,254.0 C109.0,253.5 109.9,253.2 110.8,252.9 C111.7,252.7 113.3,252.3 113.9,252.5 C114.6,252.8 114.6,253.6 114.5,254.4 C114.5,255.3 114.0,256.6 113.7,257.4Z" fill="none" stroke="#d8283a" stroke-width="0.6" stroke-opacity="0.42"/><path d="M61.5,258.0 C61.9,256.7 62.8,255.8 64.0,255.2 C65.2,254.6 67.3,254.5 69.0,254.6 C70.7,254.7 72.7,255.2 74.0,255.8 C75.3,256.4 76.3,257.3 76.8,258.5 C77.3,259.7 77.3,261.6 77.2,263.0 C77.1,264.4 77.2,266.1 76.0,266.8 C74.8,267.5 72.0,267.3 70.0,267.3 C68.0,267.3 65.4,267.5 64.0,266.8 C62.6,266.1 62.2,264.5 61.8,263.0 C61.4,261.5 61.1,259.3 61.5,258.0Z" fill="#c0c0f8" fill-opacity="0.8"/><path d="M61.5,258.4 C61.7,257.1 62.2,255.6 63.5,255.0 C64.9,254.4 67.8,254.7 69.5,254.8 C71.1,254.9 72.3,255.0 73.6,255.6 C74.9,256.3 76.7,257.1 77.2,258.4 C77.7,259.7 77.0,262.0 76.7,263.4 C76.5,264.8 76.7,266.3 75.6,266.9 C74.5,267.6 72.0,267.3 70.1,267.3 C68.3,267.2 65.8,267.3 64.5,266.5 C63.1,265.7 62.4,264.0 61.9,262.6 C61.4,261.3 61.2,259.6 61.5,258.4Z" fill="none" stroke="#8c8cf2" stroke-width="2.2" stroke-opacity="0.6"/><path d="M61.5,258.4 C61.7,257.1 62.2,255.6 63.5,255.0 C64.9,254.4 67.8,254.7 69.5,254.8 C71.1,254.9 72.3,255.0 73.6,255.6 C74.9,256.3 76.7,257.1 77.2,258.4 C77.7,259.7 77.0,262.0 76.7,263.4 C76.5,264.8 76.7,266.3 75.6,266.9 C74.5,267.6 72.0,267.3 70.1,267.3 C68.3,267.2 65.8,267.3 64.5,266.5 C63.1,265.7 62.4,264.0 61.9,262.6 C61.4,261.3 61.2,259.6 61.5,258.4Z" fill="none" stroke="#2a2ae8" stroke-width="0.7" stroke-opacity="0.69"/><path d="M63.7,259.0 C64.0,258.2 65.3,257.8 66.1,257.4 C66.9,257.1 67.6,257.1 68.7,257.0 C69.9,257.0 71.9,256.9 72.9,257.3 C73.8,257.6 74.4,258.2 74.7,259.0 C74.9,259.8 74.5,260.9 74.3,262.0 C74.2,263.0 74.4,264.6 73.7,265.2 C72.9,265.8 71.0,265.8 69.8,265.7 C68.5,265.6 67.1,265.2 66.2,264.6 C65.2,264.0 64.6,262.8 64.2,261.9 C63.8,260.9 63.4,259.7 63.7,259.0Z" fill="none" stroke="#8c8cf2" stroke-width="2.2" stroke-opacity="0.6"/><path d="M63.7,259.0 C64.0,258.2 65.3,257.8 66.1,257.4 C66.9,257.1 67.6,257.1 68.7,257.0 C69.9,257.0 71.9,256.9 72.9,257.3 C73.8,257.6 74.4,258.2 74.7,259.0 C74.9,259.8 74.5,260.9 74.3,262.0 C74.2,263.0 74.4,264.6 73.7,265.2 C72.9,265.8 71.0,265.8 69.8,265.7 C68.5,265.6 67.1,265.2 66.2,264.6 C65.2,264.0 64.6,262.8 64.2,261.9 C63.8,260.9 63.4,259.7 63.7,259.0Z" fill="none" stroke="#2a2ae8" stroke-width="0.7" stroke-opacity="0.61"/><path d="M66.8,260.0 C66.9,259.6 66.8,259.2 67.1,259.0 C67.5,258.9 68.2,259.1 68.9,259.0 C69.5,259.0 70.4,258.5 71.0,258.7 C71.6,259.0 72.3,259.9 72.5,260.5 C72.7,261.1 72.1,261.6 72.0,262.1 C71.8,262.5 71.9,262.8 71.5,263.0 C71.1,263.2 70.4,263.5 69.7,263.4 C69.0,263.3 67.6,262.8 67.1,262.5 C66.6,262.2 66.5,261.9 66.4,261.5 C66.4,261.1 66.6,260.4 66.8,260.0Z" fill="none" stroke="#8c8cf2" stroke-width="2.2" stroke-opacity="0.6"/><path d="M66.8,260.0 C66.9,259.6 66.8,259.2 67.1,259.0 C67.5,258.9 68.2,259.1 68.9,259.0 C69.5,259.0 70.4,258.5 71.0,258.7 C71.6,259.0 72.3,259.9 72.5,260.5 C72.7,261.1 72.1,261.6 72.0,262.1 C71.8,262.5 71.9,262.8 71.5,263.0 C71.1,263.2 70.4,263.5 69.7,263.4 C69.0,263.3 67.6,262.8 67.1,262.5 C66.6,262.2 66.5,261.9 66.4,261.5 C66.4,261.1 66.6,260.4 66.8,260.0Z" fill="none" stroke="#2a2ae8" stroke-width="0.7" stroke-opacity="0.66"/></g><g><path d="M103.8,199.8 C105.5,198.2 107.6,198.7 110.0,198.4 C112.4,198.1 115.6,198.0 118.0,198.0 C120.4,198.0 122.8,197.9 124.5,198.3 C126.2,198.7 127.3,199.2 128.2,200.5 C129.1,201.8 129.7,203.6 130.0,206.0 C130.3,208.4 130.4,211.7 130.3,215.0 C130.2,218.3 129.8,221.3 129.5,226.0 C129.2,230.7 128.9,238.0 128.5,243.0 C128.1,248.0 127.6,252.8 127.0,256.0 C126.4,259.2 126.0,260.4 125.0,262.0 C124.0,263.6 123.5,264.6 121.0,265.3 C118.5,266.0 114.2,265.9 110.0,266.0 C105.8,266.1 99.5,266.1 96.0,266.0 C92.5,265.9 90.4,265.6 88.7,265.3 C87.0,265.0 86.9,265.0 86.0,264.0 C85.1,263.0 84.0,261.4 83.3,259.3 C82.6,257.2 82.2,254.0 82.0,251.3 C81.8,248.6 81.7,246.0 82.0,243.3 C82.3,240.6 83.2,237.5 84.0,235.3 C84.8,233.1 85.4,231.9 86.7,230.0 C88.0,228.1 90.4,226.3 92.0,224.0 C93.6,221.7 95.0,218.7 96.3,216.0 C97.5,213.3 98.2,210.7 99.5,208.0 C100.8,205.3 102.0,201.4 103.8,199.8Z" fill="none" stroke="#222" stroke-width="0.75" stroke-dasharray="0.8 1.3"/></g>
<text x="182.8" y="163.2" font-size="20.5" fill="#000" stroke="#000" stroke-width="0.28">C</text><text x="231.2" y="170.7" font-size="8.85" text-anchor="end" fill="#111" stroke="#111" stroke-width="0.28">500000</text><path d="M232.4,167.6 H236.8" stroke="#222" stroke-width="0.9"/><text x="231.2" y="184.8" font-size="8.85" text-anchor="end" fill="#111" stroke="#111" stroke-width="0.28">400000</text><path d="M232.4,181.7 H236.8" stroke="#222" stroke-width="0.9"/><text x="231.2" y="198.9" font-size="8.85" text-anchor="end" fill="#111" stroke="#111" stroke-width="0.28">300000</text><path d="M232.4,195.8 H236.8" stroke="#222" stroke-width="0.9"/><text x="231.2" y="213.0" font-size="8.85" text-anchor="end" fill="#111" stroke="#111" stroke-width="0.28">200000</text><path d="M232.4,209.9 H236.8" stroke="#222" stroke-width="0.9"/><text x="231.2" y="227.2" font-size="8.85" text-anchor="end" fill="#111" stroke="#111" stroke-width="0.28">100000</text><path d="M232.4,224.1 H236.8" stroke="#222" stroke-width="0.9"/><text x="228.8" y="245.9" font-size="8.85" text-anchor="end" fill="#111" stroke="#111" stroke-width="0.28">40000</text><path d="M232.4,242.8 H236.8" stroke="#222" stroke-width="0.9"/><text x="228.8" y="253.5" font-size="8.85" text-anchor="end" fill="#111" stroke="#111" stroke-width="0.28">20000</text><path d="M232.4,250.4 H236.8" stroke="#222" stroke-width="0.9"/><text x="228.8" y="261.1" font-size="8.85" text-anchor="end" fill="#111" stroke="#111" stroke-width="0.28">0</text><path d="M232.4,258.0 H236.8" stroke="#222" stroke-width="0.9"/><text x="228.8" y="268.7" font-size="8.85" text-anchor="end" fill="#111" stroke="#111" stroke-width="0.28">-20000</text><path d="M232.4,265.6 H236.8" stroke="#222" stroke-width="0.9"/><path d="M236.8,167.2 V230.2 M236.8,238.8 V266.3" stroke="#222" stroke-width="1.2" fill="none"/><path d="M234.3,229.4 L239.7,234.6 M234.3,235.9 L239.7,240.8" stroke="#222" stroke-width="1.1"/><path d="M236.20000000000002,265.9 H385" stroke="#222" stroke-width="1.3"/><path d="M251.1,266 V270.3" stroke="#222" stroke-width="1.0"/><path d="M280.7,266 V270.3" stroke="#222" stroke-width="1.0"/><path d="M310.3,266 V270.3" stroke="#222" stroke-width="1.0"/><path d="M339.9,266 V270.3" stroke="#222" stroke-width="1.0"/><path d="M369.6,266 V270.3" stroke="#222" stroke-width="1.0"/><path d="M237.8,258.2 H385" stroke="#999" stroke-width="0.6" stroke-dasharray="1 2"/><path d="M265.9,167.3 V265.3" stroke="#555" stroke-width="0.9" stroke-dasharray="0.9 2.4"/><path d="M295.7,168 V265.3" stroke="#555" stroke-width="0.9" stroke-dasharray="0.9 2.4"/><path d="M325,167.2 V265.3" stroke="#555" stroke-width="0.9" stroke-dasharray="0.9 2.4"/><path d="M354.6,166.7 V265.3" stroke="#555" stroke-width="0.9" stroke-dasharray="0.9 2.4"/><path d="M240.4,163.4 H329.6 M240.4,174.9 H300.6 M240.2,201.6 H270.7" stroke="#666" stroke-width="0.9"/><text x="286.8" y="161.6" font-size="7" text-anchor="middle" fill="#222" font-weight="bold" stroke="#222" stroke-width="0.28">***</text><text x="270.6" y="172.6" font-size="7" text-anchor="middle" fill="#222" font-weight="bold" stroke="#222" stroke-width="0.28">*</text><text x="256.3" y="199.4" font-size="6.6" text-anchor="middle" fill="#222" stroke="#222" stroke-width="0.28">ns</text><text transform="translate(199.8,213.3) rotate(-90)" text-anchor="middle" font-size="9.6" fill="#222" stroke="#222" stroke-width="0.28">GMFI (DiD)</text><path d="M240.5,216.3 V230.3 M238.5,216.3 H242.5 M238.5,230.3 H242.5" stroke="#777" stroke-width="0.8" fill="none"/><circle cx="240.5" cy="223.7" r="2.25" fill="#000"/><path d="M270.0,213.7 V221.3 M268.0,213.7 H272.0 M268.0,221.3 H272.0" stroke="#777" stroke-width="0.8" fill="none"/><circle cx="270.0" cy="217.8" r="2.25" fill="#000"/><path d="M299.9,201.2 V217.2 M297.9,201.2 H301.9 M297.9,217.2 H301.9" stroke="#777" stroke-width="0.8" fill="none"/><circle cx="299.9" cy="209.2" r="2.25" fill="#000"/><path d="M329.5,181.5 V210.8 M327.5,181.5 H331.5 M327.5,210.8 H331.5" stroke="#777" stroke-width="0.8" fill="none"/><circle cx="329.5" cy="196.1" r="2.25" fill="#000"/><path d="M243.45,260.76 L247.95,260.76 L245.70,256.84 Z" fill="#000"/><path d="M248.65,256.14 L253.15,256.14 L250.90,260.06 Z" fill="#000"/><path d="M256.1,240.5 V256.5 M254.10000000000002,240.5 H258.1 M254.10000000000002,256.5 H258.1" stroke="#777" stroke-width="0.8" fill="none"/><rect x="254.15" y="247.05" width="3.9" height="3.9" fill="#000"/><path d="M259.10,258.7 H263.70 M261.4,256.40 V261.00" stroke="#000" stroke-width="1.0"/><path d="M273.05,260.76 L277.55,260.76 L275.30,256.84 Z" fill="#000"/><path d="M278.25,256.14 L282.75,256.14 L280.50,260.06 Z" fill="#000"/><path d="M285.7,252.0 V256.8 M283.7,252.0 H287.7 M283.7,256.8 H287.7" stroke="#777" stroke-width="0.8" fill="none"/><rect x="283.75" y="252.45" width="3.9" height="3.9" fill="#000"/><path d="M288.70,258.7 H293.30 M291.0,256.40 V261.00" stroke="#000" stroke-width="1.0"/><path d="M302.65,260.76 L307.15,260.76 L304.90,256.84 Z" fill="#000"/><path d="M307.85,256.14 L312.35,256.14 L310.10,260.06 Z" fill="#000"/><path d="M315.3,249.0 V257.0 M313.3,249.0 H317.3 M313.3,257.0 H317.3" stroke="#777" stroke-width="0.8" fill="none"/><rect x="313.35" y="251.05" width="3.9" height="3.9" fill="#000"/><path d="M318.30,258.7 H322.90 M320.6,256.40 V261.00" stroke="#000" stroke-width="1.0"/><path d="M332.25,260.76 L336.75,260.76 L334.50,256.84 Z" fill="#000"/><path d="M337.45,256.14 L341.95,256.14 L339.70,260.06 Z" fill="#000"/><path d="M344.9,251.0 V255.0 M342.9,251.0 H346.9 M342.9,255.0 H346.9" stroke="#777" stroke-width="0.8" fill="none"/><rect x="342.95" y="251.05" width="3.9" height="3.9" fill="#000"/><path d="M347.90,258.7 H352.50 M350.2,256.40 V261.00" stroke="#000" stroke-width="1.0"/><circle cx="359.0" cy="259.0" r="1.9" fill="#000"/><path d="M361.95,260.76 L366.45,260.76 L364.20,256.84 Z" fill="#000"/><path d="M367.15,256.14 L371.65,256.14 L369.40,260.06 Z" fill="#000"/><rect x="372.65" y="256.25" width="3.9" height="3.9" fill="#000"/><path d="M377.60,258.7 H382.20 M379.90000000000003,256.40 V261.00" stroke="#000" stroke-width="1.0"/><text transform="translate(258.7,277.1) rotate(-45)" text-anchor="end" font-size="8.9" fill="#222" stroke="#222" stroke-width="0.28">0 mol%</text><text transform="translate(286.5,277.1) rotate(-45)" text-anchor="end" font-size="8.9" fill="#222" stroke="#222" stroke-width="0.28">1 mol%</text><text transform="translate(316.3,277.1) rotate(-45)" text-anchor="end" font-size="8.9" fill="#222" stroke="#222" stroke-width="0.28">3 mol%</text><text transform="translate(345.8,277.1) rotate(-45)" text-anchor="end" font-size="8.9" fill="#222" stroke="#222" stroke-width="0.28">5 mol%</text><text transform="translate(373.8,277.1) rotate(-45)" text-anchor="end" font-size="8.9" fill="#222" stroke="#222" stroke-width="0.28">naive</text><circle cx="402.0" cy="170.7" r="2.85" fill="#000"/><text x="413.2" y="173.7" font-size="9.4" textLength="54.5" lengthAdjust="spacingAndGlyphs" fill="#222" stroke="#222" stroke-width="0.28">CD169 MΦ</text><path d="M399.15,184.21 L404.85,184.21 L402.00,178.79 Z" fill="#000"/><text x="413.2" y="184.6" font-size="9.4" textLength="25.4" lengthAdjust="spacingAndGlyphs" fill="#222" stroke="#222" stroke-width="0.28">cDC1</text><path d="M399.15,189.69 L404.85,189.69 L402.00,195.11 Z" fill="#000"/><text x="413.2" y="195.5" font-size="9.4" textLength="25.4" lengthAdjust="spacingAndGlyphs" fill="#222" stroke="#222" stroke-width="0.28">cDC2</text><rect x="399.40" y="200.90" width="5.2" height="5.2" fill="#000"/><text x="413.2" y="206.6" font-size="9.4" textLength="65.5" lengthAdjust="spacingAndGlyphs" fill="#222" stroke="#222" stroke-width="0.28">Red pulp MΦ</text><path d="M399.30,214.8 H404.70 M402.0,212.10 V217.50" stroke="#000" stroke-width="1.15"/><text x="413.2" y="217.9" font-size="9.4" textLength="18.8" lengthAdjust="spacingAndGlyphs" fill="#222" stroke="#222" stroke-width="0.28">pDC</text>
</svg></body></html>
